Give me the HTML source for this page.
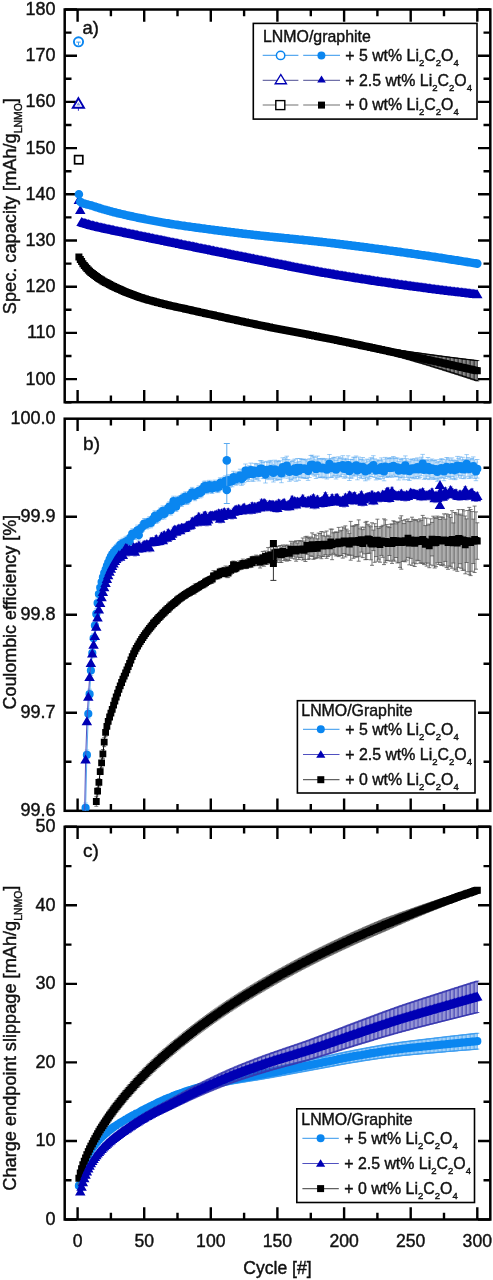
<!DOCTYPE html><html><head><meta charset="utf-8"><title>Figure</title><style>*{margin:0;padding:0}html,body{width:493px;height:1280px;overflow:hidden;background:#fff}
svg{display:block;filter:blur(0.3px)}
text{font-family:"Liberation Sans",Arial,sans-serif;fill:#111}
.tl{font-size:18px}.xl{font-size:17.6px}.xt{font-size:17.6px}.yt{font-size:18.2px}.yb{font-size:17.9px}.ys{font-size:10.4px}
.pl{font-size:19px}.lg{font-size:15.9px}.sb{font-size:9.5px}
text{stroke:#111;stroke-width:0.42px}</style></head><body><svg width="493" height="1280" viewBox="0 0 493 1280"><rect width="493" height="1280" fill="#fff"/><clipPath id="ca"><rect x="64.7" y="9.5" width="425.6" height="392.7"/></clipPath><path d="M77.6 9.5v12.3M77.6 402.2v-12.3M110.9 9.5v6.8M110.9 402.2v-6.8M144.2 9.5v12.3M144.2 402.2v-12.3M177.5 9.5v6.8M177.5 402.2v-6.8M210.8 9.5v12.3M210.8 402.2v-12.3M244.1 9.5v6.8M244.1 402.2v-6.8M277.4 9.5v12.3M277.4 402.2v-12.3M310.8 9.5v6.8M310.8 402.2v-6.8M344.1 9.5v12.3M344.1 402.2v-12.3M377.4 9.5v6.8M377.4 402.2v-6.8M410.7 9.5v12.3M410.7 402.2v-12.3M444 9.5v6.8M444 402.2v-6.8M477.3 9.5v12.3M477.3 402.2v-12.3M64.7 379.1h12.3M490.3 379.1h-12.3M64.7 332.9h12.3M490.3 332.9h-12.3M64.7 286.7h12.3M490.3 286.7h-12.3M64.7 240.5h12.3M490.3 240.5h-12.3M64.7 194.3h12.3M490.3 194.3h-12.3M64.7 148.1h12.3M490.3 148.1h-12.3M64.7 101.9h12.3M490.3 101.9h-12.3M64.7 55.7h12.3M490.3 55.7h-12.3M64.7 9.5h12.3M490.3 9.5h-12.3M64.7 402.2h6.8M490.3 402.2h-6.8M64.7 356h6.8M490.3 356h-6.8M64.7 309.8h6.8M490.3 309.8h-6.8M64.7 263.6h6.8M490.3 263.6h-6.8M64.7 217.4h6.8M490.3 217.4h-6.8M64.7 171.2h6.8M490.3 171.2h-6.8M64.7 125h6.8M490.3 125h-6.8M64.7 78.8h6.8M490.3 78.8h-6.8M64.7 32.6h6.8M490.3 32.6h-6.8" stroke="#000" stroke-width="2.4" fill="none"/><rect x="64.7" y="9.5" width="425.6" height="392.7" fill="none" stroke="#000" stroke-width="2.5"/><text x="55.6" y="384.5" text-anchor="end" class="tl">100</text><text x="55.6" y="338.3" text-anchor="end" class="tl">110</text><text x="55.6" y="292.1" text-anchor="end" class="tl">120</text><text x="55.6" y="245.9" text-anchor="end" class="tl">130</text><text x="55.6" y="199.7" text-anchor="end" class="tl">140</text><text x="55.6" y="153.5" text-anchor="end" class="tl">150</text><text x="55.6" y="107.3" text-anchor="end" class="tl">160</text><text x="55.6" y="61.1" text-anchor="end" class="tl">170</text><text x="55.6" y="14.9" text-anchor="end" class="tl">180</text><g clip-path="url(#ca)"><path d="M78.9 256V258.3M76.9 256h4M76.9 258.3h4M80.3 258.3V260.6M78.3 258.3h4M78.3 260.6h4M81.6 260.5V262.8M79.6 260.5h4M79.6 262.8h4M82.9 262.5V264.8M80.9 262.5h4M80.9 264.8h4M84.3 264.3V266.6M82.3 264.3h4M82.3 266.6h4M85.6 265.9V268.2M83.6 265.9h4M83.6 268.2h4M86.9 267.4V269.7M84.9 267.4h4M84.9 269.7h4M88.3 268.8V271.1M86.3 268.8h4M86.3 271.1h4M89.6 270.1V272.4M87.6 270.1h4M87.6 272.4h4M90.9 271.3V273.6M88.9 271.3h4M88.9 273.6h4M92.3 272.4V274.7M90.3 272.4h4M90.3 274.7h4M93.6 273.5V275.8M91.6 273.5h4M91.6 275.8h4M94.9 274.5V276.8M92.9 274.5h4M92.9 276.8h4M96.3 275.4V277.7M94.3 275.4h4M94.3 277.7h4M97.6 276.4V278.7M95.6 276.4h4M95.6 278.7h4M98.9 277.2V279.5M96.9 277.2h4M96.9 279.5h4M100.2 278.1V280.4M98.2 278.1h4M98.2 280.4h4M101.6 278.9V281.2M99.6 278.9h4M99.6 281.2h4M102.9 279.7V282M100.9 279.7h4M100.9 282h4M104.2 280.5V282.8M102.2 280.5h4M102.2 282.8h4M105.6 281.2V283.6M103.6 281.2h4M103.6 283.6h4M106.9 282V284.3M104.9 282h4M104.9 284.3h4M108.2 282.7V285M106.2 282.7h4M106.2 285h4M109.6 283.4V285.7M107.6 283.4h4M107.6 285.7h4M110.9 284.1V286.4M108.9 284.1h4M108.9 286.4h4M112.2 284.7V287M110.2 284.7h4M110.2 287h4M113.6 285.4V287.7M111.6 285.4h4M111.6 287.7h4M114.9 286V288.3M112.9 286h4M112.9 288.3h4M116.2 286.6V288.9M114.2 286.6h4M114.2 288.9h4M117.6 287.2V289.6M115.6 287.2h4M115.6 289.6h4M118.9 287.9V290.2M116.9 287.9h4M116.9 290.2h4M120.2 288.5V290.8M118.2 288.5h4M118.2 290.8h4M121.6 289.1V291.4M119.6 289.1h4M119.6 291.4h4M122.9 289.6V291.9M120.9 289.6h4M120.9 291.9h4M124.2 290.2V292.5M122.2 290.2h4M122.2 292.5h4M125.6 290.8V293.1M123.6 290.8h4M123.6 293.1h4M126.9 291.3V293.6M124.9 291.3h4M124.9 293.6h4M128.2 291.8V294.2M126.2 291.8h4M126.2 294.2h4M129.6 292.4V294.7M127.6 292.4h4M127.6 294.7h4M130.9 292.9V295.2M128.9 292.9h4M128.9 295.2h4M132.2 293.4V295.7M130.2 293.4h4M130.2 295.7h4M133.6 293.9V296.2M131.6 293.9h4M131.6 296.2h4M134.9 294.4V296.7M132.9 294.4h4M132.9 296.7h4M136.2 294.9V297.2M134.2 294.9h4M134.2 297.2h4M137.6 295.3V297.6M135.6 295.3h4M135.6 297.6h4M138.9 295.8V298.1M136.9 295.8h4M136.9 298.1h4M140.2 296.2V298.5M138.2 296.2h4M138.2 298.5h4M141.6 296.7V299M139.6 296.7h4M139.6 299h4M142.9 297.1V299.4M140.9 297.1h4M140.9 299.4h4M144.2 297.5V299.8M142.2 297.5h4M142.2 299.8h4M145.5 297.9V300.2M143.5 297.9h4M143.5 300.2h4M146.9 298.3V300.6M144.9 298.3h4M144.9 300.6h4M148.2 298.7V301M146.2 298.7h4M146.2 301h4M149.5 299.1V301.4M147.5 299.1h4M147.5 301.4h4M150.9 299.5V301.8M148.9 299.5h4M148.9 301.8h4M152.2 299.8V302.1M150.2 299.8h4M150.2 302.1h4M153.5 300.2V302.5M151.5 300.2h4M151.5 302.5h4M154.9 300.5V302.9M152.9 300.5h4M152.9 302.9h4M156.2 300.9V303.2M154.2 300.9h4M154.2 303.2h4M157.5 301.2V303.5M155.5 301.2h4M155.5 303.5h4M158.9 301.6V303.9M156.9 301.6h4M156.9 303.9h4M160.2 301.9V304.2M158.2 301.9h4M158.2 304.2h4M161.5 302.3V304.6M159.5 302.3h4M159.5 304.6h4M162.9 302.6V304.9M160.9 302.6h4M160.9 304.9h4M164.2 302.9V305.2M162.2 302.9h4M162.2 305.2h4M165.5 303.2V305.5M163.5 303.2h4M163.5 305.5h4M166.9 303.6V305.9M164.9 303.6h4M164.9 305.9h4M168.2 303.9V306.2M166.2 303.9h4M166.2 306.2h4M169.5 304.2V306.5M167.5 304.2h4M167.5 306.5h4M170.9 304.5V306.8M168.9 304.5h4M168.9 306.8h4M172.2 304.8V307.1M170.2 304.8h4M170.2 307.1h4M173.5 305.1V307.4M171.5 305.1h4M171.5 307.4h4M174.9 305.4V307.7M172.9 305.4h4M172.9 307.7h4M176.2 305.7V308M174.2 305.7h4M174.2 308h4M177.5 306V308.3M175.5 306h4M175.5 308.3h4M178.9 306.3V308.6M176.9 306.3h4M176.9 308.6h4M180.2 306.6V308.9M178.2 306.6h4M178.2 308.9h4M181.5 306.9V309.2M179.5 306.9h4M179.5 309.2h4M182.9 307.2V309.5M180.9 307.2h4M180.9 309.5h4M184.2 307.5V309.8M182.2 307.5h4M182.2 309.8h4M185.5 307.8V310.1M183.5 307.8h4M183.5 310.1h4M186.8 308.1V310.4M184.8 308.1h4M184.8 310.4h4M188.2 308.4V310.7M186.2 308.4h4M186.2 310.7h4M189.5 308.6V311M187.5 308.6h4M187.5 311h4M190.8 308.9V311.2M188.8 308.9h4M188.8 311.2h4M192.2 309.2V311.5M190.2 309.2h4M190.2 311.5h4M193.5 309.5V311.8M191.5 309.5h4M191.5 311.8h4M194.8 309.8V312.1M192.8 309.8h4M192.8 312.1h4M196.2 310.1V312.4M194.2 310.1h4M194.2 312.4h4M197.5 310.4V312.7M195.5 310.4h4M195.5 312.7h4M198.8 310.7V313M196.8 310.7h4M196.8 313h4M200.2 311V313.3M198.2 311h4M198.2 313.3h4M201.5 311.3V313.6M199.5 311.3h4M199.5 313.6h4M202.8 311.6V313.9M200.8 311.6h4M200.8 313.9h4M204.2 311.9V314.2M202.2 311.9h4M202.2 314.2h4M205.5 312.2V314.5M203.5 312.2h4M203.5 314.5h4M206.8 312.5V314.8M204.8 312.5h4M204.8 314.8h4M208.2 312.8V315.1M206.2 312.8h4M206.2 315.1h4M209.5 313.1V315.4M207.5 313.1h4M207.5 315.4h4M210.8 313.4V315.7M208.8 313.4h4M208.8 315.7h4M212.2 313.7V316M210.2 313.7h4M210.2 316h4M213.5 314V316.3M211.5 314h4M211.5 316.3h4M214.8 314.3V316.6M212.8 314.3h4M212.8 316.6h4M216.2 314.6V316.9M214.2 314.6h4M214.2 316.9h4M217.5 314.9V317.2M215.5 314.9h4M215.5 317.2h4M218.8 315.2V317.5M216.8 315.2h4M216.8 317.5h4M220.2 315.5V317.8M218.2 315.5h4M218.2 317.8h4M221.5 315.8V318.1M219.5 315.8h4M219.5 318.1h4M222.8 316.1V318.4M220.8 316.1h4M220.8 318.4h4M224.2 316.3V318.7M222.2 316.3h4M222.2 318.7h4M225.5 316.6V318.9M223.5 316.6h4M223.5 318.9h4M226.8 316.9V319.2M224.8 316.9h4M224.8 319.2h4M228.1 317.2V319.5M226.1 317.2h4M226.1 319.5h4M229.5 317.5V319.8M227.5 317.5h4M227.5 319.8h4M230.8 317.8V320.1M228.8 317.8h4M228.8 320.1h4M232.1 318.1V320.4M230.1 318.1h4M230.1 320.4h4M233.5 318.4V320.7M231.5 318.4h4M231.5 320.7h4M234.8 318.7V321M232.8 318.7h4M232.8 321h4M236.1 319V321.3M234.1 319h4M234.1 321.3h4M237.5 319.3V321.6M235.5 319.3h4M235.5 321.6h4M238.8 319.6V321.9M236.8 319.6h4M236.8 321.9h4M240.1 319.8V322.2M238.1 319.8h4M238.1 322.2h4M241.5 320.1V322.4M239.5 320.1h4M239.5 322.4h4M242.8 320.4V322.7M240.8 320.4h4M240.8 322.7h4M244.1 320.7V323M242.1 320.7h4M242.1 323h4M245.5 321V323.3M243.5 321h4M243.5 323.3h4M246.8 321.3V323.6M244.8 321.3h4M244.8 323.6h4M248.1 321.6V323.9M246.1 321.6h4M246.1 323.9h4M249.5 321.8V324.1M247.5 321.8h4M247.5 324.1h4M250.8 322.1V324.4M248.8 322.1h4M248.8 324.4h4M252.1 322.4V324.7M250.1 322.4h4M250.1 324.7h4M253.5 322.7V325M251.5 322.7h4M251.5 325h4M254.8 323V325.3M252.8 323h4M252.8 325.3h4M256.1 323.2V325.6M254.1 323.2h4M254.1 325.6h4M257.5 323.5V325.8M255.5 323.5h4M255.5 325.8h4M258.8 323.8V326.1M256.8 323.8h4M256.8 326.1h4M260.1 324.1V326.4M258.1 324.1h4M258.1 326.4h4M261.5 324.4V326.7M259.5 324.4h4M259.5 326.7h4M262.8 324.6V326.9M260.8 324.6h4M260.8 326.9h4M264.1 324.9V327.2M262.1 324.9h4M262.1 327.2h4M265.5 325.2V327.5M263.5 325.2h4M263.5 327.5h4M266.8 325.4V327.8M264.8 325.4h4M264.8 327.8h4M268.1 325.7V328M266.1 325.7h4M266.1 328h4M269.5 326V328.3M267.5 326h4M267.5 328.3h4M270.8 326.2V328.6M268.8 326.2h4M268.8 328.6h4M272.1 326.5V328.8M270.1 326.5h4M270.1 328.8h4M273.4 326.8V329.1M271.4 326.8h4M271.4 329.1h4M274.8 327V329.3M272.8 327h4M272.8 329.3h4M276.1 327.3V329.6M274.1 327.3h4M274.1 329.6h4M277.4 327.6V329.9M275.4 327.6h4M275.4 329.9h4M278.8 327.8V330.1M276.8 327.8h4M276.8 330.1h4M280.1 328.1V330.4M278.1 328.1h4M278.1 330.4h4M281.4 328.3V330.6M279.4 328.3h4M279.4 330.6h4M282.8 328.6V330.9M280.8 328.6h4M280.8 330.9h4M284.1 328.9V331.2M282.1 328.9h4M282.1 331.2h4M285.4 329.1V331.4M283.4 329.1h4M283.4 331.4h4M286.8 329.4V331.7M284.8 329.4h4M284.8 331.7h4M288.1 329.6V331.9M286.1 329.6h4M286.1 331.9h4M289.4 329.9V332.2M287.4 329.9h4M287.4 332.2h4M290.8 330.1V332.4M288.8 330.1h4M288.8 332.4h4M292.1 330.4V332.7M290.1 330.4h4M290.1 332.7h4M293.4 330.6V333M291.4 330.6h4M291.4 333h4M294.8 330.9V333.2M292.8 330.9h4M292.8 333.2h4M296.1 331.2V333.5M294.1 331.2h4M294.1 333.5h4M297.4 331.4V333.7M295.4 331.4h4M295.4 333.7h4M298.8 331.7V334M296.8 331.7h4M296.8 334h4M300.1 331.9V334.2M298.1 331.9h4M298.1 334.2h4M301.4 332.2V334.5M299.4 332.2h4M299.4 334.5h4M302.8 332.4V334.7M300.8 332.4h4M300.8 334.7h4M304.1 332.7V335M302.1 332.7h4M302.1 335h4M305.4 332.9V335.2M303.4 332.9h4M303.4 335.2h4M306.8 333.2V335.5M304.8 333.2h4M304.8 335.5h4M308.1 333.4V335.8M306.1 333.4h4M306.1 335.8h4M309.4 333.7V336M307.4 333.7h4M307.4 336h4M310.8 334V336.3M308.8 334h4M308.8 336.3h4M312.1 334.2V336.5M310.1 334.2h4M310.1 336.5h4M313.4 334.5V336.8M311.4 334.5h4M311.4 336.8h4M314.7 334.7V337M312.7 334.7h4M312.7 337h4M316.1 335V337.3M314.1 335h4M314.1 337.3h4M317.4 335.2V337.5M315.4 335.2h4M315.4 337.5h4M318.7 335.5V337.8M316.7 335.5h4M316.7 337.8h4M320.1 335.8V338.1M318.1 335.8h4M318.1 338.1h4M321.4 336V338.3M319.4 336h4M319.4 338.3h4M322.7 336.3V338.6M320.7 336.3h4M320.7 338.6h4M324.1 336.5V338.9M322.1 336.5h4M322.1 338.9h4M325.4 336.8V339.1M323.4 336.8h4M323.4 339.1h4M326.7 337.1V339.4M324.7 337.1h4M324.7 339.4h4M328.1 337.3V339.6M326.1 337.3h4M326.1 339.6h4M329.4 337.6V339.9M327.4 337.6h4M327.4 339.9h4M330.7 337.9V340.2M328.7 337.9h4M328.7 340.2h4M332.1 338.1V340.4M330.1 338.1h4M330.1 340.4h4M333.4 338.4V340.7M331.4 338.4h4M331.4 340.7h4M334.7 338.7V341M332.7 338.7h4M332.7 341h4M336.1 338.9V341.3M334.1 338.9h4M334.1 341.3h4M337.4 339.2V341.5M335.4 339.2h4M335.4 341.5h4M338.7 339.5V341.8M336.7 339.5h4M336.7 341.8h4M340.1 339.8V342.1M338.1 339.8h4M338.1 342.1h4M341.4 340V342.3M339.4 340h4M339.4 342.3h4M342.7 340.3V342.6M340.7 340.3h4M340.7 342.6h4M344.1 340.6V342.9M342.1 340.6h4M342.1 342.9h4M345.4 340.9V343.2M343.4 340.9h4M343.4 343.2h4M346.7 341.1V343.5M344.7 341.1h4M344.7 343.5h4M348.1 341.4V343.8M346.1 341.4h4M346.1 343.8h4M349.4 341.6V344.1M347.4 341.6h4M347.4 344.1h4M350.7 341.9V344.4M348.7 341.9h4M348.7 344.4h4M352.1 342.2V344.7M350.1 342.2h4M350.1 344.7h4M353.4 342.4V345M351.4 342.4h4M351.4 345h4M354.7 342.7V345.3M352.7 342.7h4M352.7 345.3h4M356.1 342.9V345.6M354.1 342.9h4M354.1 345.6h4M357.4 343.1V345.9M355.4 343.1h4M355.4 345.9h4M358.7 343.4V346.2M356.7 343.4h4M356.7 346.2h4M360 343.6V346.5M358 343.6h4M358 346.5h4M361.4 343.9V346.9M359.4 343.9h4M359.4 346.9h4M362.7 344.1V347.2M360.7 344.1h4M360.7 347.2h4M364 344.4V347.5M362 344.4h4M362 347.5h4M365.4 344.6V347.9M363.4 344.6h4M363.4 347.9h4M366.7 344.8V348.2M364.7 344.8h4M364.7 348.2h4M368 345.1V348.5M366 345.1h4M366 348.5h4M369.4 345.3V348.9M367.4 345.3h4M367.4 348.9h4M370.7 345.5V349.2M368.7 345.5h4M368.7 349.2h4M372 345.7V349.5M370 345.7h4M370 349.5h4M373.4 346V349.9M371.4 346h4M371.4 349.9h4M374.7 346.2V350.2M372.7 346.2h4M372.7 350.2h4M376 346.4V350.6M374 346.4h4M374 350.6h4M377.4 346.7V350.9M375.4 346.7h4M375.4 350.9h4M378.7 346.9V351.3M376.7 346.9h4M376.7 351.3h4M380 347.1V351.6M378 347.1h4M378 351.6h4M381.4 347.3V352M379.4 347.3h4M379.4 352h4M382.7 347.5V352.3M380.7 347.5h4M380.7 352.3h4M384 347.8V352.7M382 347.8h4M382 352.7h4M385.4 348V353M383.4 348h4M383.4 353h4M386.7 348.2V353.4M384.7 348.2h4M384.7 353.4h4M388 348.4V353.8M386 348.4h4M386 353.8h4M389.4 348.6V354.1M387.4 348.6h4M387.4 354.1h4M390.7 348.8V354.5M388.7 348.8h4M388.7 354.5h4M392 349V354.9M390 349h4M390 354.9h4M393.4 349.3V355.2M391.4 349.3h4M391.4 355.2h4M394.7 349.5V355.6M392.7 349.5h4M392.7 355.6h4M396 349.7V356M394 349.7h4M394 356h4M397.4 349.9V356.3M395.4 349.9h4M395.4 356.3h4M398.7 350.1V356.7M396.7 350.1h4M396.7 356.7h4M400 350.3V357.1M398 350.3h4M398 357.1h4M401.3 350.5V357.5M399.3 350.5h4M399.3 357.5h4M402.7 350.7V357.8M400.7 350.7h4M400.7 357.8h4M404 350.9V358.2M402 350.9h4M402 358.2h4M405.3 351.1V358.6M403.3 351.1h4M403.3 358.6h4M406.7 351.3V359M404.7 351.3h4M404.7 359h4M408 351.5V359.4M406 351.5h4M406 359.4h4M409.3 351.7V359.7M407.3 351.7h4M407.3 359.7h4M410.7 351.9V360.1M408.7 351.9h4M408.7 360.1h4M412 352.1V360.5M410 352.1h4M410 360.5h4M413.3 352.3V360.9M411.3 352.3h4M411.3 360.9h4M414.7 352.5V361.3M412.7 352.5h4M412.7 361.3h4M416 352.6V361.7M414 352.6h4M414 361.7h4M417.3 352.8V362.1M415.3 352.8h4M415.3 362.1h4M418.7 353V362.5M416.7 353h4M416.7 362.5h4M420 353.2V362.8M418 353.2h4M418 362.8h4M421.3 353.4V363.2M419.3 353.4h4M419.3 363.2h4M422.7 353.6V363.6M420.7 353.6h4M420.7 363.6h4M424 353.8V364M422 353.8h4M422 364h4M425.3 354V364.4M423.3 354h4M423.3 364.4h4M426.7 354.2V364.8M424.7 354.2h4M424.7 364.8h4M428 354.3V365.2M426 354.3h4M426 365.2h4M429.3 354.5V365.6M427.3 354.5h4M427.3 365.6h4M430.7 354.7V366M428.7 354.7h4M428.7 366h4M432 354.9V366.4M430 354.9h4M430 366.4h4M433.3 355.1V366.9M431.3 355.1h4M431.3 366.9h4M434.7 355.2V367.3M432.7 355.2h4M432.7 367.3h4M436 355.4V367.7M434 355.4h4M434 367.7h4M437.3 355.6V368.1M435.3 355.6h4M435.3 368.1h4M438.7 355.8V368.5M436.7 355.8h4M436.7 368.5h4M440 356V368.9M438 356h4M438 368.9h4M441.3 356.1V369.3M439.3 356.1h4M439.3 369.3h4M442.7 356.3V369.7M440.7 356.3h4M440.7 369.7h4M444 356.5V370.2M442 356.5h4M442 370.2h4M445.3 356.7V370.6M443.3 356.7h4M443.3 370.6h4M446.6 356.8V371M444.6 356.8h4M444.6 371h4M448 357V371.4M446 357h4M446 371.4h4M449.3 357.2V371.8M447.3 357.2h4M447.3 371.8h4M450.6 357.4V372.3M448.6 357.4h4M448.6 372.3h4M452 357.5V372.7M450 357.5h4M450 372.7h4M453.3 357.7V373.1M451.3 357.7h4M451.3 373.1h4M454.6 357.9V373.5M452.6 357.9h4M452.6 373.5h4M456 358V374M454 358h4M454 374h4M457.3 358.2V374.4M455.3 358.2h4M455.3 374.4h4M458.6 358.4V374.8M456.6 358.4h4M456.6 374.8h4M460 358.5V375.2M458 358.5h4M458 375.2h4M461.3 358.7V375.7M459.3 358.7h4M459.3 375.7h4M462.6 358.9V376.1M460.6 358.9h4M460.6 376.1h4M464 359V376.5M462 359h4M462 376.5h4M465.3 359.2V377M463.3 359.2h4M463.3 377h4M466.6 359.4V377.4M464.6 359.4h4M464.6 377.4h4M468 359.5V377.8M466 359.5h4M466 377.8h4M469.3 359.7V378.3M467.3 359.7h4M467.3 378.3h4M470.6 359.8V378.7M468.6 359.8h4M468.6 378.7h4M472 360V379.2M470 360h4M470 379.2h4M473.3 360.2V379.6M471.3 360.2h4M471.3 379.6h4M474.6 360.3V380M472.6 360.3h4M472.6 380h4M476 360.5V380.5M474 360.5h4M474 380.5h4M477.3 360.6V380.9M475.3 360.6h4M475.3 380.9h4" stroke="#000" stroke-width="0.8" fill="none"/><path d="M75.4 253.6h7v7h-7zM76.8 255.9h7v7h-7zM78.1 258.1h7v7h-7zM79.4 260.2h7v7h-7zM80.8 261.9h7v7h-7zM82.1 263.5h7v7h-7zM83.4 265h7v7h-7zM84.8 266.4h7v7h-7zM86.1 267.7h7v7h-7zM87.4 268.9h7v7h-7zM88.8 270.1h7v7h-7zM90.1 271.1h7v7h-7zM91.4 272.1h7v7h-7zM92.8 273.1h7v7h-7zM94.1 274h7v7h-7zM95.4 274.9h7v7h-7zM96.7 275.7h7v7h-7zM98.1 276.6h7v7h-7zM99.4 277.4h7v7h-7zM100.7 278.2h7v7h-7zM102.1 278.9h7v7h-7zM103.4 279.6h7v7h-7zM104.7 280.3h7v7h-7zM106.1 281h7v7h-7zM107.4 281.7h7v7h-7zM108.7 282.4h7v7h-7zM110.1 283h7v7h-7zM111.4 283.7h7v7h-7zM112.7 284.3h7v7h-7zM114.1 284.9h7v7h-7zM115.4 285.5h7v7h-7zM116.7 286.1h7v7h-7zM118.1 286.7h7v7h-7zM119.4 287.3h7v7h-7zM120.7 287.9h7v7h-7zM122.1 288.4h7v7h-7zM123.4 289h7v7h-7zM124.7 289.5h7v7h-7zM126.1 290h7v7h-7zM127.4 290.5h7v7h-7zM128.7 291.1h7v7h-7zM130.1 291.6h7v7h-7zM131.4 292h7v7h-7zM132.7 292.5h7v7h-7zM134.1 293h7v7h-7zM135.4 293.4h7v7h-7zM136.7 293.9h7v7h-7zM138.1 294.3h7v7h-7zM139.4 294.8h7v7h-7zM140.7 295.2h7v7h-7zM142 295.6h7v7h-7zM143.4 296h7v7h-7zM144.7 296.4h7v7h-7zM146 296.7h7v7h-7zM147.4 297.1h7v7h-7zM148.7 297.5h7v7h-7zM150 297.8h7v7h-7zM151.4 298.2h7v7h-7zM152.7 298.6h7v7h-7zM154 298.9h7v7h-7zM155.4 299.2h7v7h-7zM156.7 299.6h7v7h-7zM158 299.9h7v7h-7zM159.4 300.2h7v7h-7zM160.7 300.6h7v7h-7zM162 300.9h7v7h-7zM163.4 301.2h7v7h-7zM164.7 301.5h7v7h-7zM166 301.9h7v7h-7zM167.4 302.2h7v7h-7zM168.7 302.5h7v7h-7zM170 302.8h7v7h-7zM171.4 303.1h7v7h-7zM172.7 303.4h7v7h-7zM174 303.7h7v7h-7zM175.4 304h7v7h-7zM176.7 304.3h7v7h-7zM178 304.6h7v7h-7zM179.4 304.8h7v7h-7zM180.7 305.1h7v7h-7zM182 305.4h7v7h-7zM183.3 305.7h7v7h-7zM184.7 306h7v7h-7zM186 306.3h7v7h-7zM187.3 306.6h7v7h-7zM188.7 306.9h7v7h-7zM190 307.2h7v7h-7zM191.3 307.5h7v7h-7zM192.7 307.8h7v7h-7zM194 308.1h7v7h-7zM195.3 308.4h7v7h-7zM196.7 308.7h7v7h-7zM198 309h7v7h-7zM199.3 309.3h7v7h-7zM200.7 309.6h7v7h-7zM202 309.9h7v7h-7zM203.3 310.2h7v7h-7zM204.7 310.5h7v7h-7zM206 310.7h7v7h-7zM207.3 311h7v7h-7zM208.7 311.3h7v7h-7zM210 311.6h7v7h-7zM211.3 311.9h7v7h-7zM212.7 312.2h7v7h-7zM214 312.5h7v7h-7zM215.3 312.8h7v7h-7zM216.7 313.1h7v7h-7zM218 313.4h7v7h-7zM219.3 313.7h7v7h-7zM220.7 314h7v7h-7zM222 314.3h7v7h-7zM223.3 314.6h7v7h-7zM224.6 314.9h7v7h-7zM226 315.2h7v7h-7zM227.3 315.5h7v7h-7zM228.6 315.8h7v7h-7zM230 316h7v7h-7zM231.3 316.3h7v7h-7zM232.6 316.6h7v7h-7zM234 316.9h7v7h-7zM235.3 317.2h7v7h-7zM236.6 317.5h7v7h-7zM238 317.8h7v7h-7zM239.3 318.1h7v7h-7zM240.6 318.4h7v7h-7zM242 318.6h7v7h-7zM243.3 318.9h7v7h-7zM244.6 319.2h7v7h-7zM246 319.5h7v7h-7zM247.3 319.8h7v7h-7zM248.6 320.1h7v7h-7zM250 320.3h7v7h-7zM251.3 320.6h7v7h-7zM252.6 320.9h7v7h-7zM254 321.2h7v7h-7zM255.3 321.5h7v7h-7zM256.6 321.7h7v7h-7zM258 322h7v7h-7zM259.3 322.3h7v7h-7zM260.6 322.6h7v7h-7zM262 322.8h7v7h-7zM263.3 323.1h7v7h-7zM264.6 323.4h7v7h-7zM266 323.6h7v7h-7zM267.3 323.9h7v7h-7zM268.6 324.2h7v7h-7zM269.9 324.4h7v7h-7zM271.3 324.7h7v7h-7zM272.6 325h7v7h-7zM273.9 325.2h7v7h-7zM275.3 325.5h7v7h-7zM276.6 325.7h7v7h-7zM277.9 326h7v7h-7zM279.3 326.3h7v7h-7zM280.6 326.5h7v7h-7zM281.9 326.8h7v7h-7zM283.3 327h7v7h-7zM284.6 327.3h7v7h-7zM285.9 327.5h7v7h-7zM287.3 327.8h7v7h-7zM288.6 328h7v7h-7zM289.9 328.3h7v7h-7zM291.3 328.6h7v7h-7zM292.6 328.8h7v7h-7zM293.9 329.1h7v7h-7zM295.3 329.3h7v7h-7zM296.6 329.6h7v7h-7zM297.9 329.8h7v7h-7zM299.3 330.1h7v7h-7zM300.6 330.3h7v7h-7zM301.9 330.6h7v7h-7zM303.3 330.8h7v7h-7zM304.6 331.1h7v7h-7zM305.9 331.4h7v7h-7zM307.3 331.6h7v7h-7zM308.6 331.9h7v7h-7zM309.9 332.1h7v7h-7zM311.2 332.4h7v7h-7zM312.6 332.6h7v7h-7zM313.9 332.9h7v7h-7zM315.2 333.2h7v7h-7zM316.6 333.4h7v7h-7zM317.9 333.7h7v7h-7zM319.2 333.9h7v7h-7zM320.6 334.2h7v7h-7zM321.9 334.5h7v7h-7zM323.2 334.7h7v7h-7zM324.6 335h7v7h-7zM325.9 335.3h7v7h-7zM327.2 335.5h7v7h-7zM328.6 335.8h7v7h-7zM329.9 336.1h7v7h-7zM331.2 336.3h7v7h-7zM332.6 336.6h7v7h-7zM333.9 336.9h7v7h-7zM335.2 337.1h7v7h-7zM336.6 337.4h7v7h-7zM337.9 337.7h7v7h-7zM339.2 338h7v7h-7zM340.6 338.2h7v7h-7zM341.9 338.5h7v7h-7zM343.2 338.8h7v7h-7zM344.6 339.1h7v7h-7zM345.9 339.4h7v7h-7zM347.2 339.6h7v7h-7zM348.6 339.9h7v7h-7zM349.9 340.2h7v7h-7zM351.2 340.5h7v7h-7zM352.6 340.7h7v7h-7zM353.9 341h7v7h-7zM355.2 341.3h7v7h-7zM356.5 341.6h7v7h-7zM357.9 341.9h7v7h-7zM359.2 342.2h7v7h-7zM360.5 342.4h7v7h-7zM361.9 342.7h7v7h-7zM363.2 343h7v7h-7zM364.5 343.3h7v7h-7zM365.9 343.6h7v7h-7zM367.2 343.9h7v7h-7zM368.5 344.1h7v7h-7zM369.9 344.4h7v7h-7zM371.2 344.7h7v7h-7zM372.5 345h7v7h-7zM373.9 345.3h7v7h-7zM375.2 345.6h7v7h-7zM376.5 345.9h7v7h-7zM377.9 346.1h7v7h-7zM379.2 346.4h7v7h-7zM380.5 346.7h7v7h-7zM381.9 347h7v7h-7zM383.2 347.3h7v7h-7zM384.5 347.6h7v7h-7zM385.9 347.9h7v7h-7zM387.2 348.2h7v7h-7zM388.5 348.4h7v7h-7zM389.9 348.7h7v7h-7zM391.2 349h7v7h-7zM392.5 349.3h7v7h-7zM393.9 349.6h7v7h-7zM395.2 349.9h7v7h-7zM396.5 350.2h7v7h-7zM397.8 350.5h7v7h-7zM399.2 350.8h7v7h-7zM400.5 351.1h7v7h-7zM401.8 351.3h7v7h-7zM403.2 351.6h7v7h-7zM404.5 351.9h7v7h-7zM405.8 352.2h7v7h-7zM407.2 352.5h7v7h-7zM408.5 352.8h7v7h-7zM409.8 353.1h7v7h-7zM411.2 353.4h7v7h-7zM412.5 353.7h7v7h-7zM413.8 354h7v7h-7zM415.2 354.2h7v7h-7zM416.5 354.5h7v7h-7zM417.8 354.8h7v7h-7zM419.2 355.1h7v7h-7zM420.5 355.4h7v7h-7zM421.8 355.7h7v7h-7zM423.2 356h7v7h-7zM424.5 356.3h7v7h-7zM425.8 356.6h7v7h-7zM427.2 356.9h7v7h-7zM428.5 357.2h7v7h-7zM429.8 357.5h7v7h-7zM431.2 357.8h7v7h-7zM432.5 358h7v7h-7zM433.8 358.3h7v7h-7zM435.2 358.6h7v7h-7zM436.5 358.9h7v7h-7zM437.8 359.2h7v7h-7zM439.2 359.5h7v7h-7zM440.5 359.8h7v7h-7zM441.8 360.1h7v7h-7zM443.1 360.4h7v7h-7zM444.5 360.7h7v7h-7zM445.8 361h7v7h-7zM447.1 361.3h7v7h-7zM448.5 361.6h7v7h-7zM449.8 361.9h7v7h-7zM451.1 362.2h7v7h-7zM452.5 362.5h7v7h-7zM453.8 362.8h7v7h-7zM455.1 363.1h7v7h-7zM456.5 363.4h7v7h-7zM457.8 363.7h7v7h-7zM459.1 364h7v7h-7zM460.5 364.3h7v7h-7zM461.8 364.6h7v7h-7zM463.1 364.9h7v7h-7zM464.5 365.2h7v7h-7zM465.8 365.5h7v7h-7zM467.1 365.8h7v7h-7zM468.5 366.1h7v7h-7zM469.8 366.4h7v7h-7zM471.1 366.7h7v7h-7zM472.5 367h7v7h-7zM473.8 367.3h7v7h-7z" fill="#000"/><path d="M78.9 194.9l5.2 9h-10.5zM80.3 205.1l5.2 9h-10.5zM81.6 217.1l5.2 9h-10.5zM82.9 217.5l5.2 9h-10.5zM84.3 217.9l5.2 9h-10.5zM85.6 218.3l5.2 9h-10.5zM86.9 218.7l5.2 9h-10.5zM88.3 219.1l5.2 9h-10.5zM89.6 219.5l5.2 9h-10.5zM90.9 219.9l5.2 9h-10.5zM92.3 220.2l5.2 9h-10.5zM93.6 220.6l5.2 9h-10.5zM94.9 220.9l5.2 9h-10.5zM96.3 221.2l5.2 9h-10.5zM97.6 221.5l5.2 9h-10.5zM98.9 221.9l5.2 9h-10.5zM100.2 222.2l5.2 9h-10.5zM101.6 222.5l5.2 9h-10.5zM102.9 222.8l5.2 9h-10.5zM104.2 223.1l5.2 9h-10.5zM105.6 223.4l5.2 9h-10.5zM106.9 223.7l5.2 9h-10.5zM108.2 224l5.2 9h-10.5zM109.6 224.3l5.2 9h-10.5zM110.9 224.6l5.2 9h-10.5zM112.2 224.8l5.2 9h-10.5zM113.6 225.1l5.2 9h-10.5zM114.9 225.4l5.2 9h-10.5zM116.2 225.7l5.2 9h-10.5zM117.6 226l5.2 9h-10.5zM118.9 226.2l5.2 9h-10.5zM120.2 226.5l5.2 9h-10.5zM121.6 226.8l5.2 9h-10.5zM122.9 227.1l5.2 9h-10.5zM124.2 227.3l5.2 9h-10.5zM125.6 227.6l5.2 9h-10.5zM126.9 227.9l5.2 9h-10.5zM128.2 228.2l5.2 9h-10.5zM129.6 228.4l5.2 9h-10.5zM130.9 228.7l5.2 9h-10.5zM132.2 229l5.2 9h-10.5zM133.6 229.3l5.2 9h-10.5zM134.9 229.6l5.2 9h-10.5zM136.2 229.8l5.2 9h-10.5zM137.6 230.1l5.2 9h-10.5zM138.9 230.4l5.2 9h-10.5zM140.2 230.7l5.2 9h-10.5zM141.6 230.9l5.2 9h-10.5zM142.9 231.2l5.2 9h-10.5zM144.2 231.5l5.2 9h-10.5zM145.5 231.8l5.2 9h-10.5zM146.9 232l5.2 9h-10.5zM148.2 232.3l5.2 9h-10.5zM149.5 232.6l5.2 9h-10.5zM150.9 232.9l5.2 9h-10.5zM152.2 233.1l5.2 9h-10.5zM153.5 233.4l5.2 9h-10.5zM154.9 233.7l5.2 9h-10.5zM156.2 234l5.2 9h-10.5zM157.5 234.2l5.2 9h-10.5zM158.9 234.5l5.2 9h-10.5zM160.2 234.8l5.2 9h-10.5zM161.5 235l5.2 9h-10.5zM162.9 235.3l5.2 9h-10.5zM164.2 235.6l5.2 9h-10.5zM165.5 235.9l5.2 9h-10.5zM166.9 236.1l5.2 9h-10.5zM168.2 236.4l5.2 9h-10.5zM169.5 236.7l5.2 9h-10.5zM170.9 236.9l5.2 9h-10.5zM172.2 237.2l5.2 9h-10.5zM173.5 237.5l5.2 9h-10.5zM174.9 237.8l5.2 9h-10.5zM176.2 238l5.2 9h-10.5zM177.5 238.3l5.2 9h-10.5zM178.9 238.6l5.2 9h-10.5zM180.2 238.9l5.2 9h-10.5zM181.5 239.1l5.2 9h-10.5zM182.9 239.4l5.2 9h-10.5zM184.2 239.7l5.2 9h-10.5zM185.5 239.9l5.2 9h-10.5zM186.8 240.2l5.2 9h-10.5zM188.2 240.5l5.2 9h-10.5zM189.5 240.8l5.2 9h-10.5zM190.8 241l5.2 9h-10.5zM192.2 241.3l5.2 9h-10.5zM193.5 241.6l5.2 9h-10.5zM194.8 241.8l5.2 9h-10.5zM196.2 242.1l5.2 9h-10.5zM197.5 242.4l5.2 9h-10.5zM198.8 242.7l5.2 9h-10.5zM200.2 242.9l5.2 9h-10.5zM201.5 243.2l5.2 9h-10.5zM202.8 243.5l5.2 9h-10.5zM204.2 243.7l5.2 9h-10.5zM205.5 244l5.2 9h-10.5zM206.8 244.3l5.2 9h-10.5zM208.2 244.6l5.2 9h-10.5zM209.5 244.8l5.2 9h-10.5zM210.8 245.1l5.2 9h-10.5zM212.2 245.4l5.2 9h-10.5zM213.5 245.6l5.2 9h-10.5zM214.8 245.9l5.2 9h-10.5zM216.2 246.2l5.2 9h-10.5zM217.5 246.4l5.2 9h-10.5zM218.8 246.7l5.2 9h-10.5zM220.2 247l5.2 9h-10.5zM221.5 247.3l5.2 9h-10.5zM222.8 247.5l5.2 9h-10.5zM224.2 247.8l5.2 9h-10.5zM225.5 248.1l5.2 9h-10.5zM226.8 248.3l5.2 9h-10.5zM228.1 248.6l5.2 9h-10.5zM229.5 248.9l5.2 9h-10.5zM230.8 249.1l5.2 9h-10.5zM232.1 249.4l5.2 9h-10.5zM233.5 249.7l5.2 9h-10.5zM234.8 249.9l5.2 9h-10.5zM236.1 250.2l5.2 9h-10.5zM237.5 250.5l5.2 9h-10.5zM238.8 250.7l5.2 9h-10.5zM240.1 251l5.2 9h-10.5zM241.5 251.3l5.2 9h-10.5zM242.8 251.5l5.2 9h-10.5zM244.1 251.8l5.2 9h-10.5zM245.5 252.1l5.2 9h-10.5zM246.8 252.3l5.2 9h-10.5zM248.1 252.6l5.2 9h-10.5zM249.5 252.9l5.2 9h-10.5zM250.8 253.1l5.2 9h-10.5zM252.1 253.4l5.2 9h-10.5zM253.5 253.6l5.2 9h-10.5zM254.8 253.9l5.2 9h-10.5zM256.1 254.2l5.2 9h-10.5zM257.5 254.4l5.2 9h-10.5zM258.8 254.7l5.2 9h-10.5zM260.1 255l5.2 9h-10.5zM261.5 255.2l5.2 9h-10.5zM262.8 255.5l5.2 9h-10.5zM264.1 255.8l5.2 9h-10.5zM265.5 256l5.2 9h-10.5zM266.8 256.3l5.2 9h-10.5zM268.1 256.6l5.2 9h-10.5zM269.5 256.9l5.2 9h-10.5zM270.8 257.1l5.2 9h-10.5zM272.1 257.4l5.2 9h-10.5zM273.4 257.7l5.2 9h-10.5zM274.8 257.9l5.2 9h-10.5zM276.1 258.2l5.2 9h-10.5zM277.4 258.5l5.2 9h-10.5zM278.8 258.7l5.2 9h-10.5zM280.1 259l5.2 9h-10.5zM281.4 259.3l5.2 9h-10.5zM282.8 259.5l5.2 9h-10.5zM284.1 259.8l5.2 9h-10.5zM285.4 260.1l5.2 9h-10.5zM286.8 260.3l5.2 9h-10.5zM288.1 260.6l5.2 9h-10.5zM289.4 260.9l5.2 9h-10.5zM290.8 261.1l5.2 9h-10.5zM292.1 261.4l5.2 9h-10.5zM293.4 261.7l5.2 9h-10.5zM294.8 261.9l5.2 9h-10.5zM296.1 262.2l5.2 9h-10.5zM297.4 262.4l5.2 9h-10.5zM298.8 262.7l5.2 9h-10.5zM300.1 263l5.2 9h-10.5zM301.4 263.2l5.2 9h-10.5zM302.8 263.5l5.2 9h-10.5zM304.1 263.7l5.2 9h-10.5zM305.4 264l5.2 9h-10.5zM306.8 264.2l5.2 9h-10.5zM308.1 264.5l5.2 9h-10.5zM309.4 264.8l5.2 9h-10.5zM310.8 265l5.2 9h-10.5zM312.1 265.3l5.2 9h-10.5zM313.4 265.5l5.2 9h-10.5zM314.7 265.7l5.2 9h-10.5zM316.1 266l5.2 9h-10.5zM317.4 266.2l5.2 9h-10.5zM318.7 266.5l5.2 9h-10.5zM320.1 266.7l5.2 9h-10.5zM321.4 267l5.2 9h-10.5zM322.7 267.2l5.2 9h-10.5zM324.1 267.4l5.2 9h-10.5zM325.4 267.7l5.2 9h-10.5zM326.7 267.9l5.2 9h-10.5zM328.1 268.1l5.2 9h-10.5zM329.4 268.4l5.2 9h-10.5zM330.7 268.6l5.2 9h-10.5zM332.1 268.8l5.2 9h-10.5zM333.4 269l5.2 9h-10.5zM334.7 269.3l5.2 9h-10.5zM336.1 269.5l5.2 9h-10.5zM337.4 269.7l5.2 9h-10.5zM338.7 269.9l5.2 9h-10.5zM340.1 270.2l5.2 9h-10.5zM341.4 270.4l5.2 9h-10.5zM342.7 270.6l5.2 9h-10.5zM344.1 270.8l5.2 9h-10.5zM345.4 271l5.2 9h-10.5zM346.7 271.3l5.2 9h-10.5zM348.1 271.5l5.2 9h-10.5zM349.4 271.7l5.2 9h-10.5zM350.7 271.9l5.2 9h-10.5zM352.1 272.1l5.2 9h-10.5zM353.4 272.3l5.2 9h-10.5zM354.7 272.6l5.2 9h-10.5zM356.1 272.8l5.2 9h-10.5zM357.4 273l5.2 9h-10.5zM358.7 273.2l5.2 9h-10.5zM360 273.4l5.2 9h-10.5zM361.4 273.6l5.2 9h-10.5zM362.7 273.8l5.2 9h-10.5zM364 274l5.2 9h-10.5zM365.4 274.2l5.2 9h-10.5zM366.7 274.4l5.2 9h-10.5zM368 274.6l5.2 9h-10.5zM369.4 274.8l5.2 9h-10.5zM370.7 275.1l5.2 9h-10.5zM372 275.3l5.2 9h-10.5zM373.4 275.5l5.2 9h-10.5zM374.7 275.7l5.2 9h-10.5zM376 275.9l5.2 9h-10.5zM377.4 276.1l5.2 9h-10.5zM378.7 276.3l5.2 9h-10.5zM380 276.5l5.2 9h-10.5zM381.4 276.7l5.2 9h-10.5zM382.7 276.9l5.2 9h-10.5zM384 277l5.2 9h-10.5zM385.4 277.2l5.2 9h-10.5zM386.7 277.4l5.2 9h-10.5zM388 277.6l5.2 9h-10.5zM389.4 277.8l5.2 9h-10.5zM390.7 278l5.2 9h-10.5zM392 278.2l5.2 9h-10.5zM393.4 278.4l5.2 9h-10.5zM394.7 278.6l5.2 9h-10.5zM396 278.8l5.2 9h-10.5zM397.4 279l5.2 9h-10.5zM398.7 279.2l5.2 9h-10.5zM400 279.4l5.2 9h-10.5zM401.3 279.5l5.2 9h-10.5zM402.7 279.7l5.2 9h-10.5zM404 279.9l5.2 9h-10.5zM405.3 280.1l5.2 9h-10.5zM406.7 280.3l5.2 9h-10.5zM408 280.5l5.2 9h-10.5zM409.3 280.7l5.2 9h-10.5zM410.7 280.8l5.2 9h-10.5zM412 281l5.2 9h-10.5zM413.3 281.2l5.2 9h-10.5zM414.7 281.4l5.2 9h-10.5zM416 281.6l5.2 9h-10.5zM417.3 281.7l5.2 9h-10.5zM418.7 281.9l5.2 9h-10.5zM420 282.1l5.2 9h-10.5zM421.3 282.3l5.2 9h-10.5zM422.7 282.5l5.2 9h-10.5zM424 282.6l5.2 9h-10.5zM425.3 282.8l5.2 9h-10.5zM426.7 283l5.2 9h-10.5zM428 283.2l5.2 9h-10.5zM429.3 283.3l5.2 9h-10.5zM430.7 283.5l5.2 9h-10.5zM432 283.7l5.2 9h-10.5zM433.3 283.9l5.2 9h-10.5zM434.7 284l5.2 9h-10.5zM436 284.2l5.2 9h-10.5zM437.3 284.4l5.2 9h-10.5zM438.7 284.5l5.2 9h-10.5zM440 284.7l5.2 9h-10.5zM441.3 284.9l5.2 9h-10.5zM442.7 285l5.2 9h-10.5zM444 285.2l5.2 9h-10.5zM445.3 285.4l5.2 9h-10.5zM446.6 285.5l5.2 9h-10.5zM448 285.7l5.2 9h-10.5zM449.3 285.9l5.2 9h-10.5zM450.6 286l5.2 9h-10.5zM452 286.2l5.2 9h-10.5zM453.3 286.4l5.2 9h-10.5zM454.6 286.5l5.2 9h-10.5zM456 286.7l5.2 9h-10.5zM457.3 286.8l5.2 9h-10.5zM458.6 287l5.2 9h-10.5zM460 287.2l5.2 9h-10.5zM461.3 287.3l5.2 9h-10.5zM462.6 287.5l5.2 9h-10.5zM464 287.6l5.2 9h-10.5zM465.3 287.8l5.2 9h-10.5zM466.6 287.9l5.2 9h-10.5zM468 288.1l5.2 9h-10.5zM469.3 288.2l5.2 9h-10.5zM470.6 288.4l5.2 9h-10.5zM472 288.6l5.2 9h-10.5zM473.3 288.7l5.2 9h-10.5zM474.6 288.9l5.2 9h-10.5zM476 289l5.2 9h-10.5zM477.3 289.2l5.2 9h-10.5z" fill="#0000b4"/><path d="M78.9 194.3m-4.3 0a4.3 4.3 0 1 0 8.6 0a4.3 4.3 0 1 0 -8.6 0M80.3 201.7m-4.3 0a4.3 4.3 0 1 0 8.6 0a4.3 4.3 0 1 0 -8.6 0M81.6 202.6m-4.3 0a4.3 4.3 0 1 0 8.6 0a4.3 4.3 0 1 0 -8.6 0M82.9 203.2m-4.3 0a4.3 4.3 0 1 0 8.6 0a4.3 4.3 0 1 0 -8.6 0M84.3 203.6m-4.3 0a4.3 4.3 0 1 0 8.6 0a4.3 4.3 0 1 0 -8.6 0M85.6 204m-4.3 0a4.3 4.3 0 1 0 8.6 0a4.3 4.3 0 1 0 -8.6 0M86.9 204.4m-4.3 0a4.3 4.3 0 1 0 8.6 0a4.3 4.3 0 1 0 -8.6 0M88.3 204.7m-4.3 0a4.3 4.3 0 1 0 8.6 0a4.3 4.3 0 1 0 -8.6 0M89.6 205m-4.3 0a4.3 4.3 0 1 0 8.6 0a4.3 4.3 0 1 0 -8.6 0M90.9 205.4m-4.3 0a4.3 4.3 0 1 0 8.6 0a4.3 4.3 0 1 0 -8.6 0M92.3 205.8m-4.3 0a4.3 4.3 0 1 0 8.6 0a4.3 4.3 0 1 0 -8.6 0M93.6 206.2m-4.3 0a4.3 4.3 0 1 0 8.6 0a4.3 4.3 0 1 0 -8.6 0M94.9 206.6m-4.3 0a4.3 4.3 0 1 0 8.6 0a4.3 4.3 0 1 0 -8.6 0M96.3 207.1m-4.3 0a4.3 4.3 0 1 0 8.6 0a4.3 4.3 0 1 0 -8.6 0M97.6 207.5m-4.3 0a4.3 4.3 0 1 0 8.6 0a4.3 4.3 0 1 0 -8.6 0M98.9 207.9m-4.3 0a4.3 4.3 0 1 0 8.6 0a4.3 4.3 0 1 0 -8.6 0M100.2 208.4m-4.3 0a4.3 4.3 0 1 0 8.6 0a4.3 4.3 0 1 0 -8.6 0M101.6 208.8m-4.3 0a4.3 4.3 0 1 0 8.6 0a4.3 4.3 0 1 0 -8.6 0M102.9 209.2m-4.3 0a4.3 4.3 0 1 0 8.6 0a4.3 4.3 0 1 0 -8.6 0M104.2 209.5m-4.3 0a4.3 4.3 0 1 0 8.6 0a4.3 4.3 0 1 0 -8.6 0M105.6 209.9m-4.3 0a4.3 4.3 0 1 0 8.6 0a4.3 4.3 0 1 0 -8.6 0M106.9 210.3m-4.3 0a4.3 4.3 0 1 0 8.6 0a4.3 4.3 0 1 0 -8.6 0M108.2 210.6m-4.3 0a4.3 4.3 0 1 0 8.6 0a4.3 4.3 0 1 0 -8.6 0M109.6 211m-4.3 0a4.3 4.3 0 1 0 8.6 0a4.3 4.3 0 1 0 -8.6 0M110.9 211.4m-4.3 0a4.3 4.3 0 1 0 8.6 0a4.3 4.3 0 1 0 -8.6 0M112.2 211.7m-4.3 0a4.3 4.3 0 1 0 8.6 0a4.3 4.3 0 1 0 -8.6 0M113.6 212.1m-4.3 0a4.3 4.3 0 1 0 8.6 0a4.3 4.3 0 1 0 -8.6 0M114.9 212.4m-4.3 0a4.3 4.3 0 1 0 8.6 0a4.3 4.3 0 1 0 -8.6 0M116.2 212.7m-4.3 0a4.3 4.3 0 1 0 8.6 0a4.3 4.3 0 1 0 -8.6 0M117.6 213.1m-4.3 0a4.3 4.3 0 1 0 8.6 0a4.3 4.3 0 1 0 -8.6 0M118.9 213.4m-4.3 0a4.3 4.3 0 1 0 8.6 0a4.3 4.3 0 1 0 -8.6 0M120.2 213.7m-4.3 0a4.3 4.3 0 1 0 8.6 0a4.3 4.3 0 1 0 -8.6 0M121.6 214m-4.3 0a4.3 4.3 0 1 0 8.6 0a4.3 4.3 0 1 0 -8.6 0M122.9 214.3m-4.3 0a4.3 4.3 0 1 0 8.6 0a4.3 4.3 0 1 0 -8.6 0M124.2 214.6m-4.3 0a4.3 4.3 0 1 0 8.6 0a4.3 4.3 0 1 0 -8.6 0M125.6 215m-4.3 0a4.3 4.3 0 1 0 8.6 0a4.3 4.3 0 1 0 -8.6 0M126.9 215.3m-4.3 0a4.3 4.3 0 1 0 8.6 0a4.3 4.3 0 1 0 -8.6 0M128.2 215.6m-4.3 0a4.3 4.3 0 1 0 8.6 0a4.3 4.3 0 1 0 -8.6 0M129.6 215.8m-4.3 0a4.3 4.3 0 1 0 8.6 0a4.3 4.3 0 1 0 -8.6 0M130.9 216.1m-4.3 0a4.3 4.3 0 1 0 8.6 0a4.3 4.3 0 1 0 -8.6 0M132.2 216.4m-4.3 0a4.3 4.3 0 1 0 8.6 0a4.3 4.3 0 1 0 -8.6 0M133.6 216.7m-4.3 0a4.3 4.3 0 1 0 8.6 0a4.3 4.3 0 1 0 -8.6 0M134.9 217m-4.3 0a4.3 4.3 0 1 0 8.6 0a4.3 4.3 0 1 0 -8.6 0M136.2 217.3m-4.3 0a4.3 4.3 0 1 0 8.6 0a4.3 4.3 0 1 0 -8.6 0M137.6 217.6m-4.3 0a4.3 4.3 0 1 0 8.6 0a4.3 4.3 0 1 0 -8.6 0M138.9 217.9m-4.3 0a4.3 4.3 0 1 0 8.6 0a4.3 4.3 0 1 0 -8.6 0M140.2 218.1m-4.3 0a4.3 4.3 0 1 0 8.6 0a4.3 4.3 0 1 0 -8.6 0M141.6 218.4m-4.3 0a4.3 4.3 0 1 0 8.6 0a4.3 4.3 0 1 0 -8.6 0M142.9 218.7m-4.3 0a4.3 4.3 0 1 0 8.6 0a4.3 4.3 0 1 0 -8.6 0M144.2 218.9m-4.3 0a4.3 4.3 0 1 0 8.6 0a4.3 4.3 0 1 0 -8.6 0M145.5 219.2m-4.3 0a4.3 4.3 0 1 0 8.6 0a4.3 4.3 0 1 0 -8.6 0M146.9 219.5m-4.3 0a4.3 4.3 0 1 0 8.6 0a4.3 4.3 0 1 0 -8.6 0M148.2 219.7m-4.3 0a4.3 4.3 0 1 0 8.6 0a4.3 4.3 0 1 0 -8.6 0M149.5 220m-4.3 0a4.3 4.3 0 1 0 8.6 0a4.3 4.3 0 1 0 -8.6 0M150.9 220.3m-4.3 0a4.3 4.3 0 1 0 8.6 0a4.3 4.3 0 1 0 -8.6 0M152.2 220.5m-4.3 0a4.3 4.3 0 1 0 8.6 0a4.3 4.3 0 1 0 -8.6 0M153.5 220.8m-4.3 0a4.3 4.3 0 1 0 8.6 0a4.3 4.3 0 1 0 -8.6 0M154.9 221m-4.3 0a4.3 4.3 0 1 0 8.6 0a4.3 4.3 0 1 0 -8.6 0M156.2 221.3m-4.3 0a4.3 4.3 0 1 0 8.6 0a4.3 4.3 0 1 0 -8.6 0M157.5 221.5m-4.3 0a4.3 4.3 0 1 0 8.6 0a4.3 4.3 0 1 0 -8.6 0M158.9 221.8m-4.3 0a4.3 4.3 0 1 0 8.6 0a4.3 4.3 0 1 0 -8.6 0M160.2 222m-4.3 0a4.3 4.3 0 1 0 8.6 0a4.3 4.3 0 1 0 -8.6 0M161.5 222.3m-4.3 0a4.3 4.3 0 1 0 8.6 0a4.3 4.3 0 1 0 -8.6 0M162.9 222.5m-4.3 0a4.3 4.3 0 1 0 8.6 0a4.3 4.3 0 1 0 -8.6 0M164.2 222.7m-4.3 0a4.3 4.3 0 1 0 8.6 0a4.3 4.3 0 1 0 -8.6 0M165.5 223m-4.3 0a4.3 4.3 0 1 0 8.6 0a4.3 4.3 0 1 0 -8.6 0M166.9 223.2m-4.3 0a4.3 4.3 0 1 0 8.6 0a4.3 4.3 0 1 0 -8.6 0M168.2 223.4m-4.3 0a4.3 4.3 0 1 0 8.6 0a4.3 4.3 0 1 0 -8.6 0M169.5 223.6m-4.3 0a4.3 4.3 0 1 0 8.6 0a4.3 4.3 0 1 0 -8.6 0M170.9 223.9m-4.3 0a4.3 4.3 0 1 0 8.6 0a4.3 4.3 0 1 0 -8.6 0M172.2 224.1m-4.3 0a4.3 4.3 0 1 0 8.6 0a4.3 4.3 0 1 0 -8.6 0M173.5 224.3m-4.3 0a4.3 4.3 0 1 0 8.6 0a4.3 4.3 0 1 0 -8.6 0M174.9 224.5m-4.3 0a4.3 4.3 0 1 0 8.6 0a4.3 4.3 0 1 0 -8.6 0M176.2 224.7m-4.3 0a4.3 4.3 0 1 0 8.6 0a4.3 4.3 0 1 0 -8.6 0M177.5 224.9m-4.3 0a4.3 4.3 0 1 0 8.6 0a4.3 4.3 0 1 0 -8.6 0M178.9 225.1m-4.3 0a4.3 4.3 0 1 0 8.6 0a4.3 4.3 0 1 0 -8.6 0M180.2 225.3m-4.3 0a4.3 4.3 0 1 0 8.6 0a4.3 4.3 0 1 0 -8.6 0M181.5 225.5m-4.3 0a4.3 4.3 0 1 0 8.6 0a4.3 4.3 0 1 0 -8.6 0M182.9 225.7m-4.3 0a4.3 4.3 0 1 0 8.6 0a4.3 4.3 0 1 0 -8.6 0M184.2 225.9m-4.3 0a4.3 4.3 0 1 0 8.6 0a4.3 4.3 0 1 0 -8.6 0M185.5 226.1m-4.3 0a4.3 4.3 0 1 0 8.6 0a4.3 4.3 0 1 0 -8.6 0M186.8 226.3m-4.3 0a4.3 4.3 0 1 0 8.6 0a4.3 4.3 0 1 0 -8.6 0M188.2 226.5m-4.3 0a4.3 4.3 0 1 0 8.6 0a4.3 4.3 0 1 0 -8.6 0M189.5 226.6m-4.3 0a4.3 4.3 0 1 0 8.6 0a4.3 4.3 0 1 0 -8.6 0M190.8 226.8m-4.3 0a4.3 4.3 0 1 0 8.6 0a4.3 4.3 0 1 0 -8.6 0M192.2 227m-4.3 0a4.3 4.3 0 1 0 8.6 0a4.3 4.3 0 1 0 -8.6 0M193.5 227.2m-4.3 0a4.3 4.3 0 1 0 8.6 0a4.3 4.3 0 1 0 -8.6 0M194.8 227.4m-4.3 0a4.3 4.3 0 1 0 8.6 0a4.3 4.3 0 1 0 -8.6 0M196.2 227.6m-4.3 0a4.3 4.3 0 1 0 8.6 0a4.3 4.3 0 1 0 -8.6 0M197.5 227.7m-4.3 0a4.3 4.3 0 1 0 8.6 0a4.3 4.3 0 1 0 -8.6 0M198.8 227.9m-4.3 0a4.3 4.3 0 1 0 8.6 0a4.3 4.3 0 1 0 -8.6 0M200.2 228.1m-4.3 0a4.3 4.3 0 1 0 8.6 0a4.3 4.3 0 1 0 -8.6 0M201.5 228.3m-4.3 0a4.3 4.3 0 1 0 8.6 0a4.3 4.3 0 1 0 -8.6 0M202.8 228.5m-4.3 0a4.3 4.3 0 1 0 8.6 0a4.3 4.3 0 1 0 -8.6 0M204.2 228.6m-4.3 0a4.3 4.3 0 1 0 8.6 0a4.3 4.3 0 1 0 -8.6 0M205.5 228.8m-4.3 0a4.3 4.3 0 1 0 8.6 0a4.3 4.3 0 1 0 -8.6 0M206.8 229m-4.3 0a4.3 4.3 0 1 0 8.6 0a4.3 4.3 0 1 0 -8.6 0M208.2 229.2m-4.3 0a4.3 4.3 0 1 0 8.6 0a4.3 4.3 0 1 0 -8.6 0M209.5 229.4m-4.3 0a4.3 4.3 0 1 0 8.6 0a4.3 4.3 0 1 0 -8.6 0M210.8 229.5m-4.3 0a4.3 4.3 0 1 0 8.6 0a4.3 4.3 0 1 0 -8.6 0M212.2 229.7m-4.3 0a4.3 4.3 0 1 0 8.6 0a4.3 4.3 0 1 0 -8.6 0M213.5 229.9m-4.3 0a4.3 4.3 0 1 0 8.6 0a4.3 4.3 0 1 0 -8.6 0M214.8 230.1m-4.3 0a4.3 4.3 0 1 0 8.6 0a4.3 4.3 0 1 0 -8.6 0M216.2 230.2m-4.3 0a4.3 4.3 0 1 0 8.6 0a4.3 4.3 0 1 0 -8.6 0M217.5 230.4m-4.3 0a4.3 4.3 0 1 0 8.6 0a4.3 4.3 0 1 0 -8.6 0M218.8 230.6m-4.3 0a4.3 4.3 0 1 0 8.6 0a4.3 4.3 0 1 0 -8.6 0M220.2 230.7m-4.3 0a4.3 4.3 0 1 0 8.6 0a4.3 4.3 0 1 0 -8.6 0M221.5 230.9m-4.3 0a4.3 4.3 0 1 0 8.6 0a4.3 4.3 0 1 0 -8.6 0M222.8 231.1m-4.3 0a4.3 4.3 0 1 0 8.6 0a4.3 4.3 0 1 0 -8.6 0M224.2 231.3m-4.3 0a4.3 4.3 0 1 0 8.6 0a4.3 4.3 0 1 0 -8.6 0M225.5 231.4m-4.3 0a4.3 4.3 0 1 0 8.6 0a4.3 4.3 0 1 0 -8.6 0M226.8 231.6m-4.3 0a4.3 4.3 0 1 0 8.6 0a4.3 4.3 0 1 0 -8.6 0M228.1 231.8m-4.3 0a4.3 4.3 0 1 0 8.6 0a4.3 4.3 0 1 0 -8.6 0M229.5 231.9m-4.3 0a4.3 4.3 0 1 0 8.6 0a4.3 4.3 0 1 0 -8.6 0M230.8 232.1m-4.3 0a4.3 4.3 0 1 0 8.6 0a4.3 4.3 0 1 0 -8.6 0M232.1 232.3m-4.3 0a4.3 4.3 0 1 0 8.6 0a4.3 4.3 0 1 0 -8.6 0M233.5 232.4m-4.3 0a4.3 4.3 0 1 0 8.6 0a4.3 4.3 0 1 0 -8.6 0M234.8 232.6m-4.3 0a4.3 4.3 0 1 0 8.6 0a4.3 4.3 0 1 0 -8.6 0M236.1 232.7m-4.3 0a4.3 4.3 0 1 0 8.6 0a4.3 4.3 0 1 0 -8.6 0M237.5 232.9m-4.3 0a4.3 4.3 0 1 0 8.6 0a4.3 4.3 0 1 0 -8.6 0M238.8 233.1m-4.3 0a4.3 4.3 0 1 0 8.6 0a4.3 4.3 0 1 0 -8.6 0M240.1 233.2m-4.3 0a4.3 4.3 0 1 0 8.6 0a4.3 4.3 0 1 0 -8.6 0M241.5 233.4m-4.3 0a4.3 4.3 0 1 0 8.6 0a4.3 4.3 0 1 0 -8.6 0M242.8 233.6m-4.3 0a4.3 4.3 0 1 0 8.6 0a4.3 4.3 0 1 0 -8.6 0M244.1 233.7m-4.3 0a4.3 4.3 0 1 0 8.6 0a4.3 4.3 0 1 0 -8.6 0M245.5 233.9m-4.3 0a4.3 4.3 0 1 0 8.6 0a4.3 4.3 0 1 0 -8.6 0M246.8 234m-4.3 0a4.3 4.3 0 1 0 8.6 0a4.3 4.3 0 1 0 -8.6 0M248.1 234.2m-4.3 0a4.3 4.3 0 1 0 8.6 0a4.3 4.3 0 1 0 -8.6 0M249.5 234.3m-4.3 0a4.3 4.3 0 1 0 8.6 0a4.3 4.3 0 1 0 -8.6 0M250.8 234.5m-4.3 0a4.3 4.3 0 1 0 8.6 0a4.3 4.3 0 1 0 -8.6 0M252.1 234.6m-4.3 0a4.3 4.3 0 1 0 8.6 0a4.3 4.3 0 1 0 -8.6 0M253.5 234.8m-4.3 0a4.3 4.3 0 1 0 8.6 0a4.3 4.3 0 1 0 -8.6 0M254.8 235m-4.3 0a4.3 4.3 0 1 0 8.6 0a4.3 4.3 0 1 0 -8.6 0M256.1 235.1m-4.3 0a4.3 4.3 0 1 0 8.6 0a4.3 4.3 0 1 0 -8.6 0M257.5 235.3m-4.3 0a4.3 4.3 0 1 0 8.6 0a4.3 4.3 0 1 0 -8.6 0M258.8 235.4m-4.3 0a4.3 4.3 0 1 0 8.6 0a4.3 4.3 0 1 0 -8.6 0M260.1 235.5m-4.3 0a4.3 4.3 0 1 0 8.6 0a4.3 4.3 0 1 0 -8.6 0M261.5 235.7m-4.3 0a4.3 4.3 0 1 0 8.6 0a4.3 4.3 0 1 0 -8.6 0M262.8 235.8m-4.3 0a4.3 4.3 0 1 0 8.6 0a4.3 4.3 0 1 0 -8.6 0M264.1 236m-4.3 0a4.3 4.3 0 1 0 8.6 0a4.3 4.3 0 1 0 -8.6 0M265.5 236.1m-4.3 0a4.3 4.3 0 1 0 8.6 0a4.3 4.3 0 1 0 -8.6 0M266.8 236.3m-4.3 0a4.3 4.3 0 1 0 8.6 0a4.3 4.3 0 1 0 -8.6 0M268.1 236.4m-4.3 0a4.3 4.3 0 1 0 8.6 0a4.3 4.3 0 1 0 -8.6 0M269.5 236.5m-4.3 0a4.3 4.3 0 1 0 8.6 0a4.3 4.3 0 1 0 -8.6 0M270.8 236.7m-4.3 0a4.3 4.3 0 1 0 8.6 0a4.3 4.3 0 1 0 -8.6 0M272.1 236.8m-4.3 0a4.3 4.3 0 1 0 8.6 0a4.3 4.3 0 1 0 -8.6 0M273.4 237m-4.3 0a4.3 4.3 0 1 0 8.6 0a4.3 4.3 0 1 0 -8.6 0M274.8 237.1m-4.3 0a4.3 4.3 0 1 0 8.6 0a4.3 4.3 0 1 0 -8.6 0M276.1 237.2m-4.3 0a4.3 4.3 0 1 0 8.6 0a4.3 4.3 0 1 0 -8.6 0M277.4 237.4m-4.3 0a4.3 4.3 0 1 0 8.6 0a4.3 4.3 0 1 0 -8.6 0M278.8 237.5m-4.3 0a4.3 4.3 0 1 0 8.6 0a4.3 4.3 0 1 0 -8.6 0M280.1 237.6m-4.3 0a4.3 4.3 0 1 0 8.6 0a4.3 4.3 0 1 0 -8.6 0M281.4 237.8m-4.3 0a4.3 4.3 0 1 0 8.6 0a4.3 4.3 0 1 0 -8.6 0M282.8 237.9m-4.3 0a4.3 4.3 0 1 0 8.6 0a4.3 4.3 0 1 0 -8.6 0M284.1 238m-4.3 0a4.3 4.3 0 1 0 8.6 0a4.3 4.3 0 1 0 -8.6 0M285.4 238.2m-4.3 0a4.3 4.3 0 1 0 8.6 0a4.3 4.3 0 1 0 -8.6 0M286.8 238.3m-4.3 0a4.3 4.3 0 1 0 8.6 0a4.3 4.3 0 1 0 -8.6 0M288.1 238.4m-4.3 0a4.3 4.3 0 1 0 8.6 0a4.3 4.3 0 1 0 -8.6 0M289.4 238.6m-4.3 0a4.3 4.3 0 1 0 8.6 0a4.3 4.3 0 1 0 -8.6 0M290.8 238.7m-4.3 0a4.3 4.3 0 1 0 8.6 0a4.3 4.3 0 1 0 -8.6 0M292.1 238.8m-4.3 0a4.3 4.3 0 1 0 8.6 0a4.3 4.3 0 1 0 -8.6 0M293.4 239m-4.3 0a4.3 4.3 0 1 0 8.6 0a4.3 4.3 0 1 0 -8.6 0M294.8 239.1m-4.3 0a4.3 4.3 0 1 0 8.6 0a4.3 4.3 0 1 0 -8.6 0M296.1 239.2m-4.3 0a4.3 4.3 0 1 0 8.6 0a4.3 4.3 0 1 0 -8.6 0M297.4 239.4m-4.3 0a4.3 4.3 0 1 0 8.6 0a4.3 4.3 0 1 0 -8.6 0M298.8 239.5m-4.3 0a4.3 4.3 0 1 0 8.6 0a4.3 4.3 0 1 0 -8.6 0M300.1 239.7m-4.3 0a4.3 4.3 0 1 0 8.6 0a4.3 4.3 0 1 0 -8.6 0M301.4 239.8m-4.3 0a4.3 4.3 0 1 0 8.6 0a4.3 4.3 0 1 0 -8.6 0M302.8 239.9m-4.3 0a4.3 4.3 0 1 0 8.6 0a4.3 4.3 0 1 0 -8.6 0M304.1 240.1m-4.3 0a4.3 4.3 0 1 0 8.6 0a4.3 4.3 0 1 0 -8.6 0M305.4 240.2m-4.3 0a4.3 4.3 0 1 0 8.6 0a4.3 4.3 0 1 0 -8.6 0M306.8 240.3m-4.3 0a4.3 4.3 0 1 0 8.6 0a4.3 4.3 0 1 0 -8.6 0M308.1 240.5m-4.3 0a4.3 4.3 0 1 0 8.6 0a4.3 4.3 0 1 0 -8.6 0M309.4 240.6m-4.3 0a4.3 4.3 0 1 0 8.6 0a4.3 4.3 0 1 0 -8.6 0M310.8 240.8m-4.3 0a4.3 4.3 0 1 0 8.6 0a4.3 4.3 0 1 0 -8.6 0M312.1 240.9m-4.3 0a4.3 4.3 0 1 0 8.6 0a4.3 4.3 0 1 0 -8.6 0M313.4 241m-4.3 0a4.3 4.3 0 1 0 8.6 0a4.3 4.3 0 1 0 -8.6 0M314.7 241.2m-4.3 0a4.3 4.3 0 1 0 8.6 0a4.3 4.3 0 1 0 -8.6 0M316.1 241.3m-4.3 0a4.3 4.3 0 1 0 8.6 0a4.3 4.3 0 1 0 -8.6 0M317.4 241.5m-4.3 0a4.3 4.3 0 1 0 8.6 0a4.3 4.3 0 1 0 -8.6 0M318.7 241.6m-4.3 0a4.3 4.3 0 1 0 8.6 0a4.3 4.3 0 1 0 -8.6 0M320.1 241.8m-4.3 0a4.3 4.3 0 1 0 8.6 0a4.3 4.3 0 1 0 -8.6 0M321.4 241.9m-4.3 0a4.3 4.3 0 1 0 8.6 0a4.3 4.3 0 1 0 -8.6 0M322.7 242m-4.3 0a4.3 4.3 0 1 0 8.6 0a4.3 4.3 0 1 0 -8.6 0M324.1 242.2m-4.3 0a4.3 4.3 0 1 0 8.6 0a4.3 4.3 0 1 0 -8.6 0M325.4 242.3m-4.3 0a4.3 4.3 0 1 0 8.6 0a4.3 4.3 0 1 0 -8.6 0M326.7 242.5m-4.3 0a4.3 4.3 0 1 0 8.6 0a4.3 4.3 0 1 0 -8.6 0M328.1 242.7m-4.3 0a4.3 4.3 0 1 0 8.6 0a4.3 4.3 0 1 0 -8.6 0M329.4 242.8m-4.3 0a4.3 4.3 0 1 0 8.6 0a4.3 4.3 0 1 0 -8.6 0M330.7 243m-4.3 0a4.3 4.3 0 1 0 8.6 0a4.3 4.3 0 1 0 -8.6 0M332.1 243.1m-4.3 0a4.3 4.3 0 1 0 8.6 0a4.3 4.3 0 1 0 -8.6 0M333.4 243.3m-4.3 0a4.3 4.3 0 1 0 8.6 0a4.3 4.3 0 1 0 -8.6 0M334.7 243.4m-4.3 0a4.3 4.3 0 1 0 8.6 0a4.3 4.3 0 1 0 -8.6 0M336.1 243.6m-4.3 0a4.3 4.3 0 1 0 8.6 0a4.3 4.3 0 1 0 -8.6 0M337.4 243.8m-4.3 0a4.3 4.3 0 1 0 8.6 0a4.3 4.3 0 1 0 -8.6 0M338.7 243.9m-4.3 0a4.3 4.3 0 1 0 8.6 0a4.3 4.3 0 1 0 -8.6 0M340.1 244.1m-4.3 0a4.3 4.3 0 1 0 8.6 0a4.3 4.3 0 1 0 -8.6 0M341.4 244.2m-4.3 0a4.3 4.3 0 1 0 8.6 0a4.3 4.3 0 1 0 -8.6 0M342.7 244.4m-4.3 0a4.3 4.3 0 1 0 8.6 0a4.3 4.3 0 1 0 -8.6 0M344.1 244.6m-4.3 0a4.3 4.3 0 1 0 8.6 0a4.3 4.3 0 1 0 -8.6 0M345.4 244.7m-4.3 0a4.3 4.3 0 1 0 8.6 0a4.3 4.3 0 1 0 -8.6 0M346.7 244.9m-4.3 0a4.3 4.3 0 1 0 8.6 0a4.3 4.3 0 1 0 -8.6 0M348.1 245.1m-4.3 0a4.3 4.3 0 1 0 8.6 0a4.3 4.3 0 1 0 -8.6 0M349.4 245.2m-4.3 0a4.3 4.3 0 1 0 8.6 0a4.3 4.3 0 1 0 -8.6 0M350.7 245.4m-4.3 0a4.3 4.3 0 1 0 8.6 0a4.3 4.3 0 1 0 -8.6 0M352.1 245.6m-4.3 0a4.3 4.3 0 1 0 8.6 0a4.3 4.3 0 1 0 -8.6 0M353.4 245.7m-4.3 0a4.3 4.3 0 1 0 8.6 0a4.3 4.3 0 1 0 -8.6 0M354.7 245.9m-4.3 0a4.3 4.3 0 1 0 8.6 0a4.3 4.3 0 1 0 -8.6 0M356.1 246.1m-4.3 0a4.3 4.3 0 1 0 8.6 0a4.3 4.3 0 1 0 -8.6 0M357.4 246.2m-4.3 0a4.3 4.3 0 1 0 8.6 0a4.3 4.3 0 1 0 -8.6 0M358.7 246.4m-4.3 0a4.3 4.3 0 1 0 8.6 0a4.3 4.3 0 1 0 -8.6 0M360 246.6m-4.3 0a4.3 4.3 0 1 0 8.6 0a4.3 4.3 0 1 0 -8.6 0M361.4 246.7m-4.3 0a4.3 4.3 0 1 0 8.6 0a4.3 4.3 0 1 0 -8.6 0M362.7 246.9m-4.3 0a4.3 4.3 0 1 0 8.6 0a4.3 4.3 0 1 0 -8.6 0M364 247.1m-4.3 0a4.3 4.3 0 1 0 8.6 0a4.3 4.3 0 1 0 -8.6 0M365.4 247.3m-4.3 0a4.3 4.3 0 1 0 8.6 0a4.3 4.3 0 1 0 -8.6 0M366.7 247.4m-4.3 0a4.3 4.3 0 1 0 8.6 0a4.3 4.3 0 1 0 -8.6 0M368 247.6m-4.3 0a4.3 4.3 0 1 0 8.6 0a4.3 4.3 0 1 0 -8.6 0M369.4 247.8m-4.3 0a4.3 4.3 0 1 0 8.6 0a4.3 4.3 0 1 0 -8.6 0M370.7 248m-4.3 0a4.3 4.3 0 1 0 8.6 0a4.3 4.3 0 1 0 -8.6 0M372 248.1m-4.3 0a4.3 4.3 0 1 0 8.6 0a4.3 4.3 0 1 0 -8.6 0M373.4 248.3m-4.3 0a4.3 4.3 0 1 0 8.6 0a4.3 4.3 0 1 0 -8.6 0M374.7 248.5m-4.3 0a4.3 4.3 0 1 0 8.6 0a4.3 4.3 0 1 0 -8.6 0M376 248.7m-4.3 0a4.3 4.3 0 1 0 8.6 0a4.3 4.3 0 1 0 -8.6 0M377.4 248.8m-4.3 0a4.3 4.3 0 1 0 8.6 0a4.3 4.3 0 1 0 -8.6 0M378.7 249m-4.3 0a4.3 4.3 0 1 0 8.6 0a4.3 4.3 0 1 0 -8.6 0M380 249.2m-4.3 0a4.3 4.3 0 1 0 8.6 0a4.3 4.3 0 1 0 -8.6 0M381.4 249.4m-4.3 0a4.3 4.3 0 1 0 8.6 0a4.3 4.3 0 1 0 -8.6 0M382.7 249.6m-4.3 0a4.3 4.3 0 1 0 8.6 0a4.3 4.3 0 1 0 -8.6 0M384 249.7m-4.3 0a4.3 4.3 0 1 0 8.6 0a4.3 4.3 0 1 0 -8.6 0M385.4 249.9m-4.3 0a4.3 4.3 0 1 0 8.6 0a4.3 4.3 0 1 0 -8.6 0M386.7 250.1m-4.3 0a4.3 4.3 0 1 0 8.6 0a4.3 4.3 0 1 0 -8.6 0M388 250.3m-4.3 0a4.3 4.3 0 1 0 8.6 0a4.3 4.3 0 1 0 -8.6 0M389.4 250.5m-4.3 0a4.3 4.3 0 1 0 8.6 0a4.3 4.3 0 1 0 -8.6 0M390.7 250.7m-4.3 0a4.3 4.3 0 1 0 8.6 0a4.3 4.3 0 1 0 -8.6 0M392 250.8m-4.3 0a4.3 4.3 0 1 0 8.6 0a4.3 4.3 0 1 0 -8.6 0M393.4 251m-4.3 0a4.3 4.3 0 1 0 8.6 0a4.3 4.3 0 1 0 -8.6 0M394.7 251.2m-4.3 0a4.3 4.3 0 1 0 8.6 0a4.3 4.3 0 1 0 -8.6 0M396 251.4m-4.3 0a4.3 4.3 0 1 0 8.6 0a4.3 4.3 0 1 0 -8.6 0M397.4 251.6m-4.3 0a4.3 4.3 0 1 0 8.6 0a4.3 4.3 0 1 0 -8.6 0M398.7 251.8m-4.3 0a4.3 4.3 0 1 0 8.6 0a4.3 4.3 0 1 0 -8.6 0M400 251.9m-4.3 0a4.3 4.3 0 1 0 8.6 0a4.3 4.3 0 1 0 -8.6 0M401.3 252.1m-4.3 0a4.3 4.3 0 1 0 8.6 0a4.3 4.3 0 1 0 -8.6 0M402.7 252.3m-4.3 0a4.3 4.3 0 1 0 8.6 0a4.3 4.3 0 1 0 -8.6 0M404 252.5m-4.3 0a4.3 4.3 0 1 0 8.6 0a4.3 4.3 0 1 0 -8.6 0M405.3 252.7m-4.3 0a4.3 4.3 0 1 0 8.6 0a4.3 4.3 0 1 0 -8.6 0M406.7 252.9m-4.3 0a4.3 4.3 0 1 0 8.6 0a4.3 4.3 0 1 0 -8.6 0M408 253.1m-4.3 0a4.3 4.3 0 1 0 8.6 0a4.3 4.3 0 1 0 -8.6 0M409.3 253.2m-4.3 0a4.3 4.3 0 1 0 8.6 0a4.3 4.3 0 1 0 -8.6 0M410.7 253.4m-4.3 0a4.3 4.3 0 1 0 8.6 0a4.3 4.3 0 1 0 -8.6 0M412 253.6m-4.3 0a4.3 4.3 0 1 0 8.6 0a4.3 4.3 0 1 0 -8.6 0M413.3 253.8m-4.3 0a4.3 4.3 0 1 0 8.6 0a4.3 4.3 0 1 0 -8.6 0M414.7 254m-4.3 0a4.3 4.3 0 1 0 8.6 0a4.3 4.3 0 1 0 -8.6 0M416 254.2m-4.3 0a4.3 4.3 0 1 0 8.6 0a4.3 4.3 0 1 0 -8.6 0M417.3 254.4m-4.3 0a4.3 4.3 0 1 0 8.6 0a4.3 4.3 0 1 0 -8.6 0M418.7 254.6m-4.3 0a4.3 4.3 0 1 0 8.6 0a4.3 4.3 0 1 0 -8.6 0M420 254.8m-4.3 0a4.3 4.3 0 1 0 8.6 0a4.3 4.3 0 1 0 -8.6 0M421.3 255m-4.3 0a4.3 4.3 0 1 0 8.6 0a4.3 4.3 0 1 0 -8.6 0M422.7 255.2m-4.3 0a4.3 4.3 0 1 0 8.6 0a4.3 4.3 0 1 0 -8.6 0M424 255.4m-4.3 0a4.3 4.3 0 1 0 8.6 0a4.3 4.3 0 1 0 -8.6 0M425.3 255.5m-4.3 0a4.3 4.3 0 1 0 8.6 0a4.3 4.3 0 1 0 -8.6 0M426.7 255.7m-4.3 0a4.3 4.3 0 1 0 8.6 0a4.3 4.3 0 1 0 -8.6 0M428 255.9m-4.3 0a4.3 4.3 0 1 0 8.6 0a4.3 4.3 0 1 0 -8.6 0M429.3 256.1m-4.3 0a4.3 4.3 0 1 0 8.6 0a4.3 4.3 0 1 0 -8.6 0M430.7 256.3m-4.3 0a4.3 4.3 0 1 0 8.6 0a4.3 4.3 0 1 0 -8.6 0M432 256.5m-4.3 0a4.3 4.3 0 1 0 8.6 0a4.3 4.3 0 1 0 -8.6 0M433.3 256.7m-4.3 0a4.3 4.3 0 1 0 8.6 0a4.3 4.3 0 1 0 -8.6 0M434.7 256.9m-4.3 0a4.3 4.3 0 1 0 8.6 0a4.3 4.3 0 1 0 -8.6 0M436 257.1m-4.3 0a4.3 4.3 0 1 0 8.6 0a4.3 4.3 0 1 0 -8.6 0M437.3 257.3m-4.3 0a4.3 4.3 0 1 0 8.6 0a4.3 4.3 0 1 0 -8.6 0M438.7 257.5m-4.3 0a4.3 4.3 0 1 0 8.6 0a4.3 4.3 0 1 0 -8.6 0M440 257.7m-4.3 0a4.3 4.3 0 1 0 8.6 0a4.3 4.3 0 1 0 -8.6 0M441.3 257.9m-4.3 0a4.3 4.3 0 1 0 8.6 0a4.3 4.3 0 1 0 -8.6 0M442.7 258.1m-4.3 0a4.3 4.3 0 1 0 8.6 0a4.3 4.3 0 1 0 -8.6 0M444 258.3m-4.3 0a4.3 4.3 0 1 0 8.6 0a4.3 4.3 0 1 0 -8.6 0M445.3 258.5m-4.3 0a4.3 4.3 0 1 0 8.6 0a4.3 4.3 0 1 0 -8.6 0M446.6 258.7m-4.3 0a4.3 4.3 0 1 0 8.6 0a4.3 4.3 0 1 0 -8.6 0M448 259m-4.3 0a4.3 4.3 0 1 0 8.6 0a4.3 4.3 0 1 0 -8.6 0M449.3 259.2m-4.3 0a4.3 4.3 0 1 0 8.6 0a4.3 4.3 0 1 0 -8.6 0M450.6 259.4m-4.3 0a4.3 4.3 0 1 0 8.6 0a4.3 4.3 0 1 0 -8.6 0M452 259.6m-4.3 0a4.3 4.3 0 1 0 8.6 0a4.3 4.3 0 1 0 -8.6 0M453.3 259.8m-4.3 0a4.3 4.3 0 1 0 8.6 0a4.3 4.3 0 1 0 -8.6 0M454.6 260m-4.3 0a4.3 4.3 0 1 0 8.6 0a4.3 4.3 0 1 0 -8.6 0M456 260.2m-4.3 0a4.3 4.3 0 1 0 8.6 0a4.3 4.3 0 1 0 -8.6 0M457.3 260.4m-4.3 0a4.3 4.3 0 1 0 8.6 0a4.3 4.3 0 1 0 -8.6 0M458.6 260.6m-4.3 0a4.3 4.3 0 1 0 8.6 0a4.3 4.3 0 1 0 -8.6 0M460 260.8m-4.3 0a4.3 4.3 0 1 0 8.6 0a4.3 4.3 0 1 0 -8.6 0M461.3 261m-4.3 0a4.3 4.3 0 1 0 8.6 0a4.3 4.3 0 1 0 -8.6 0M462.6 261.2m-4.3 0a4.3 4.3 0 1 0 8.6 0a4.3 4.3 0 1 0 -8.6 0M464 261.5m-4.3 0a4.3 4.3 0 1 0 8.6 0a4.3 4.3 0 1 0 -8.6 0M465.3 261.7m-4.3 0a4.3 4.3 0 1 0 8.6 0a4.3 4.3 0 1 0 -8.6 0M466.6 261.9m-4.3 0a4.3 4.3 0 1 0 8.6 0a4.3 4.3 0 1 0 -8.6 0M468 262.1m-4.3 0a4.3 4.3 0 1 0 8.6 0a4.3 4.3 0 1 0 -8.6 0M469.3 262.3m-4.3 0a4.3 4.3 0 1 0 8.6 0a4.3 4.3 0 1 0 -8.6 0M470.6 262.5m-4.3 0a4.3 4.3 0 1 0 8.6 0a4.3 4.3 0 1 0 -8.6 0M472 262.7m-4.3 0a4.3 4.3 0 1 0 8.6 0a4.3 4.3 0 1 0 -8.6 0M473.3 263m-4.3 0a4.3 4.3 0 1 0 8.6 0a4.3 4.3 0 1 0 -8.6 0M474.6 263.2m-4.3 0a4.3 4.3 0 1 0 8.6 0a4.3 4.3 0 1 0 -8.6 0M476 263.4m-4.3 0a4.3 4.3 0 1 0 8.6 0a4.3 4.3 0 1 0 -8.6 0M477.3 263.6m-4.3 0a4.3 4.3 0 1 0 8.6 0a4.3 4.3 0 1 0 -8.6 0" fill="#0a86f0"/><circle cx="78.5" cy="41.8" r="4.6" fill="none" stroke="#0a86f0" stroke-width="1.9"/><path d="M76.3 42.1h4.4M78.5 42.1v3" stroke="#0a86f0" stroke-width="1" opacity="0.8"/><path d="M78.4 98.2l5.6 9.6h-11.2z" fill="none" stroke="#0000b4" stroke-width="1.9"/><path d="M78.4 102.2l2.2 3.2h-4.4z" fill="#4a6ad0" opacity="0.7"/><path d="M78.4 107.8v3" stroke="#0000b4" stroke-width="0.8"/><rect x="74.6" y="155.6" width="8.2" height="8.2" fill="none" stroke="#000" stroke-width="1.7"/></g><text x="82.6" y="33.6" class="pl" style="font-size:18.4px">a)</text><rect x="253.3" y="23.4" width="223.7" height="95.69999999999999" fill="#fff" stroke="#000" stroke-width="1.6"/><text x="263" y="41.6" class="lg">LNMO/graphite</text><path d="M262.7 55.4H298.4" stroke="#5aaaf0" stroke-width="1.2"/><circle cx="280.6" cy="55.4" r="4.2" fill="#fff" stroke="#0a86f0" stroke-width="1.5"/><path d="M303.2 55.4H340" stroke="#5aaaf0" stroke-width="1.2"/><circle cx="321.4" cy="55.4" r="4" fill="#0a86f0"/><text x="345.2" y="60.6" class="lg">+ 5 wt% Li<tspan dy="5" class="sb">2</tspan><tspan dy="-5">C</tspan><tspan dy="5" class="sb">2</tspan><tspan dy="-5">O</tspan><tspan dy="5" class="sb">4</tspan></text><path d="M262.7 80.3H298.4" stroke="#7070a8" stroke-width="1.2"/><path d="M280.8 74.5l5.6 9.2h-11.2z" fill="#fff" stroke="#0000b4" stroke-width="1.4"/><path d="M303.2 80.3H340" stroke="#7070a8" stroke-width="1.2"/><path d="M321.5 75.5l4.3 7h-8.6z" fill="#0000b4"/><text x="345.2" y="85.5" class="lg">+ 2.5 wt% Li<tspan dy="5" class="sb">2</tspan><tspan dy="-5">C</tspan><tspan dy="5" class="sb">2</tspan><tspan dy="-5">O</tspan><tspan dy="5" class="sb">4</tspan></text><path d="M262.7 105H298.4" stroke="#707070" stroke-width="1.2"/><rect x="275.8" y="100.6" width="9" height="9" fill="#fff" stroke="#000" stroke-width="1.4"/><path d="M303.2 105H340" stroke="#707070" stroke-width="1.2"/><rect x="318" y="101.6" width="7" height="7" fill="#000"/><text x="345.2" y="110.2" class="lg">+ 0 wt% Li<tspan dy="5" class="sb">2</tspan><tspan dy="-5">C</tspan><tspan dy="5" class="sb">2</tspan><tspan dy="-5">O</tspan><tspan dy="5" class="sb">4</tspan></text><clipPath id="cb"><rect x="64.7" y="418.7" width="425.6" height="392.09999999999997"/></clipPath><path d="M77.6 418.7v12.3M77.6 810.8v-12.3M110.9 418.7v6.8M110.9 810.8v-6.8M144.2 418.7v12.3M144.2 810.8v-12.3M177.5 418.7v6.8M177.5 810.8v-6.8M210.8 418.7v12.3M210.8 810.8v-12.3M244.1 418.7v6.8M244.1 810.8v-6.8M277.4 418.7v12.3M277.4 810.8v-12.3M310.8 418.7v6.8M310.8 810.8v-6.8M344.1 418.7v12.3M344.1 810.8v-12.3M377.4 418.7v6.8M377.4 810.8v-6.8M410.7 418.7v12.3M410.7 810.8v-12.3M444 418.7v6.8M444 810.8v-6.8M477.3 418.7v12.3M477.3 810.8v-12.3M64.7 712.8h12.3M490.3 712.8h-12.3M64.7 614.8h12.3M490.3 614.8h-12.3M64.7 516.7h12.3M490.3 516.7h-12.3M64.7 761.8h6.8M490.3 761.8h-6.8M64.7 663.8h6.8M490.3 663.8h-6.8M64.7 565.7h6.8M490.3 565.7h-6.8M64.7 467.7h6.8M490.3 467.7h-6.8" stroke="#000" stroke-width="2.4" fill="none"/><rect x="64.7" y="418.7" width="425.6" height="392.09999999999997" fill="none" stroke="#000" stroke-width="2.5"/><text x="55.6" y="424.1" text-anchor="end" class="tl">100.0</text><text x="55.6" y="522.1" text-anchor="end" class="tl">99.9</text><text x="55.6" y="620.1" text-anchor="end" class="tl">99.8</text><text x="55.6" y="718.2" text-anchor="end" class="tl">99.7</text><text x="55.6" y="816.2" text-anchor="end" class="tl">99.6</text><g clip-path="url(#cb)"><path d="M96.3 796.7V806.3M94.3 796.7h4M94.3 806.3h4M97.6 787.6V794.8M95.6 787.6h4M95.6 794.8h4M98.9 778.7V786.1M96.9 778.7h4M96.9 786.1h4M100.2 768.7V774.4M98.2 768.7h4M98.2 774.4h4M101.6 757.9V767.6M99.6 757.9h4M99.6 767.6h4M102.9 749.5V758.4M100.9 749.5h4M100.9 758.4h4M104.2 737.7V746.6M102.2 737.7h4M102.2 746.6h4M105.6 728.1V736.7M103.6 728.1h4M103.6 736.7h4M106.9 722.3V730.3M104.9 722.3h4M104.9 730.3h4M108.2 717.2V725.3M106.2 717.2h4M106.2 725.3h4M109.6 713.3V720.8M107.6 713.3h4M107.6 720.8h4M110.9 709.4V717M108.9 709.4h4M108.9 717h4M112.2 705.4V713.3M110.2 705.4h4M110.2 713.3h4M113.6 700.4V710M111.6 700.4h4M111.6 710h4M114.9 696.8V705.3M112.9 696.8h4M112.9 705.3h4M116.2 693.1V700.9M114.2 693.1h4M114.2 700.9h4M117.6 689.5V696.7M115.6 689.5h4M115.6 696.7h4M118.9 685.8V692.9M116.9 685.8h4M116.9 692.9h4M120.2 681V690.7M118.2 681h4M118.2 690.7h4M121.6 678.2V686.7M119.6 678.2h4M119.6 686.7h4M122.9 675.3V683.2M120.9 675.3h4M120.9 683.2h4M124.2 672.4V679.8M122.2 672.4h4M122.2 679.8h4M125.6 669.7V676.2M123.6 669.7h4M123.6 676.2h4M126.9 666V673.7M124.9 666h4M124.9 673.7h4M128.2 662.3V671.1M126.2 662.3h4M126.2 671.1h4M129.6 659.7V667.1M127.6 659.7h4M127.6 667.1h4M130.9 656.2V663.8M128.9 656.2h4M128.9 663.8h4M132.2 652.9V660.5M130.2 652.9h4M130.2 660.5h4M133.6 649.7V657.6M131.6 649.7h4M131.6 657.6h4M134.9 648V653.9M132.9 648h4M132.9 653.9h4M136.2 644.7V652.2M134.2 644.7h4M134.2 652.2h4M137.6 642.6V649.5M135.6 642.6h4M135.6 649.5h4M138.9 639.3V648.2M136.9 639.3h4M136.9 648.2h4M140.2 638.1V645.1M138.2 638.1h4M138.2 645.1h4M141.6 635.3V643.8M139.6 635.3h4M139.6 643.8h4M142.9 632.7V642.3M140.9 632.7h4M140.9 642.3h4M144.2 631.8V639.3M142.2 631.8h4M142.2 639.3h4M145.5 630.1V637.3M143.5 630.1h4M143.5 637.3h4M146.9 627.8V635.9M144.9 627.8h4M144.9 635.9h4M148.2 626.1V634M146.2 626.1h4M146.2 634h4M149.5 625V631.7M147.5 625h4M147.5 631.7h4M150.9 622.5V630.9M148.9 622.5h4M148.9 630.9h4M152.2 619.9V630.2M150.2 619.9h4M150.2 630.2h4M153.5 619.7V627.2M151.5 619.7h4M151.5 627.2h4M154.9 618.1V625.7M152.9 618.1h4M152.9 625.7h4M156.2 617.1V623.8M154.2 617.1h4M154.2 623.8h4M157.5 614.9V623.1M155.5 614.9h4M155.5 623.1h4M158.9 614.4V620.7M156.9 614.4h4M156.9 620.7h4M160.2 612.9V619.4M158.2 612.9h4M158.2 619.4h4M161.5 610.1V619.4M159.5 610.1h4M159.5 619.4h4M162.9 610V616.8M160.9 610h4M160.9 616.8h4M164.2 607.5V616.7M162.2 607.5h4M162.2 616.7h4M165.5 606V615.6M163.5 606h4M163.5 615.6h4M166.9 605.5V613.6M164.9 605.5h4M164.9 613.6h4M168.2 604.1V612.6M166.2 604.1h4M166.2 612.6h4M169.5 602V612.2M167.5 602h4M167.5 612.2h4M170.9 602.1V609.7M168.9 602.1h4M168.9 609.7h4M172.2 601.2V608.3M170.2 601.2h4M170.2 608.3h4M173.5 600.5V606.7M171.5 600.5h4M171.5 606.7h4M174.9 598.5V606.4M172.9 598.5h4M172.9 606.4h4M176.2 596.6V606.1M174.2 596.6h4M174.2 606.1h4M177.5 595.8V604.7M175.5 595.8h4M175.5 604.7h4M178.9 595.8V602.6M176.9 595.8h4M176.9 602.6h4M180.2 594.7V601.6M178.2 594.7h4M178.2 601.6h4M181.5 593.5V600.8M179.5 593.5h4M179.5 600.8h4M182.9 592.1V600.3M180.9 592.1h4M180.9 600.3h4M184.2 591.5V599.1M182.2 591.5h4M182.2 599.1h4M185.5 590.4V598.5M183.5 590.4h4M183.5 598.5h4M186.8 589.5V597.7M184.8 589.5h4M184.8 597.7h4M188.2 589.1V596.6M186.2 589.1h4M186.2 596.6h4M189.5 588.1V595.9M187.5 588.1h4M187.5 595.9h4M190.8 587.2V595.3M188.8 587.2h4M188.8 595.3h4M192.2 586.6V594.4M190.2 586.6h4M190.2 594.4h4M193.5 585.5V593.9M191.5 585.5h4M191.5 593.9h4M194.8 583.9V593.9M192.8 583.9h4M192.8 593.9h4M196.2 583.8V592.4M194.2 583.8h4M194.2 592.4h4M197.5 583.4V591.3M195.5 583.4h4M195.5 591.3h4M198.8 583.6V589.4M196.8 583.6h4M196.8 589.4h4M200.2 581.6V589.9M198.2 581.6h4M198.2 589.9h4M201.5 582.1V587.7M199.5 582.1h4M199.5 587.7h4M202.8 581V587.2M200.8 581h4M200.8 587.2h4M204.2 578.9V587.8M202.2 578.9h4M202.2 587.8h4M205.5 578.2V586.9M203.5 578.2h4M203.5 586.9h4M206.8 577.9V585.6M204.8 577.9h4M204.8 585.6h4M208.2 578V583.9M206.2 578h4M206.2 583.9h4M209.5 576.4V583.8M207.5 576.4h4M207.5 583.8h4M210.8 575.7V582.8M208.8 575.7h4M208.8 582.8h4M212.2 574.8V583.4M210.2 574.8h4M210.2 583.4h4M213.5 570.6V581.1M211.5 570.6h4M211.5 581.1h4M214.8 571.7V579.8M212.8 571.7h4M212.8 579.8h4M216.2 572.4V579.4M214.2 572.4h4M214.2 579.4h4M217.5 570.8V577.3M215.5 570.8h4M215.5 577.3h4M218.8 570.9V578.7M216.8 570.9h4M216.8 578.7h4M220.2 568.2V575.8M218.2 568.2h4M218.2 575.8h4M221.5 569.6V576.1M219.5 569.6h4M219.5 576.1h4M222.8 567.4V575.4M220.8 567.4h4M220.8 575.4h4M224.2 570.3V576.8M222.2 570.3h4M222.2 576.8h4M225.5 566V575.1M223.5 566h4M223.5 575.1h4M226.8 568.5V577.6M224.8 568.5h4M224.8 577.6h4M228.1 568.5V577.6M226.1 568.5h4M226.1 577.6h4M229.5 566.3V573.6M227.5 566.3h4M227.5 573.6h4M230.8 566.1V574.6M228.8 566.1h4M228.8 574.6h4M232.1 564.4V572.1M230.1 564.4h4M230.1 572.1h4M233.5 561V568.4M231.5 561h4M231.5 568.4h4M234.8 565V572.5M232.8 565h4M232.8 572.5h4M236.1 564.8V571.1M234.1 564.8h4M234.1 571.1h4M237.5 563.2V569.3M235.5 563.2h4M235.5 569.3h4M238.8 561V569.7M236.8 561h4M236.8 569.7h4M240.1 562.1V569.7M238.1 562.1h4M238.1 569.7h4M241.5 561.4V569.5M239.5 561.4h4M239.5 569.5h4M242.8 559.1V568.1M240.8 559.1h4M240.8 568.1h4M244.1 560.5V566.3M242.1 560.5h4M242.1 566.3h4M245.5 561.8V568.7M243.5 561.8h4M243.5 568.7h4M246.8 559.4V567.4M244.8 559.4h4M244.8 567.4h4M248.1 558.6V566.9M246.1 558.6h4M246.1 566.9h4M249.5 560.3V567.7M247.5 560.3h4M247.5 567.7h4M250.8 557.1V566.1M248.8 557.1h4M248.8 566.1h4M252.1 558.6V567M250.1 558.6h4M250.1 567h4M253.5 556.2V563.1M251.5 556.2h4M251.5 563.1h4M254.8 556.6V564.2M252.8 556.6h4M252.8 564.2h4M256.1 555.1V565.2M254.1 555.1h4M254.1 565.2h4M257.5 555.7V565.7M255.5 555.7h4M255.5 565.7h4M258.8 556.2V563.1M256.8 556.2h4M256.8 563.1h4M260.1 556V568M258.1 556h4M258.1 568h4M261.5 554.8V565.9M259.5 554.8h4M259.5 565.9h4M262.8 551.4V564.1M260.8 551.4h4M260.8 564.1h4M264.1 555.9V566.2M262.1 555.9h4M262.1 566.2h4M265.5 551V561.6M263.5 551h4M263.5 561.6h4M266.8 555V564.5M264.8 555h4M264.8 564.5h4M268.1 547.6V563.8M266.1 547.6h4M266.1 563.8h4M269.5 551.8V563.5M267.5 551.8h4M267.5 563.5h4M270.8 547.3V562.6M268.8 547.3h4M268.8 562.6h4M272.1 549.8V561.2M270.1 549.8h4M270.1 561.2h4M273.4 551V564.2M271.4 551h4M271.4 564.2h4M274.8 548.2V558.1M272.8 548.2h4M272.8 558.1h4M276.1 546.2V558.9M274.1 546.2h4M274.1 558.9h4M277.4 546.5V562.4M275.4 546.5h4M275.4 562.4h4M278.8 548.6V560.1M276.8 548.6h4M276.8 560.1h4M280.1 545.5V562.3M278.1 545.5h4M278.1 562.3h4M281.4 547V562.5M279.4 547h4M279.4 562.5h4M282.8 545V557.7M280.8 545h4M280.8 557.7h4M284.1 546.4V560.6M282.1 546.4h4M282.1 560.6h4M285.4 545.2V559.7M283.4 545.2h4M283.4 559.7h4M286.8 545.3V561.1M284.8 545.3h4M284.8 561.1h4M288.1 545.2V560.1M286.1 545.2h4M286.1 560.1h4M289.4 546.1V560.6M287.4 546.1h4M287.4 560.6h4M290.8 541.3V557.3M288.8 541.3h4M288.8 557.3h4M292.1 543.8V558.3M290.1 543.8h4M290.1 558.3h4M293.4 542.1V556.2M291.4 542.1h4M291.4 556.2h4M294.8 541.4V559.1M292.8 541.4h4M292.8 559.1h4M296.1 540.8V561.2M294.1 540.8h4M294.1 561.2h4M297.4 543.1V557.2M295.4 543.1h4M295.4 557.2h4M298.8 540.9V559.5M296.8 540.9h4M296.8 559.5h4M300.1 540.6V557.6M298.1 540.6h4M298.1 557.6h4M301.4 541.2V557.6M299.4 541.2h4M299.4 557.6h4M302.8 538V560M300.8 538h4M300.8 560h4M304.1 541.1V559.4M302.1 541.1h4M302.1 559.4h4M305.4 536.8V561.5M303.4 536.8h4M303.4 561.5h4M306.8 536.3V554.3M304.8 536.3h4M304.8 554.3h4M308.1 537.5V559.4M306.1 537.5h4M306.1 559.4h4M309.4 538.6V558.9M307.4 538.6h4M307.4 558.9h4M310.8 537V555.9M308.8 537h4M308.8 555.9h4M312.1 532.9V556.4M310.1 532.9h4M310.1 556.4h4M313.4 537.9V559.3M311.4 537.9h4M311.4 559.3h4M314.7 534.4V558.7M312.7 534.4h4M312.7 558.7h4M316.1 535.7V558.1M314.1 535.7h4M314.1 558.1h4M317.4 538.8V557.9M315.4 538.8h4M315.4 557.9h4M318.7 533.1V555.9M316.7 533.1h4M316.7 555.9h4M320.1 533.6V557.2M318.1 533.6h4M318.1 557.2h4M321.4 531.5V558.7M319.4 531.5h4M319.4 558.7h4M322.7 535.7V556.5M320.7 535.7h4M320.7 556.5h4M324.1 532.1V556.2M322.1 532.1h4M322.1 556.2h4M325.4 536.3V554.6M323.4 536.3h4M323.4 554.6h4M326.7 531V558.3M324.7 531h4M324.7 558.3h4M328.1 535.3V556.5M326.1 535.3h4M326.1 556.5h4M329.4 536.6V555.2M327.4 536.6h4M327.4 555.2h4M330.7 529.1V554.7M328.7 529.1h4M328.7 554.7h4M332.1 529.2V559.7M330.1 529.2h4M330.1 559.7h4M333.4 532.9V553.3M331.4 532.9h4M331.4 553.3h4M334.7 532.3V554.6M332.7 532.3h4M332.7 554.6h4M336.1 531.9V555.9M334.1 531.9h4M334.1 555.9h4M337.4 532.5V555.2M335.4 532.5h4M335.4 555.2h4M338.7 527.4V556.6M336.7 527.4h4M336.7 556.6h4M340.1 531V555.5M338.1 531h4M338.1 555.5h4M341.4 530.3V555.5M339.4 530.3h4M339.4 555.5h4M342.7 527V558.1M340.7 527h4M340.7 558.1h4M344.1 528V553.5M342.1 528h4M342.1 553.5h4M345.4 525.9V556.9M343.4 525.9h4M343.4 556.9h4M346.7 529.2V554.3M344.7 529.2h4M344.7 554.3h4M348.1 530.9V555.2M346.1 530.9h4M346.1 555.2h4M349.4 533.3V555.1M347.4 533.3h4M347.4 555.1h4M350.7 521.4V560.2M348.7 521.4h4M348.7 560.2h4M352.1 526.1V555.3M350.1 526.1h4M350.1 555.3h4M353.4 526.2V558.3M351.4 526.2h4M351.4 558.3h4M354.7 525.7V556.8M352.7 525.7h4M352.7 556.8h4M356.1 524.7V557M354.1 524.7h4M354.1 557h4M357.4 524.7V556.8M355.4 524.7h4M355.4 556.8h4M358.7 519.9V561.2M356.7 519.9h4M356.7 561.2h4M360 528.8V556.2M358 528.8h4M358 556.2h4M361.4 527.1V552.1M359.4 527.1h4M359.4 552.1h4M362.7 529.6V557.6M360.7 529.6h4M360.7 557.6h4M364 527.2V553.8M362 527.2h4M362 553.8h4M365.4 522.3V559.7M363.4 522.3h4M363.4 559.7h4M366.7 521.4V559.5M364.7 521.4h4M364.7 559.5h4M368 524.3V553.5M366 524.3h4M366 553.5h4M369.4 525.8V553.1M367.4 525.8h4M367.4 553.1h4M370.7 526.8V559.8M368.7 526.8h4M368.7 559.8h4M372 522.8V565.3M370 522.8h4M370 565.3h4M373.4 530.1V550.6M371.4 530.1h4M371.4 550.6h4M374.7 523.7V562.3M372.7 523.7h4M372.7 562.3h4M376 526.4V556.6M374 526.4h4M374 556.6h4M377.4 519.2V561.2M375.4 519.2h4M375.4 561.2h4M378.7 528.5V559.2M376.7 528.5h4M376.7 559.2h4M380 526.9V562.2M378 526.9h4M378 562.2h4M381.4 526.6V555.4M379.4 526.6h4M379.4 555.4h4M382.7 525.3V557.3M380.7 525.3h4M380.7 557.3h4M384 518.9V564.6M382 518.9h4M382 564.6h4M385.4 519.9V562.7M383.4 519.9h4M383.4 562.7h4M386.7 524.6V560.7M384.7 524.6h4M384.7 560.7h4M388 526.7V560.4M386 526.7h4M386 560.4h4M389.4 527.6V555.5M387.4 527.6h4M387.4 555.5h4M390.7 524.2V561.2M388.7 524.2h4M388.7 561.2h4M392 524V563.4M390 524h4M390 563.4h4M393.4 520.8V560.2M391.4 520.8h4M391.4 560.2h4M394.7 521.5V561.2M392.7 521.5h4M392.7 561.2h4M396 523.8V557.5M394 523.8h4M394 557.5h4M397.4 522.5V562.9M395.4 522.5h4M395.4 562.9h4M398.7 521.8V562.6M396.7 521.8h4M396.7 562.6h4M400 518V567.4M398 518h4M398 567.4h4M401.3 515.8V569.2M399.3 515.8h4M399.3 569.2h4M402.7 520.4V561.5M400.7 520.4h4M400.7 561.5h4M404 523.6V561.1M402 523.6h4M402 561.1h4M405.3 519.6V561.8M403.3 519.6h4M403.3 561.8h4M406.7 521.2V560.2M404.7 521.2h4M404.7 560.2h4M408 519V557.4M406 519h4M406 557.4h4M409.3 521.7V564.8M407.3 521.7h4M407.3 564.8h4M410.7 521.4V558.4M408.7 521.4h4M408.7 558.4h4M412 517.2V565.4M410 517.2h4M410 565.4h4M413.3 519.3V563.1M411.3 519.3h4M411.3 563.1h4M414.7 520.1V566.5M412.7 520.1h4M412.7 566.5h4M416 519.9V563.7M414 519.9h4M414 563.7h4M417.3 519.9V560.3M415.3 519.9h4M415.3 560.3h4M418.7 521.7V560.8M416.7 521.7h4M416.7 560.8h4M420 518.9V563.2M418 518.9h4M418 563.2h4M421.3 520.4V562.8M419.3 520.4h4M419.3 562.8h4M422.7 515.4V563.5M420.7 515.4h4M420.7 563.5h4M424 517.8V564.6M422 517.8h4M422 564.6h4M425.3 525.6V563.1M423.3 525.6h4M423.3 563.1h4M426.7 518.2V566.1M424.7 518.2h4M424.7 566.1h4M428 525V563.1M426 525h4M426 563.1h4M429.3 524.1V567.7M427.3 524.1h4M427.3 567.7h4M430.7 518.8V565M428.7 518.8h4M428.7 565h4M432 522.4V555.9M430 522.4h4M430 555.9h4M433.3 516.2V565.8M431.3 516.2h4M431.3 565.8h4M434.7 517.7V568M432.7 517.7h4M432.7 568h4M436 518.3V566.7M434 518.3h4M434 566.7h4M437.3 516.1V562.8M435.3 516.1h4M435.3 562.8h4M438.7 517.2V564.5M436.7 517.2h4M436.7 564.5h4M440 519.5V562.5M438 519.5h4M438 562.5h4M441.3 516.8V565.5M439.3 516.8h4M439.3 565.5h4M442.7 517.6V564.4M440.7 517.6h4M440.7 564.4h4M444 513.9V565.9M442 513.9h4M442 565.9h4M445.3 519.1V561.4M443.3 519.1h4M443.3 561.4h4M446.6 513.9V567.6M444.6 513.9h4M444.6 567.6h4M448 515.9V569.3M446 515.9h4M446 569.3h4M449.3 514.6V566M447.3 514.6h4M447.3 566h4M450.6 517.4V566.7M448.6 517.4h4M448.6 566.7h4M452 510.7V568.2M450 510.7h4M450 568.2h4M453.3 522.9V563M451.3 522.9h4M451.3 563h4M454.6 512.5V570M452.6 512.5h4M452.6 570h4M456 513.1V569.1M454 513.1h4M454 569.1h4M457.3 514.7V571.3M455.3 514.7h4M455.3 571.3h4M458.6 509.6V567.4M456.6 509.6h4M456.6 567.4h4M460 514.1V563.7M458 514.1h4M458 563.7h4M461.3 515.2V568.3M459.3 515.2h4M459.3 568.3h4M462.6 509.5V570.3M460.6 509.5h4M460.6 570.3h4M464 510.8V570.2M462 510.8h4M462 570.2h4M465.3 516V573.8M463.3 516h4M463.3 573.8h4M466.6 518.9V562.5M464.6 518.9h4M464.6 562.5h4M468 510.5V571.8M466 510.5h4M466 571.8h4M469.3 507.4V574.4M467.3 507.4h4M467.3 574.4h4M470.6 509.6V575.6M468.6 509.6h4M468.6 575.6h4M472 511.6V571.3M470 511.6h4M470 571.3h4M473.3 519.1V563.5M471.3 519.1h4M471.3 563.5h4M474.6 506.1V572.5M472.6 506.1h4M472.6 572.5h4M476 511.9V569.2M474 511.9h4M474 569.2h4M477.3 522.8V559.3M475.3 522.8h4M475.3 559.3h4" stroke="#555" stroke-width="0.8" fill="none"/><path d="M96.3 801.5L97.6 791.2L98.9 782.4L100.2 771.6L101.6 762.8L102.9 753.9L104.2 742.2L105.6 732.4L106.9 726.3L108.2 721.3L109.6 717L110.9 713.2L112.2 709.3L113.6 705.2L114.9 701L116.2 697L117.6 693.1L118.9 689.4L120.2 685.8L121.6 682.5L122.9 679.2L124.2 676.1L125.6 673L126.9 669.9L128.2 666.7L129.6 663.4L130.9 660L132.2 656.7L133.6 653.7L134.9 651L136.2 648.4L137.6 646.1L138.9 643.8L140.2 641.6L141.6 639.5L142.9 637.5L144.2 635.6L145.5 633.7L146.9 631.8L148.2 630.1L149.5 628.3L150.9 626.7L152.2 625.1L153.5 623.5L154.9 621.9L156.2 620.5L157.5 619L158.9 617.5L160.2 616.1L161.5 614.8L162.9 613.4L164.2 612.1L165.5 610.8L166.9 609.6L168.2 608.3L169.5 607.1L170.9 605.9L172.2 604.8L173.5 603.6L174.9 602.5L176.2 601.3L177.5 600.3L178.9 599.2L180.2 598.2L181.5 597.2L182.9 596.2L184.2 595.3L185.5 594.4L186.8 593.6L188.2 592.8L189.5 592L190.8 591.3L192.2 590.5L193.5 589.7L194.8 588.9L196.2 588.1L197.5 587.3L198.8 586.5L200.2 585.7L201.5 584.9L202.8 584.1L204.2 583.3L205.5 582.5L206.8 581.7L208.2 580.9L209.5 580.1L210.8 579.3L212.2 579.1L213.5 575.8L214.8 575.7L216.2 575.9L217.5 574.1L218.8 574.8L220.2 572L221.5 572.9L222.8 571.4L224.2 573.5L225.5 570.6L226.8 573L228.1 573L229.5 570L230.8 570.3L232.1 568.3L233.5 564.7L234.8 568.8L236.1 568L237.5 566.3L238.8 565.4L240.1 565.9L241.5 565.4L242.8 563.6L244.1 563.4L245.5 565.3L246.8 563.4L248.1 562.8L249.5 564L250.8 561.6L252.1 562.8L253.5 559.7L254.8 560.4L256.1 560.1L257.5 560.7L258.8 559.6L260.1 562L261.5 560.3L262.8 557.8L264.1 561L265.5 556.3L266.8 559.7L268.1 555.7L269.5 557.7L270.8 554.9L272.1 555.5L273.4 557.6L274.8 553.2L276.1 552.5L277.4 554.4L278.8 554.4L280.1 553.9L281.4 554.8L282.8 551.4L284.1 553.5L285.4 552.4L286.8 553.2L288.1 552.7L289.4 553.3L290.8 549.3L292.1 551.1L293.4 549.1L294.8 550.2L296.1 551L297.4 550.2L298.8 550.2L300.1 549.1L301.4 549.4L302.8 549L304.1 550.3L305.4 549.2L306.8 545.3L308.1 548.4L309.4 548.8L310.8 546.5L312.1 544.6L313.4 548.6L314.7 546.5L316.1 546.9L317.4 548.4L318.7 544.5L320.1 545.4L321.4 545.1L322.7 546.1L324.1 544.2L325.4 545.4L326.7 544.7L328.1 545.9L329.4 545.9L330.7 541.9L332.1 544.5L333.4 543.1L334.7 543.5L336.1 543.9L337.4 543.8L338.7 542L340.1 543.3L341.4 542.9L342.7 542.5L344.1 540.8L345.4 541.4L346.7 541.7L348.1 543.1L349.4 544.2L350.7 540.8L352.1 540.7L353.4 542.3L354.7 541.2L356.1 540.8L357.4 540.7L358.7 540.5L360 542.5L361.4 539.6L362.7 543.6L364 540.5L365.4 541L366.7 540.4L368 538.9L369.4 539.4L370.7 543.3L372 544.1L373.4 540.3L374.7 543L376 541.5L377.4 540.2L378.7 543.9L380 544.5L381.4 541L382.7 541.3L384 541.7L385.4 541.3L386.7 542.6L388 543.6L389.4 541.6L390.7 542.7L392 543.7L393.4 540.5L394.7 541.4L396 540.7L397.4 542.7L398.7 542.2L400 542.7L401.3 542.5L402.7 540.9L404 542.4L405.3 540.7L406.7 540.7L408 538.2L409.3 543.2L410.7 539.9L412 541.3L413.3 541.2L414.7 543.3L416 541.8L417.3 540.1L418.7 541.3L420 541L421.3 541.6L422.7 539.4L424 541.2L425.3 544.4L426.7 542.1L428 544L429.3 545.9L430.7 541.9L432 539.1L433.3 541L434.7 542.8L436 542.5L437.3 539.4L438.7 540.9L440 541L441.3 541.2L442.7 541L444 539.9L445.3 540.3L446.6 540.8L448 542.6L449.3 540.3L450.6 542.1L452 539.4L453.3 542.9L454.6 541.3L456 541.1L457.3 543L458.6 538.5L460 538.9L461.3 541.7L462.6 539.9L464 540.5L465.3 544.9L466.6 540.7L468 541.1L469.3 540.9L470.6 542.6L472 541.4L473.3 541.3L474.6 539.3L476 540.5L477.3 541" stroke="#000" stroke-width="1" fill="none"/><path d="M92.9 798.1h6.8v6.8h-6.8zM94.2 787.8h6.8v6.8h-6.8zM95.5 779h6.8v6.8h-6.8zM96.8 768.2h6.8v6.8h-6.8zM98.2 759.4h6.8v6.8h-6.8zM99.5 750.5h6.8v6.8h-6.8zM100.8 738.8h6.8v6.8h-6.8zM102.2 729h6.8v6.8h-6.8zM103.5 722.9h6.8v6.8h-6.8zM104.8 717.9h6.8v6.8h-6.8zM106.2 713.6h6.8v6.8h-6.8zM107.5 709.8h6.8v6.8h-6.8zM108.8 705.9h6.8v6.8h-6.8zM110.2 701.8h6.8v6.8h-6.8zM111.5 697.6h6.8v6.8h-6.8zM112.8 693.6h6.8v6.8h-6.8zM114.2 689.7h6.8v6.8h-6.8zM115.5 686h6.8v6.8h-6.8zM116.8 682.4h6.8v6.8h-6.8zM118.2 679.1h6.8v6.8h-6.8zM119.5 675.8h6.8v6.8h-6.8zM120.8 672.7h6.8v6.8h-6.8zM122.2 669.6h6.8v6.8h-6.8zM123.5 666.5h6.8v6.8h-6.8zM124.8 663.3h6.8v6.8h-6.8zM126.2 660h6.8v6.8h-6.8zM127.5 656.6h6.8v6.8h-6.8zM128.8 653.3h6.8v6.8h-6.8zM130.2 650.3h6.8v6.8h-6.8zM131.5 647.6h6.8v6.8h-6.8zM132.8 645h6.8v6.8h-6.8zM134.2 642.7h6.8v6.8h-6.8zM135.5 640.4h6.8v6.8h-6.8zM136.8 638.2h6.8v6.8h-6.8zM138.2 636.1h6.8v6.8h-6.8zM139.5 634.1h6.8v6.8h-6.8zM140.8 632.2h6.8v6.8h-6.8zM142.1 630.3h6.8v6.8h-6.8zM143.5 628.4h6.8v6.8h-6.8zM144.8 626.7h6.8v6.8h-6.8zM146.1 624.9h6.8v6.8h-6.8zM147.5 623.3h6.8v6.8h-6.8zM148.8 621.7h6.8v6.8h-6.8zM150.1 620.1h6.8v6.8h-6.8zM151.5 618.5h6.8v6.8h-6.8zM152.8 617.1h6.8v6.8h-6.8zM154.1 615.6h6.8v6.8h-6.8zM155.5 614.1h6.8v6.8h-6.8zM156.8 612.7h6.8v6.8h-6.8zM158.1 611.4h6.8v6.8h-6.8zM159.5 610h6.8v6.8h-6.8zM160.8 608.7h6.8v6.8h-6.8zM162.1 607.4h6.8v6.8h-6.8zM163.5 606.2h6.8v6.8h-6.8zM164.8 604.9h6.8v6.8h-6.8zM166.1 603.7h6.8v6.8h-6.8zM167.5 602.5h6.8v6.8h-6.8zM168.8 601.4h6.8v6.8h-6.8zM170.1 600.2h6.8v6.8h-6.8zM171.5 599.1h6.8v6.8h-6.8zM172.8 597.9h6.8v6.8h-6.8zM174.1 596.9h6.8v6.8h-6.8zM175.5 595.8h6.8v6.8h-6.8zM176.8 594.8h6.8v6.8h-6.8zM178.1 593.8h6.8v6.8h-6.8zM179.5 592.8h6.8v6.8h-6.8zM180.8 591.9h6.8v6.8h-6.8zM182.1 591h6.8v6.8h-6.8zM183.4 590.2h6.8v6.8h-6.8zM184.8 589.4h6.8v6.8h-6.8zM186.1 588.6h6.8v6.8h-6.8zM187.4 587.9h6.8v6.8h-6.8zM188.8 587.1h6.8v6.8h-6.8zM190.1 586.3h6.8v6.8h-6.8zM191.4 585.5h6.8v6.8h-6.8zM192.8 584.7h6.8v6.8h-6.8zM194.1 583.9h6.8v6.8h-6.8zM195.4 583.1h6.8v6.8h-6.8zM196.8 582.3h6.8v6.8h-6.8zM198.1 581.5h6.8v6.8h-6.8zM199.4 580.7h6.8v6.8h-6.8zM200.8 579.9h6.8v6.8h-6.8zM202.1 579.1h6.8v6.8h-6.8zM203.4 578.3h6.8v6.8h-6.8zM204.8 577.5h6.8v6.8h-6.8zM206.1 576.7h6.8v6.8h-6.8zM207.4 575.9h6.8v6.8h-6.8zM208.8 575.7h6.8v6.8h-6.8zM210.1 572.4h6.8v6.8h-6.8zM211.4 572.3h6.8v6.8h-6.8zM212.8 572.5h6.8v6.8h-6.8zM214.1 570.7h6.8v6.8h-6.8zM215.4 571.4h6.8v6.8h-6.8zM216.8 568.6h6.8v6.8h-6.8zM218.1 569.5h6.8v6.8h-6.8zM219.4 568h6.8v6.8h-6.8zM220.8 570.1h6.8v6.8h-6.8zM222.1 567.2h6.8v6.8h-6.8zM223.4 569.6h6.8v6.8h-6.8zM224.7 569.6h6.8v6.8h-6.8zM226.1 566.6h6.8v6.8h-6.8zM227.4 566.9h6.8v6.8h-6.8zM228.7 564.9h6.8v6.8h-6.8zM230.1 561.3h6.8v6.8h-6.8zM231.4 565.4h6.8v6.8h-6.8zM232.7 564.6h6.8v6.8h-6.8zM234.1 562.9h6.8v6.8h-6.8zM235.4 562h6.8v6.8h-6.8zM236.7 562.5h6.8v6.8h-6.8zM238.1 562h6.8v6.8h-6.8zM239.4 560.2h6.8v6.8h-6.8zM240.7 560h6.8v6.8h-6.8zM242.1 561.9h6.8v6.8h-6.8zM243.4 560h6.8v6.8h-6.8zM244.7 559.4h6.8v6.8h-6.8zM246.1 560.6h6.8v6.8h-6.8zM247.4 558.2h6.8v6.8h-6.8zM248.7 559.4h6.8v6.8h-6.8zM250.1 556.3h6.8v6.8h-6.8zM251.4 557h6.8v6.8h-6.8zM252.7 556.7h6.8v6.8h-6.8zM254.1 557.3h6.8v6.8h-6.8zM255.4 556.2h6.8v6.8h-6.8zM256.7 558.6h6.8v6.8h-6.8zM258.1 556.9h6.8v6.8h-6.8zM259.4 554.4h6.8v6.8h-6.8zM260.7 557.6h6.8v6.8h-6.8zM262.1 552.9h6.8v6.8h-6.8zM263.4 556.3h6.8v6.8h-6.8zM264.7 552.3h6.8v6.8h-6.8zM266.1 554.3h6.8v6.8h-6.8zM267.4 551.5h6.8v6.8h-6.8zM268.7 552.1h6.8v6.8h-6.8zM270 554.2h6.8v6.8h-6.8zM271.4 549.8h6.8v6.8h-6.8zM272.7 549.1h6.8v6.8h-6.8zM274 551h6.8v6.8h-6.8zM275.4 551h6.8v6.8h-6.8zM276.7 550.5h6.8v6.8h-6.8zM278 551.4h6.8v6.8h-6.8zM279.4 548h6.8v6.8h-6.8zM280.7 550.1h6.8v6.8h-6.8zM282 549h6.8v6.8h-6.8zM283.4 549.8h6.8v6.8h-6.8zM284.7 549.3h6.8v6.8h-6.8zM286 549.9h6.8v6.8h-6.8zM287.4 545.9h6.8v6.8h-6.8zM288.7 547.7h6.8v6.8h-6.8zM290 545.7h6.8v6.8h-6.8zM291.4 546.8h6.8v6.8h-6.8zM292.7 547.6h6.8v6.8h-6.8zM294 546.8h6.8v6.8h-6.8zM295.4 546.8h6.8v6.8h-6.8zM296.7 545.7h6.8v6.8h-6.8zM298 546h6.8v6.8h-6.8zM299.4 545.6h6.8v6.8h-6.8zM300.7 546.9h6.8v6.8h-6.8zM302 545.8h6.8v6.8h-6.8zM303.4 541.9h6.8v6.8h-6.8zM304.7 545h6.8v6.8h-6.8zM306 545.4h6.8v6.8h-6.8zM307.4 543.1h6.8v6.8h-6.8zM308.7 541.2h6.8v6.8h-6.8zM310 545.2h6.8v6.8h-6.8zM311.3 543.1h6.8v6.8h-6.8zM312.7 543.5h6.8v6.8h-6.8zM314 545h6.8v6.8h-6.8zM315.3 541.1h6.8v6.8h-6.8zM316.7 542h6.8v6.8h-6.8zM318 541.7h6.8v6.8h-6.8zM319.3 542.7h6.8v6.8h-6.8zM320.7 540.8h6.8v6.8h-6.8zM322 542h6.8v6.8h-6.8zM323.3 541.3h6.8v6.8h-6.8zM324.7 542.5h6.8v6.8h-6.8zM326 542.5h6.8v6.8h-6.8zM327.3 538.5h6.8v6.8h-6.8zM328.7 541.1h6.8v6.8h-6.8zM330 539.7h6.8v6.8h-6.8zM331.3 540.1h6.8v6.8h-6.8zM332.7 540.5h6.8v6.8h-6.8zM334 540.4h6.8v6.8h-6.8zM335.3 538.6h6.8v6.8h-6.8zM336.7 539.9h6.8v6.8h-6.8zM338 539.5h6.8v6.8h-6.8zM339.3 539.1h6.8v6.8h-6.8zM340.7 537.4h6.8v6.8h-6.8zM342 538h6.8v6.8h-6.8zM343.3 538.3h6.8v6.8h-6.8zM344.7 539.7h6.8v6.8h-6.8zM346 540.8h6.8v6.8h-6.8zM347.3 537.4h6.8v6.8h-6.8zM348.7 537.3h6.8v6.8h-6.8zM350 538.9h6.8v6.8h-6.8zM351.3 537.8h6.8v6.8h-6.8zM352.7 537.4h6.8v6.8h-6.8zM354 537.3h6.8v6.8h-6.8zM355.3 537.1h6.8v6.8h-6.8zM356.6 539.1h6.8v6.8h-6.8zM358 536.2h6.8v6.8h-6.8zM359.3 540.2h6.8v6.8h-6.8zM360.6 537.1h6.8v6.8h-6.8zM362 537.6h6.8v6.8h-6.8zM363.3 537h6.8v6.8h-6.8zM364.6 535.5h6.8v6.8h-6.8zM366 536h6.8v6.8h-6.8zM367.3 539.9h6.8v6.8h-6.8zM368.6 540.7h6.8v6.8h-6.8zM370 536.9h6.8v6.8h-6.8zM371.3 539.6h6.8v6.8h-6.8zM372.6 538.1h6.8v6.8h-6.8zM374 536.8h6.8v6.8h-6.8zM375.3 540.5h6.8v6.8h-6.8zM376.6 541.1h6.8v6.8h-6.8zM378 537.6h6.8v6.8h-6.8zM379.3 537.9h6.8v6.8h-6.8zM380.6 538.3h6.8v6.8h-6.8zM382 537.9h6.8v6.8h-6.8zM383.3 539.2h6.8v6.8h-6.8zM384.6 540.2h6.8v6.8h-6.8zM386 538.2h6.8v6.8h-6.8zM387.3 539.3h6.8v6.8h-6.8zM388.6 540.3h6.8v6.8h-6.8zM390 537.1h6.8v6.8h-6.8zM391.3 538h6.8v6.8h-6.8zM392.6 537.3h6.8v6.8h-6.8zM394 539.3h6.8v6.8h-6.8zM395.3 538.8h6.8v6.8h-6.8zM396.6 539.3h6.8v6.8h-6.8zM397.9 539.1h6.8v6.8h-6.8zM399.3 537.5h6.8v6.8h-6.8zM400.6 539h6.8v6.8h-6.8zM401.9 537.3h6.8v6.8h-6.8zM403.3 537.3h6.8v6.8h-6.8zM404.6 534.8h6.8v6.8h-6.8zM405.9 539.8h6.8v6.8h-6.8zM407.3 536.5h6.8v6.8h-6.8zM408.6 537.9h6.8v6.8h-6.8zM409.9 537.8h6.8v6.8h-6.8zM411.3 539.9h6.8v6.8h-6.8zM412.6 538.4h6.8v6.8h-6.8zM413.9 536.7h6.8v6.8h-6.8zM415.3 537.9h6.8v6.8h-6.8zM416.6 537.6h6.8v6.8h-6.8zM417.9 538.2h6.8v6.8h-6.8zM419.3 536h6.8v6.8h-6.8zM420.6 537.8h6.8v6.8h-6.8zM421.9 541h6.8v6.8h-6.8zM423.3 538.7h6.8v6.8h-6.8zM424.6 540.6h6.8v6.8h-6.8zM425.9 542.5h6.8v6.8h-6.8zM427.3 538.5h6.8v6.8h-6.8zM428.6 535.7h6.8v6.8h-6.8zM429.9 537.6h6.8v6.8h-6.8zM431.3 539.4h6.8v6.8h-6.8zM432.6 539.1h6.8v6.8h-6.8zM433.9 536h6.8v6.8h-6.8zM435.3 537.5h6.8v6.8h-6.8zM436.6 537.6h6.8v6.8h-6.8zM437.9 537.8h6.8v6.8h-6.8zM439.3 537.6h6.8v6.8h-6.8zM440.6 536.5h6.8v6.8h-6.8zM441.9 536.9h6.8v6.8h-6.8zM443.2 537.4h6.8v6.8h-6.8zM444.6 539.2h6.8v6.8h-6.8zM445.9 536.9h6.8v6.8h-6.8zM447.2 538.7h6.8v6.8h-6.8zM448.6 536h6.8v6.8h-6.8zM449.9 539.5h6.8v6.8h-6.8zM451.2 537.9h6.8v6.8h-6.8zM452.6 537.7h6.8v6.8h-6.8zM453.9 539.6h6.8v6.8h-6.8zM455.2 535.1h6.8v6.8h-6.8zM456.6 535.5h6.8v6.8h-6.8zM457.9 538.3h6.8v6.8h-6.8zM459.2 536.5h6.8v6.8h-6.8zM460.6 537.1h6.8v6.8h-6.8zM461.9 541.5h6.8v6.8h-6.8zM463.2 537.3h6.8v6.8h-6.8zM464.6 537.7h6.8v6.8h-6.8zM465.9 537.5h6.8v6.8h-6.8zM467.2 539.2h6.8v6.8h-6.8zM468.6 538h6.8v6.8h-6.8zM469.9 537.9h6.8v6.8h-6.8zM471.2 535.9h6.8v6.8h-6.8zM472.6 537.1h6.8v6.8h-6.8zM473.9 537.6h6.8v6.8h-6.8z" fill="#000"/><path d="M84.3 854.9V864.7M82 854.9h4.5M82 864.7h4.5M85.6 803V812.8M83.3 803h4.5M83.3 812.8h4.5M86.9 750V759.8M84.7 750h4.5M84.7 759.8h4.5M88.3 708.9V718.7M86 708.9h4.5M86 718.7h4.5M89.6 689.2V699.1M87.3 689.2h4.5M87.3 699.1h4.5M90.9 665.7V675.5M88.7 665.7h4.5M88.7 675.5h4.5M92.3 648.1V657.9M90 648.1h4.5M90 657.9h4.5M93.6 633.4V643.2M91.3 633.4h4.5M91.3 643.2h4.5M94.9 620.6V630.4M92.7 620.6h4.5M92.7 630.4h4.5M96.3 608.9V618.8M94 608.9h4.5M94 618.8h4.5M97.6 598.1V607.9M95.3 598.1h4.5M95.3 607.9h4.5M98.9 589.2V599M96.7 589.2h4.5M96.7 599h4.5M100.2 582.6V592.4M98 582.6h4.5M98 592.4h4.5M101.6 577.2V587M99.3 577.2h4.5M99.3 587h4.5M102.9 572.5V582.3M100.7 572.5h4.5M100.7 582.3h4.5M104.2 568.3V578.2M102 568.3h4.5M102 578.2h4.5M105.6 564.6V574.4M103.3 564.6h4.5M103.3 574.4h4.5M106.9 561V570.8M104.7 561h4.5M104.7 570.8h4.5M108.2 557.6V567.4M106 557.6h4.5M106 567.4h4.5M109.6 554.5V564.3M107.3 554.5h4.5M107.3 564.3h4.5M110.9 551.7V561.5M108.7 551.7h4.5M108.7 561.5h4.5M112.2 549.5V559.3M110 549.5h4.5M110 559.3h4.5M113.6 547.6V557.5M111.3 547.6h4.5M111.3 557.5h4.5M114.9 546.1V555.9M112.7 546.1h4.5M112.7 555.9h4.5M116.2 544.6V554.5M114 544.6h4.5M114 554.5h4.5M117.6 543.4V553.2M115.3 543.4h4.5M115.3 553.2h4.5M118.9 545.1V554.9M116.7 545.1h4.5M116.7 554.9h4.5M120.2 540V549.8M118 540h4.5M118 549.8h4.5M121.6 540V549.8M119.3 540h4.5M119.3 549.8h4.5M122.9 538.2V548M120.6 538.2h4.5M120.6 548h4.5M124.2 540.6V550.4M122 540.6h4.5M122 550.4h4.5M125.6 537V546.8M123.3 537h4.5M123.3 546.8h4.5M126.9 536.2V546M124.6 536.2h4.5M124.6 546h4.5M128.2 535.5V545.3M126 535.5h4.5M126 545.3h4.5M129.6 536.8V546.6M127.3 536.8h4.5M127.3 546.6h4.5M130.9 532.3V542.1M128.6 532.3h4.5M128.6 542.1h4.5M132.2 529V538.8M130 529h4.5M130 538.8h4.5M133.6 528.9V538.7M131.3 528.9h4.5M131.3 538.7h4.5M134.9 529.5V539.4M132.6 529.5h4.5M132.6 539.4h4.5M136.2 527.5V537.3M134 527.5h4.5M134 537.3h4.5M137.6 525.1V534.9M135.3 525.1h4.5M135.3 534.9h4.5M138.9 530.3V540.1M136.6 530.3h4.5M136.6 540.1h4.5M140.2 524.7V534.5M138 524.7h4.5M138 534.5h4.5M141.6 522.6V532.4M139.3 522.6h4.5M139.3 532.4h4.5M142.9 521.4V531.2M140.6 521.4h4.5M140.6 531.2h4.5M144.2 518.6V528.4M142 518.6h4.5M142 528.4h4.5M145.5 518.7V528.5M143.3 518.7h4.5M143.3 528.5h4.5M146.9 519.2V529M144.6 519.2h4.5M144.6 529h4.5M148.2 518.3V528.1M146 518.3h4.5M146 528.1h4.5M149.5 516.6V526.4M147.3 516.6h4.5M147.3 526.4h4.5M150.9 518V527.8M148.6 518h4.5M148.6 527.8h4.5M152.2 516.2V526M150 516.2h4.5M150 526h4.5M153.5 513.6V523.4M151.3 513.6h4.5M151.3 523.4h4.5M154.9 510.8V520.6M152.6 510.8h4.5M152.6 520.6h4.5M156.2 513.6V523.5M154 513.6h4.5M154 523.5h4.5M157.5 512.5V522.3M155.3 512.5h4.5M155.3 522.3h4.5M158.9 511.1V520.9M156.6 511.1h4.5M156.6 520.9h4.5M160.2 508.1V517.9M158 508.1h4.5M158 517.9h4.5M161.5 509.6V519.4M159.3 509.6h4.5M159.3 519.4h4.5M162.9 505.9V515.7M160.6 505.9h4.5M160.6 515.7h4.5M164.2 509.2V519M161.9 509.2h4.5M161.9 519h4.5M165.5 506.9V516.7M163.3 506.9h4.5M163.3 516.7h4.5M166.9 505.9V515.7M164.6 505.9h4.5M164.6 515.7h4.5M168.2 503.2V513M165.9 503.2h4.5M165.9 513h4.5M169.5 501.7V511.5M167.3 501.7h4.5M167.3 511.5h4.5M170.9 505.3V515.1M168.6 505.3h4.5M168.6 515.1h4.5M172.2 503.3V513.1M169.9 503.3h4.5M169.9 513.1h4.5M173.5 496.2V506M171.3 496.2h4.5M171.3 506h4.5M174.9 498.1V507.9M172.6 498.1h4.5M172.6 507.9h4.5M176.2 501.7V511.5M173.9 501.7h4.5M173.9 511.5h4.5M177.5 496.3V506.1M175.3 496.3h4.5M175.3 506.1h4.5M178.9 496.5V506.3M176.6 496.5h4.5M176.6 506.3h4.5M180.2 495.7V505.5M177.9 495.7h4.5M177.9 505.5h4.5M181.5 496.7V506.5M179.3 496.7h4.5M179.3 506.5h4.5M182.9 493.3V503.1M180.6 493.3h4.5M180.6 503.1h4.5M184.2 494.8V504.6M181.9 494.8h4.5M181.9 504.6h4.5M185.5 491.8V501.6M183.3 491.8h4.5M183.3 501.6h4.5M186.8 494.7V504.5M184.6 494.7h4.5M184.6 504.5h4.5M188.2 493.9V503.7M185.9 493.9h4.5M185.9 503.7h4.5M189.5 491.4V501.2M187.3 491.4h4.5M187.3 501.2h4.5M190.8 489.4V499.2M188.6 489.4h4.5M188.6 499.2h4.5M192.2 487.4V497.2M189.9 487.4h4.5M189.9 497.2h4.5M193.5 489.5V499.3M191.3 489.5h4.5M191.3 499.3h4.5M194.8 490.9V500.7M192.6 490.9h4.5M192.6 500.7h4.5M196.2 488.6V498.4M193.9 488.6h4.5M193.9 498.4h4.5M197.5 488.7V498.5M195.3 488.7h4.5M195.3 498.5h4.5M198.8 485.9V495.7M196.6 485.9h4.5M196.6 495.7h4.5M200.2 488.1V497.9M197.9 488.1h4.5M197.9 497.9h4.5M201.5 487.1V496.9M199.3 487.1h4.5M199.3 496.9h4.5M202.8 483.7V493.5M200.6 483.7h4.5M200.6 493.5h4.5M204.2 481.3V491.1M201.9 481.3h4.5M201.9 491.1h4.5M205.5 481.1V490.9M203.3 481.1h4.5M203.3 490.9h4.5M206.8 484V493.8M204.6 484h4.5M204.6 493.8h4.5M208.2 483.2V493M205.9 483.2h4.5M205.9 493h4.5M209.5 480.3V490.1M207.2 480.3h4.5M207.2 490.1h4.5M210.8 482.7V492.5M208.6 482.7h4.5M208.6 492.5h4.5M212.2 483.7V493.5M209.9 483.7h4.5M209.9 493.5h4.5M213.5 481.2V491M211.2 481.2h4.5M211.2 491h4.5M214.8 480.1V489.9M212.6 480.1h4.5M212.6 489.9h4.5M216.2 481.9V491.7M213.9 481.9h4.5M213.9 491.7h4.5M217.5 482.8V492.6M215.2 482.8h4.5M215.2 492.6h4.5M218.8 482V491.8M216.6 482h4.5M216.6 491.8h4.5M220.2 477.8V487.6M217.9 477.8h4.5M217.9 487.6h4.5M221.5 479.8V489.6M219.2 479.8h4.5M219.2 489.6h4.5M222.8 478.2V488M220.6 478.2h4.5M220.6 488h4.5M224.2 477.1V486.9M221.9 477.1h4.5M221.9 486.9h4.5M225.5 475.8V485.8M223.2 475.8h4.5M223.2 485.8h4.5M226.8 476.9V487.1M224.6 476.9h4.5M224.6 487.1h4.5M228.1 474.8V485.3M225.9 474.8h4.5M225.9 485.3h4.5M229.5 476.7V487.3M227.2 476.7h4.5M227.2 487.3h4.5M230.8 475.1V486M228.6 475.1h4.5M228.6 486h4.5M232.1 475.7V486.8M229.9 475.7h4.5M229.9 486.8h4.5M233.5 471.3V482.7M231.2 471.3h4.5M231.2 482.7h4.5M234.8 472.8V484.3M232.6 472.8h4.5M232.6 484.3h4.5M236.1 473.5V485.2M233.9 473.5h4.5M233.9 485.2h4.5M237.5 472.2V484.2M235.2 472.2h4.5M235.2 484.2h4.5M238.8 471.4V483.6M236.6 471.4h4.5M236.6 483.6h4.5M240.1 469.2V481.7M237.9 469.2h4.5M237.9 481.7h4.5M241.5 472.8V485.4M239.2 472.8h4.5M239.2 485.4h4.5M242.8 471.3V484.2M240.6 471.3h4.5M240.6 484.2h4.5M244.1 469.6V482.7M241.9 469.6h4.5M241.9 482.7h4.5M245.5 464V477.3M243.2 464h4.5M243.2 477.3h4.5M246.8 466.3V479.8M244.6 466.3h4.5M244.6 479.8h4.5M248.1 467.7V481.5M245.9 467.7h4.5M245.9 481.5h4.5M249.5 465.8V479.8M247.2 465.8h4.5M247.2 479.8h4.5M250.8 463.1V477.3M248.5 463.1h4.5M248.5 477.3h4.5M252.1 466.7V481.1M249.9 466.7h4.5M249.9 481.1h4.5M253.5 466.6V481.2M251.2 466.6h4.5M251.2 481.2h4.5M254.8 463.4V478.3M252.5 463.4h4.5M252.5 478.3h4.5M256.1 464.3V479.4M253.9 464.3h4.5M253.9 479.4h4.5M257.5 463.6V478.9M255.2 463.6h4.5M255.2 478.9h4.5M258.8 465.3V480.9M256.5 465.3h4.5M256.5 480.9h4.5M260.1 460.7V476.5M257.9 460.7h4.5M257.9 476.5h4.5M261.5 460.7V476.7M259.2 460.7h4.5M259.2 476.7h4.5M262.8 462.4V478.6M260.5 462.4h4.5M260.5 478.6h4.5M264.1 461.9V478.3M261.9 461.9h4.5M261.9 478.3h4.5M265.5 466.4V483M263.2 466.4h4.5M263.2 483h4.5M266.8 461.3V478.2M264.5 461.3h4.5M264.5 478.2h4.5M268.1 462.5V479.6M265.9 462.5h4.5M265.9 479.6h4.5M269.5 461.1V478.4M267.2 461.1h4.5M267.2 478.4h4.5M270.8 460.4V477.9M268.5 460.4h4.5M268.5 477.9h4.5M272.1 461.9V479.7M269.9 461.9h4.5M269.9 479.7h4.5M273.4 464.1V482M271.2 464.1h4.5M271.2 482h4.5M274.8 460.2V478.4M272.5 460.2h4.5M272.5 478.4h4.5M276.1 461.9V480.3M273.9 461.9h4.5M273.9 480.3h4.5M277.4 460.9V479.6M275.2 460.9h4.5M275.2 479.6h4.5M278.8 461.3V479.9M276.5 461.3h4.5M276.5 479.9h4.5M280.1 460.8V479.4M277.9 460.8h4.5M277.9 479.4h4.5M281.4 464.1V482.7M279.2 464.1h4.5M279.2 482.7h4.5M282.8 457.8V476.4M280.5 457.8h4.5M280.5 476.4h4.5M284.1 459.4V478M281.9 459.4h4.5M281.9 478h4.5M285.4 457.8V476.4M283.2 457.8h4.5M283.2 476.4h4.5M286.8 456.2V474.8M284.5 456.2h4.5M284.5 474.8h4.5M288.1 459.5V478.2M285.9 459.5h4.5M285.9 478.2h4.5M289.4 462.7V481.3M287.2 462.7h4.5M287.2 481.3h4.5M290.8 461V479.6M288.5 461h4.5M288.5 479.6h4.5M292.1 461.5V480.1M289.9 461.5h4.5M289.9 480.1h4.5M293.4 460.2V478.8M291.2 460.2h4.5M291.2 478.8h4.5M294.8 459.1V477.7M292.5 459.1h4.5M292.5 477.7h4.5M296.1 462.7V481.3M293.8 462.7h4.5M293.8 481.3h4.5M297.4 458.5V477.1M295.2 458.5h4.5M295.2 477.1h4.5M298.8 461.7V480.3M296.5 461.7h4.5M296.5 480.3h4.5M300.1 458.5V477.1M297.8 458.5h4.5M297.8 477.1h4.5M301.4 459.2V477.8M299.2 459.2h4.5M299.2 477.8h4.5M302.8 459.5V478.1M300.5 459.5h4.5M300.5 478.1h4.5M304.1 459V477.6M301.8 459h4.5M301.8 477.6h4.5M305.4 459.8V478.4M303.2 459.8h4.5M303.2 478.4h4.5M306.8 459.9V478.5M304.5 459.9h4.5M304.5 478.5h4.5M308.1 461.8V480.4M305.8 461.8h4.5M305.8 480.4h4.5M309.4 458.8V477.5M307.2 458.8h4.5M307.2 477.5h4.5M310.8 455.5V474.1M308.5 455.5h4.5M308.5 474.1h4.5M312.1 455.2V473.9M309.8 455.2h4.5M309.8 473.9h4.5M313.4 456.4V475M311.2 456.4h4.5M311.2 475h4.5M314.7 457.4V476.1M312.5 457.4h4.5M312.5 476.1h4.5M316.1 459.9V478.5M313.8 459.9h4.5M313.8 478.5h4.5M317.4 456.1V474.7M315.2 456.1h4.5M315.2 474.7h4.5M318.7 458.7V477.3M316.5 458.7h4.5M316.5 477.3h4.5M320.1 458.7V477.3M317.8 458.7h4.5M317.8 477.3h4.5M321.4 459.1V477.7M319.2 459.1h4.5M319.2 477.7h4.5M322.7 458.4V477M320.5 458.4h4.5M320.5 477h4.5M324.1 459.3V477.9M321.8 459.3h4.5M321.8 477.9h4.5M325.4 458.7V477.3M323.2 458.7h4.5M323.2 477.3h4.5M326.7 460.4V479M324.5 460.4h4.5M324.5 479h4.5M328.1 459.2V477.8M325.8 459.2h4.5M325.8 477.8h4.5M329.4 454.5V473.1M327.2 454.5h4.5M327.2 473.1h4.5M330.7 458.6V477.2M328.5 458.6h4.5M328.5 477.2h4.5M332.1 458.9V477.5M329.8 458.9h4.5M329.8 477.5h4.5M333.4 457.5V476.1M331.2 457.5h4.5M331.2 476.1h4.5M334.7 457.2V475.8M332.5 457.2h4.5M332.5 475.8h4.5M336.1 460.4V479M333.8 460.4h4.5M333.8 479h4.5M337.4 458.8V477.4M335.1 458.8h4.5M335.1 477.4h4.5M338.7 456.8V475.4M336.5 456.8h4.5M336.5 475.4h4.5M340.1 457.9V476.6M337.8 457.9h4.5M337.8 476.6h4.5M341.4 458.2V476.8M339.1 458.2h4.5M339.1 476.8h4.5M342.7 455.7V474.3M340.5 455.7h4.5M340.5 474.3h4.5M344.1 459.6V478.2M341.8 459.6h4.5M341.8 478.2h4.5M345.4 458.3V476.9M343.1 458.3h4.5M343.1 476.9h4.5M346.7 459.3V477.9M344.5 459.3h4.5M344.5 477.9h4.5M348.1 455.8V474.4M345.8 455.8h4.5M345.8 474.4h4.5M349.4 461.9V480.5M347.1 461.9h4.5M347.1 480.5h4.5M350.7 459.6V478.2M348.5 459.6h4.5M348.5 478.2h4.5M352.1 459.3V478M349.8 459.3h4.5M349.8 478h4.5M353.4 457.2V475.9M351.1 457.2h4.5M351.1 475.9h4.5M354.7 457.4V476M352.5 457.4h4.5M352.5 476h4.5M356.1 456V474.6M353.8 456h4.5M353.8 474.6h4.5M357.4 461.2V479.8M355.1 461.2h4.5M355.1 479.8h4.5M358.7 457.1V475.7M356.5 457.1h4.5M356.5 475.7h4.5M360 459V477.6M357.8 459h4.5M357.8 477.6h4.5M361.4 459.6V478.3M359.1 459.6h4.5M359.1 478.3h4.5M362.7 457.5V476.1M360.5 457.5h4.5M360.5 476.1h4.5M364 460.1V478.7M361.8 460.1h4.5M361.8 478.7h4.5M365.4 462.2V480.8M363.1 462.2h4.5M363.1 480.8h4.5M366.7 459.1V477.8M364.5 459.1h4.5M364.5 477.8h4.5M368 461.1V479.8M365.8 461.1h4.5M365.8 479.8h4.5M369.4 459.7V478.3M367.1 459.7h4.5M367.1 478.3h4.5M370.7 457.9V476.5M368.5 457.9h4.5M368.5 476.5h4.5M372 458V476.6M369.8 458h4.5M369.8 476.6h4.5M373.4 455.7V474.4M371.1 455.7h4.5M371.1 474.4h4.5M374.7 458.9V477.5M372.5 458.9h4.5M372.5 477.5h4.5M376 461.3V479.9M373.8 461.3h4.5M373.8 479.9h4.5M377.4 459.9V478.5M375.1 459.9h4.5M375.1 478.5h4.5M378.7 460.2V478.8M376.4 460.2h4.5M376.4 478.8h4.5M380 460.8V479.4M377.8 460.8h4.5M377.8 479.4h4.5M381.4 457.9V476.5M379.1 457.9h4.5M379.1 476.5h4.5M382.7 459.8V478.4M380.4 459.8h4.5M380.4 478.4h4.5M384 462.1V480.8M381.8 462.1h4.5M381.8 480.8h4.5M385.4 457.4V476.1M383.1 457.4h4.5M383.1 476.1h4.5M386.7 458.9V477.5M384.4 458.9h4.5M384.4 477.5h4.5M388 458.1V476.7M385.8 458.1h4.5M385.8 476.7h4.5M389.4 458.5V477.1M387.1 458.5h4.5M387.1 477.1h4.5M390.7 457.6V476.2M388.4 457.6h4.5M388.4 476.2h4.5M392 458.7V477.3M389.8 458.7h4.5M389.8 477.3h4.5M393.4 456.5V475.2M391.1 456.5h4.5M391.1 475.2h4.5M394.7 458V476.6M392.4 458h4.5M392.4 476.6h4.5M396 458.1V476.7M393.8 458.1h4.5M393.8 476.7h4.5M397.4 458V476.7M395.1 458h4.5M395.1 476.7h4.5M398.7 461.3V480M396.4 461.3h4.5M396.4 480h4.5M400 459.1V477.7M397.8 459.1h4.5M397.8 477.7h4.5M401.3 459.3V477.9M399.1 459.3h4.5M399.1 477.9h4.5M402.7 458.4V477.1M400.4 458.4h4.5M400.4 477.1h4.5M404 461.2V479.8M401.8 461.2h4.5M401.8 479.8h4.5M405.3 455.9V474.6M403.1 455.9h4.5M403.1 474.6h4.5M406.7 458.7V477.3M404.4 458.7h4.5M404.4 477.3h4.5M408 461V479.6M405.8 461h4.5M405.8 479.6h4.5M409.3 461.9V480.5M407.1 461.9h4.5M407.1 480.5h4.5M410.7 459.4V478M408.4 459.4h4.5M408.4 478h4.5M412 459V477.6M409.8 459h4.5M409.8 477.6h4.5M413.3 460.1V478.8M411.1 460.1h4.5M411.1 478.8h4.5M414.7 458.7V477.3M412.4 458.7h4.5M412.4 477.3h4.5M416 460V478.6M413.8 460h4.5M413.8 478.6h4.5M417.3 457.9V476.5M415.1 457.9h4.5M415.1 476.5h4.5M418.7 460.2V478.8M416.4 460.2h4.5M416.4 478.8h4.5M420 459V477.6M417.8 459h4.5M417.8 477.6h4.5M421.3 457.2V475.8M419.1 457.2h4.5M419.1 475.8h4.5M422.7 454.4V473M420.4 454.4h4.5M420.4 473h4.5M424 460.7V479.3M421.7 460.7h4.5M421.7 479.3h4.5M425.3 459.7V478.4M423.1 459.7h4.5M423.1 478.4h4.5M426.7 460.4V479M424.4 460.4h4.5M424.4 479h4.5M428 457.5V476.2M425.7 457.5h4.5M425.7 476.2h4.5M429.3 460.9V479.6M427.1 460.9h4.5M427.1 479.6h4.5M430.7 459.8V478.4M428.4 459.8h4.5M428.4 478.4h4.5M432 459V477.6M429.7 459h4.5M429.7 477.6h4.5M433.3 460.7V479.3M431.1 460.7h4.5M431.1 479.3h4.5M434.7 460.6V479.2M432.4 460.6h4.5M432.4 479.2h4.5M436 459.8V478.4M433.7 459.8h4.5M433.7 478.4h4.5M437.3 462.6V481.3M435.1 462.6h4.5M435.1 481.3h4.5M438.7 461.5V480.1M436.4 461.5h4.5M436.4 480.1h4.5M440 459.7V478.3M437.7 459.7h4.5M437.7 478.3h4.5M441.3 458.7V477.3M439.1 458.7h4.5M439.1 477.3h4.5M442.7 459.3V477.9M440.4 459.3h4.5M440.4 477.9h4.5M444 462.1V480.7M441.7 462.1h4.5M441.7 480.7h4.5M445.3 459.8V478.4M443.1 459.8h4.5M443.1 478.4h4.5M446.6 457.5V476.2M444.4 457.5h4.5M444.4 476.2h4.5M448 458V476.6M445.7 458h4.5M445.7 476.6h4.5M449.3 459.1V477.7M447.1 459.1h4.5M447.1 477.7h4.5M450.6 460.5V479.2M448.4 460.5h4.5M448.4 479.2h4.5M452 457.9V476.5M449.7 457.9h4.5M449.7 476.5h4.5M453.3 460V478.6M451.1 460h4.5M451.1 478.6h4.5M454.6 461V479.7M452.4 461h4.5M452.4 479.7h4.5M456 460.4V479M453.7 460.4h4.5M453.7 479h4.5M457.3 456.4V475M455.1 456.4h4.5M455.1 475h4.5M458.6 458.6V477.2M456.4 458.6h4.5M456.4 477.2h4.5M460 456.9V475.6M457.7 456.9h4.5M457.7 475.6h4.5M461.3 459.8V478.4M459.1 459.8h4.5M459.1 478.4h4.5M462.6 457.3V475.9M460.4 457.3h4.5M460.4 475.9h4.5M464 460V478.7M461.7 460h4.5M461.7 478.7h4.5M465.3 459.3V477.9M463 459.3h4.5M463 477.9h4.5M466.6 454.6V473.2M464.4 454.6h4.5M464.4 473.2h4.5M468 457.6V476.3M465.7 457.6h4.5M465.7 476.3h4.5M469.3 459.9V478.5M467 459.9h4.5M467 478.5h4.5M470.6 459.1V477.8M468.4 459.1h4.5M468.4 477.8h4.5M472 458.4V477M469.7 458.4h4.5M469.7 477h4.5M473.3 456.9V475.5M471 456.9h4.5M471 475.5h4.5M474.6 459.9V478.5M472.4 459.9h4.5M472.4 478.5h4.5M476 462.1V480.7M473.7 462.1h4.5M473.7 480.7h4.5M477.3 459.5V478.1M475 459.5h4.5M475 478.1h4.5" stroke="#5aaaf0" stroke-width="0.6" fill="none"/><path d="M84.3 859.8L85.6 807.9L86.9 754.9L88.3 713.8L89.6 694.2L90.9 670.6L92.3 653L93.6 638.3L94.9 625.5L96.3 613.9L97.6 603L98.9 594.1L100.2 587.5L101.6 582.1L102.9 577.4L104.2 573.2L105.6 569.5L106.9 565.9L108.2 562.5L109.6 559.4L110.9 556.6L112.2 554.4L113.6 552.5L114.9 551L116.2 549.6L117.6 548.3L118.9 550L120.2 544.9L121.6 544.9L122.9 543.1L124.2 545.5L125.6 541.9L126.9 541.1L128.2 540.4L129.6 541.7L130.9 537.2L132.2 533.9L133.6 533.8L134.9 534.4L136.2 532.4L137.6 530L138.9 535.2L140.2 529.6L141.6 527.5L142.9 526.3L144.2 523.5L145.5 523.6L146.9 524.1L148.2 523.2L149.5 521.5L150.9 522.9L152.2 521.1L153.5 518.5L154.9 515.7L156.2 518.5L157.5 517.4L158.9 516L160.2 513L161.5 514.5L162.9 510.8L164.2 514.1L165.5 511.8L166.9 510.8L168.2 508.1L169.5 506.6L170.9 510.2L172.2 508.2L173.5 501.1L174.9 503L176.2 506.6L177.5 501.2L178.9 501.4L180.2 500.6L181.5 501.6L182.9 498.2L184.2 499.7L185.5 496.7L186.8 499.6L188.2 498.8L189.5 496.3L190.8 494.3L192.2 492.3L193.5 494.4L194.8 495.8L196.2 493.5L197.5 493.6L198.8 490.8L200.2 493L201.5 492L202.8 488.6L204.2 486.2L205.5 486L206.8 488.9L208.2 488.1L209.5 485.2L210.8 487.6L212.2 488.6L213.5 486.1L214.8 485L216.2 486.8L217.5 487.7L218.8 486.9L220.2 482.7L221.5 484.7L222.8 483.1L224.2 482L225.5 480.8L226.8 482L228.1 480L229.5 482L230.8 480.6L232.1 481.3L233.5 477L234.8 478.6L236.1 479.3L237.5 478.2L238.8 477.5L240.1 475.5L241.5 479.1L242.8 477.7L244.1 476.2L245.5 470.6L246.8 473.1L248.1 474.6L249.5 472.8L250.8 470.2L252.1 473.9L253.5 473.9L254.8 470.8L256.1 471.8L257.5 471.3L258.8 473.1L260.1 468.6L261.5 468.7L262.8 470.5L264.1 470.1L265.5 474.7L266.8 469.8L268.1 471.1L269.5 469.8L270.8 469.2L272.1 470.8L273.4 473L274.8 469.3L276.1 471.1L277.4 470.3L278.8 470.6L280.1 470.1L281.4 473.4L282.8 467.1L284.1 468.7L285.4 467.1L286.8 465.5L288.1 468.9L289.4 472L290.8 470.3L292.1 470.8L293.4 469.5L294.8 468.4L296.1 472L297.4 467.8L298.8 471L300.1 467.8L301.4 468.5L302.8 468.8L304.1 468.3L305.4 469.1L306.8 469.2L308.1 471.1L309.4 468.1L310.8 464.8L312.1 464.5L313.4 465.7L314.7 466.8L316.1 469.2L317.4 465.4L318.7 468L320.1 468L321.4 468.4L322.7 467.7L324.1 468.6L325.4 468L326.7 469.7L328.1 468.5L329.4 463.8L330.7 467.9L332.1 468.2L333.4 466.8L334.7 466.5L336.1 469.7L337.4 468.1L338.7 466.1L340.1 467.2L341.4 467.5L342.7 465L344.1 468.9L345.4 467.6L346.7 468.6L348.1 465.1L349.4 471.2L350.7 468.9L352.1 468.7L353.4 466.6L354.7 466.7L356.1 465.3L357.4 470.5L358.7 466.4L360 468.3L361.4 468.9L362.7 466.8L364 469.4L365.4 471.5L366.7 468.5L368 470.5L369.4 469L370.7 467.2L372 467.3L373.4 465.1L374.7 468.2L376 470.6L377.4 469.2L378.7 469.5L380 470.1L381.4 467.2L382.7 469.1L384 471.4L385.4 466.7L386.7 468.2L388 467.4L389.4 467.8L390.7 466.9L392 468L393.4 465.9L394.7 467.3L396 467.4L397.4 467.4L398.7 470.7L400 468.4L401.3 468.6L402.7 467.8L404 470.5L405.3 465.3L406.7 468L408 470.3L409.3 471.2L410.7 468.7L412 468.3L413.3 469.5L414.7 468L416 469.3L417.3 467.2L418.7 469.5L420 468.3L421.3 466.5L422.7 463.7L424 470L425.3 469L426.7 469.7L428 466.8L429.3 470.3L430.7 469.1L432 468.3L433.3 470L434.7 469.9L436 469.1L437.3 472L438.7 470.8L440 469L441.3 468L442.7 468.6L444 471.4L445.3 469.1L446.6 466.9L448 467.3L449.3 468.4L450.6 469.8L452 467.2L453.3 469.3L454.6 470.3L456 469.7L457.3 465.7L458.6 467.9L460 466.2L461.3 469.1L462.6 466.6L464 469.4L465.3 468.6L466.6 463.9L468 466.9L469.3 469.2L470.6 468.4L472 467.7L473.3 466.2L474.6 469.2L476 471.4L477.3 468.8" stroke="#5aaaf0" stroke-width="1" fill="none"/><path d="M84.3 859.8m-4.1 0a4.1 4.1 0 1 0 8.2 0a4.1 4.1 0 1 0 -8.2 0M85.6 807.9m-4.1 0a4.1 4.1 0 1 0 8.2 0a4.1 4.1 0 1 0 -8.2 0M86.9 754.9m-4.1 0a4.1 4.1 0 1 0 8.2 0a4.1 4.1 0 1 0 -8.2 0M88.3 713.8m-4.1 0a4.1 4.1 0 1 0 8.2 0a4.1 4.1 0 1 0 -8.2 0M89.6 694.2m-4.1 0a4.1 4.1 0 1 0 8.2 0a4.1 4.1 0 1 0 -8.2 0M90.9 670.6m-4.1 0a4.1 4.1 0 1 0 8.2 0a4.1 4.1 0 1 0 -8.2 0M92.3 653m-4.1 0a4.1 4.1 0 1 0 8.2 0a4.1 4.1 0 1 0 -8.2 0M93.6 638.3m-4.1 0a4.1 4.1 0 1 0 8.2 0a4.1 4.1 0 1 0 -8.2 0M94.9 625.5m-4.1 0a4.1 4.1 0 1 0 8.2 0a4.1 4.1 0 1 0 -8.2 0M96.3 613.9m-4.1 0a4.1 4.1 0 1 0 8.2 0a4.1 4.1 0 1 0 -8.2 0M97.6 603m-4.1 0a4.1 4.1 0 1 0 8.2 0a4.1 4.1 0 1 0 -8.2 0M98.9 594.1m-4.1 0a4.1 4.1 0 1 0 8.2 0a4.1 4.1 0 1 0 -8.2 0M100.2 587.5m-4.1 0a4.1 4.1 0 1 0 8.2 0a4.1 4.1 0 1 0 -8.2 0M101.6 582.1m-4.1 0a4.1 4.1 0 1 0 8.2 0a4.1 4.1 0 1 0 -8.2 0M102.9 577.4m-4.1 0a4.1 4.1 0 1 0 8.2 0a4.1 4.1 0 1 0 -8.2 0M104.2 573.2m-4.1 0a4.1 4.1 0 1 0 8.2 0a4.1 4.1 0 1 0 -8.2 0M105.6 569.5m-4.1 0a4.1 4.1 0 1 0 8.2 0a4.1 4.1 0 1 0 -8.2 0M106.9 565.9m-4.1 0a4.1 4.1 0 1 0 8.2 0a4.1 4.1 0 1 0 -8.2 0M108.2 562.5m-4.1 0a4.1 4.1 0 1 0 8.2 0a4.1 4.1 0 1 0 -8.2 0M109.6 559.4m-4.1 0a4.1 4.1 0 1 0 8.2 0a4.1 4.1 0 1 0 -8.2 0M110.9 556.6m-4.1 0a4.1 4.1 0 1 0 8.2 0a4.1 4.1 0 1 0 -8.2 0M112.2 554.4m-4.1 0a4.1 4.1 0 1 0 8.2 0a4.1 4.1 0 1 0 -8.2 0M113.6 552.5m-4.1 0a4.1 4.1 0 1 0 8.2 0a4.1 4.1 0 1 0 -8.2 0M114.9 551m-4.1 0a4.1 4.1 0 1 0 8.2 0a4.1 4.1 0 1 0 -8.2 0M116.2 549.6m-4.1 0a4.1 4.1 0 1 0 8.2 0a4.1 4.1 0 1 0 -8.2 0M117.6 548.3m-4.1 0a4.1 4.1 0 1 0 8.2 0a4.1 4.1 0 1 0 -8.2 0M118.9 550m-4.1 0a4.1 4.1 0 1 0 8.2 0a4.1 4.1 0 1 0 -8.2 0M120.2 544.9m-4.1 0a4.1 4.1 0 1 0 8.2 0a4.1 4.1 0 1 0 -8.2 0M121.6 544.9m-4.1 0a4.1 4.1 0 1 0 8.2 0a4.1 4.1 0 1 0 -8.2 0M122.9 543.1m-4.1 0a4.1 4.1 0 1 0 8.2 0a4.1 4.1 0 1 0 -8.2 0M124.2 545.5m-4.1 0a4.1 4.1 0 1 0 8.2 0a4.1 4.1 0 1 0 -8.2 0M125.6 541.9m-4.1 0a4.1 4.1 0 1 0 8.2 0a4.1 4.1 0 1 0 -8.2 0M126.9 541.1m-4.1 0a4.1 4.1 0 1 0 8.2 0a4.1 4.1 0 1 0 -8.2 0M128.2 540.4m-4.1 0a4.1 4.1 0 1 0 8.2 0a4.1 4.1 0 1 0 -8.2 0M129.6 541.7m-4.1 0a4.1 4.1 0 1 0 8.2 0a4.1 4.1 0 1 0 -8.2 0M130.9 537.2m-4.1 0a4.1 4.1 0 1 0 8.2 0a4.1 4.1 0 1 0 -8.2 0M132.2 533.9m-4.1 0a4.1 4.1 0 1 0 8.2 0a4.1 4.1 0 1 0 -8.2 0M133.6 533.8m-4.1 0a4.1 4.1 0 1 0 8.2 0a4.1 4.1 0 1 0 -8.2 0M134.9 534.4m-4.1 0a4.1 4.1 0 1 0 8.2 0a4.1 4.1 0 1 0 -8.2 0M136.2 532.4m-4.1 0a4.1 4.1 0 1 0 8.2 0a4.1 4.1 0 1 0 -8.2 0M137.6 530m-4.1 0a4.1 4.1 0 1 0 8.2 0a4.1 4.1 0 1 0 -8.2 0M138.9 535.2m-4.1 0a4.1 4.1 0 1 0 8.2 0a4.1 4.1 0 1 0 -8.2 0M140.2 529.6m-4.1 0a4.1 4.1 0 1 0 8.2 0a4.1 4.1 0 1 0 -8.2 0M141.6 527.5m-4.1 0a4.1 4.1 0 1 0 8.2 0a4.1 4.1 0 1 0 -8.2 0M142.9 526.3m-4.1 0a4.1 4.1 0 1 0 8.2 0a4.1 4.1 0 1 0 -8.2 0M144.2 523.5m-4.1 0a4.1 4.1 0 1 0 8.2 0a4.1 4.1 0 1 0 -8.2 0M145.5 523.6m-4.1 0a4.1 4.1 0 1 0 8.2 0a4.1 4.1 0 1 0 -8.2 0M146.9 524.1m-4.1 0a4.1 4.1 0 1 0 8.2 0a4.1 4.1 0 1 0 -8.2 0M148.2 523.2m-4.1 0a4.1 4.1 0 1 0 8.2 0a4.1 4.1 0 1 0 -8.2 0M149.5 521.5m-4.1 0a4.1 4.1 0 1 0 8.2 0a4.1 4.1 0 1 0 -8.2 0M150.9 522.9m-4.1 0a4.1 4.1 0 1 0 8.2 0a4.1 4.1 0 1 0 -8.2 0M152.2 521.1m-4.1 0a4.1 4.1 0 1 0 8.2 0a4.1 4.1 0 1 0 -8.2 0M153.5 518.5m-4.1 0a4.1 4.1 0 1 0 8.2 0a4.1 4.1 0 1 0 -8.2 0M154.9 515.7m-4.1 0a4.1 4.1 0 1 0 8.2 0a4.1 4.1 0 1 0 -8.2 0M156.2 518.5m-4.1 0a4.1 4.1 0 1 0 8.2 0a4.1 4.1 0 1 0 -8.2 0M157.5 517.4m-4.1 0a4.1 4.1 0 1 0 8.2 0a4.1 4.1 0 1 0 -8.2 0M158.9 516m-4.1 0a4.1 4.1 0 1 0 8.2 0a4.1 4.1 0 1 0 -8.2 0M160.2 513m-4.1 0a4.1 4.1 0 1 0 8.2 0a4.1 4.1 0 1 0 -8.2 0M161.5 514.5m-4.1 0a4.1 4.1 0 1 0 8.2 0a4.1 4.1 0 1 0 -8.2 0M162.9 510.8m-4.1 0a4.1 4.1 0 1 0 8.2 0a4.1 4.1 0 1 0 -8.2 0M164.2 514.1m-4.1 0a4.1 4.1 0 1 0 8.2 0a4.1 4.1 0 1 0 -8.2 0M165.5 511.8m-4.1 0a4.1 4.1 0 1 0 8.2 0a4.1 4.1 0 1 0 -8.2 0M166.9 510.8m-4.1 0a4.1 4.1 0 1 0 8.2 0a4.1 4.1 0 1 0 -8.2 0M168.2 508.1m-4.1 0a4.1 4.1 0 1 0 8.2 0a4.1 4.1 0 1 0 -8.2 0M169.5 506.6m-4.1 0a4.1 4.1 0 1 0 8.2 0a4.1 4.1 0 1 0 -8.2 0M170.9 510.2m-4.1 0a4.1 4.1 0 1 0 8.2 0a4.1 4.1 0 1 0 -8.2 0M172.2 508.2m-4.1 0a4.1 4.1 0 1 0 8.2 0a4.1 4.1 0 1 0 -8.2 0M173.5 501.1m-4.1 0a4.1 4.1 0 1 0 8.2 0a4.1 4.1 0 1 0 -8.2 0M174.9 503m-4.1 0a4.1 4.1 0 1 0 8.2 0a4.1 4.1 0 1 0 -8.2 0M176.2 506.6m-4.1 0a4.1 4.1 0 1 0 8.2 0a4.1 4.1 0 1 0 -8.2 0M177.5 501.2m-4.1 0a4.1 4.1 0 1 0 8.2 0a4.1 4.1 0 1 0 -8.2 0M178.9 501.4m-4.1 0a4.1 4.1 0 1 0 8.2 0a4.1 4.1 0 1 0 -8.2 0M180.2 500.6m-4.1 0a4.1 4.1 0 1 0 8.2 0a4.1 4.1 0 1 0 -8.2 0M181.5 501.6m-4.1 0a4.1 4.1 0 1 0 8.2 0a4.1 4.1 0 1 0 -8.2 0M182.9 498.2m-4.1 0a4.1 4.1 0 1 0 8.2 0a4.1 4.1 0 1 0 -8.2 0M184.2 499.7m-4.1 0a4.1 4.1 0 1 0 8.2 0a4.1 4.1 0 1 0 -8.2 0M185.5 496.7m-4.1 0a4.1 4.1 0 1 0 8.2 0a4.1 4.1 0 1 0 -8.2 0M186.8 499.6m-4.1 0a4.1 4.1 0 1 0 8.2 0a4.1 4.1 0 1 0 -8.2 0M188.2 498.8m-4.1 0a4.1 4.1 0 1 0 8.2 0a4.1 4.1 0 1 0 -8.2 0M189.5 496.3m-4.1 0a4.1 4.1 0 1 0 8.2 0a4.1 4.1 0 1 0 -8.2 0M190.8 494.3m-4.1 0a4.1 4.1 0 1 0 8.2 0a4.1 4.1 0 1 0 -8.2 0M192.2 492.3m-4.1 0a4.1 4.1 0 1 0 8.2 0a4.1 4.1 0 1 0 -8.2 0M193.5 494.4m-4.1 0a4.1 4.1 0 1 0 8.2 0a4.1 4.1 0 1 0 -8.2 0M194.8 495.8m-4.1 0a4.1 4.1 0 1 0 8.2 0a4.1 4.1 0 1 0 -8.2 0M196.2 493.5m-4.1 0a4.1 4.1 0 1 0 8.2 0a4.1 4.1 0 1 0 -8.2 0M197.5 493.6m-4.1 0a4.1 4.1 0 1 0 8.2 0a4.1 4.1 0 1 0 -8.2 0M198.8 490.8m-4.1 0a4.1 4.1 0 1 0 8.2 0a4.1 4.1 0 1 0 -8.2 0M200.2 493m-4.1 0a4.1 4.1 0 1 0 8.2 0a4.1 4.1 0 1 0 -8.2 0M201.5 492m-4.1 0a4.1 4.1 0 1 0 8.2 0a4.1 4.1 0 1 0 -8.2 0M202.8 488.6m-4.1 0a4.1 4.1 0 1 0 8.2 0a4.1 4.1 0 1 0 -8.2 0M204.2 486.2m-4.1 0a4.1 4.1 0 1 0 8.2 0a4.1 4.1 0 1 0 -8.2 0M205.5 486m-4.1 0a4.1 4.1 0 1 0 8.2 0a4.1 4.1 0 1 0 -8.2 0M206.8 488.9m-4.1 0a4.1 4.1 0 1 0 8.2 0a4.1 4.1 0 1 0 -8.2 0M208.2 488.1m-4.1 0a4.1 4.1 0 1 0 8.2 0a4.1 4.1 0 1 0 -8.2 0M209.5 485.2m-4.1 0a4.1 4.1 0 1 0 8.2 0a4.1 4.1 0 1 0 -8.2 0M210.8 487.6m-4.1 0a4.1 4.1 0 1 0 8.2 0a4.1 4.1 0 1 0 -8.2 0M212.2 488.6m-4.1 0a4.1 4.1 0 1 0 8.2 0a4.1 4.1 0 1 0 -8.2 0M213.5 486.1m-4.1 0a4.1 4.1 0 1 0 8.2 0a4.1 4.1 0 1 0 -8.2 0M214.8 485m-4.1 0a4.1 4.1 0 1 0 8.2 0a4.1 4.1 0 1 0 -8.2 0M216.2 486.8m-4.1 0a4.1 4.1 0 1 0 8.2 0a4.1 4.1 0 1 0 -8.2 0M217.5 487.7m-4.1 0a4.1 4.1 0 1 0 8.2 0a4.1 4.1 0 1 0 -8.2 0M218.8 486.9m-4.1 0a4.1 4.1 0 1 0 8.2 0a4.1 4.1 0 1 0 -8.2 0M220.2 482.7m-4.1 0a4.1 4.1 0 1 0 8.2 0a4.1 4.1 0 1 0 -8.2 0M221.5 484.7m-4.1 0a4.1 4.1 0 1 0 8.2 0a4.1 4.1 0 1 0 -8.2 0M222.8 483.1m-4.1 0a4.1 4.1 0 1 0 8.2 0a4.1 4.1 0 1 0 -8.2 0M224.2 482m-4.1 0a4.1 4.1 0 1 0 8.2 0a4.1 4.1 0 1 0 -8.2 0M225.5 480.8m-4.1 0a4.1 4.1 0 1 0 8.2 0a4.1 4.1 0 1 0 -8.2 0M226.8 482m-4.1 0a4.1 4.1 0 1 0 8.2 0a4.1 4.1 0 1 0 -8.2 0M228.1 480m-4.1 0a4.1 4.1 0 1 0 8.2 0a4.1 4.1 0 1 0 -8.2 0M229.5 482m-4.1 0a4.1 4.1 0 1 0 8.2 0a4.1 4.1 0 1 0 -8.2 0M230.8 480.6m-4.1 0a4.1 4.1 0 1 0 8.2 0a4.1 4.1 0 1 0 -8.2 0M232.1 481.3m-4.1 0a4.1 4.1 0 1 0 8.2 0a4.1 4.1 0 1 0 -8.2 0M233.5 477m-4.1 0a4.1 4.1 0 1 0 8.2 0a4.1 4.1 0 1 0 -8.2 0M234.8 478.6m-4.1 0a4.1 4.1 0 1 0 8.2 0a4.1 4.1 0 1 0 -8.2 0M236.1 479.3m-4.1 0a4.1 4.1 0 1 0 8.2 0a4.1 4.1 0 1 0 -8.2 0M237.5 478.2m-4.1 0a4.1 4.1 0 1 0 8.2 0a4.1 4.1 0 1 0 -8.2 0M238.8 477.5m-4.1 0a4.1 4.1 0 1 0 8.2 0a4.1 4.1 0 1 0 -8.2 0M240.1 475.5m-4.1 0a4.1 4.1 0 1 0 8.2 0a4.1 4.1 0 1 0 -8.2 0M241.5 479.1m-4.1 0a4.1 4.1 0 1 0 8.2 0a4.1 4.1 0 1 0 -8.2 0M242.8 477.7m-4.1 0a4.1 4.1 0 1 0 8.2 0a4.1 4.1 0 1 0 -8.2 0M244.1 476.2m-4.1 0a4.1 4.1 0 1 0 8.2 0a4.1 4.1 0 1 0 -8.2 0M245.5 470.6m-4.1 0a4.1 4.1 0 1 0 8.2 0a4.1 4.1 0 1 0 -8.2 0M246.8 473.1m-4.1 0a4.1 4.1 0 1 0 8.2 0a4.1 4.1 0 1 0 -8.2 0M248.1 474.6m-4.1 0a4.1 4.1 0 1 0 8.2 0a4.1 4.1 0 1 0 -8.2 0M249.5 472.8m-4.1 0a4.1 4.1 0 1 0 8.2 0a4.1 4.1 0 1 0 -8.2 0M250.8 470.2m-4.1 0a4.1 4.1 0 1 0 8.2 0a4.1 4.1 0 1 0 -8.2 0M252.1 473.9m-4.1 0a4.1 4.1 0 1 0 8.2 0a4.1 4.1 0 1 0 -8.2 0M253.5 473.9m-4.1 0a4.1 4.1 0 1 0 8.2 0a4.1 4.1 0 1 0 -8.2 0M254.8 470.8m-4.1 0a4.1 4.1 0 1 0 8.2 0a4.1 4.1 0 1 0 -8.2 0M256.1 471.8m-4.1 0a4.1 4.1 0 1 0 8.2 0a4.1 4.1 0 1 0 -8.2 0M257.5 471.3m-4.1 0a4.1 4.1 0 1 0 8.2 0a4.1 4.1 0 1 0 -8.2 0M258.8 473.1m-4.1 0a4.1 4.1 0 1 0 8.2 0a4.1 4.1 0 1 0 -8.2 0M260.1 468.6m-4.1 0a4.1 4.1 0 1 0 8.2 0a4.1 4.1 0 1 0 -8.2 0M261.5 468.7m-4.1 0a4.1 4.1 0 1 0 8.2 0a4.1 4.1 0 1 0 -8.2 0M262.8 470.5m-4.1 0a4.1 4.1 0 1 0 8.2 0a4.1 4.1 0 1 0 -8.2 0M264.1 470.1m-4.1 0a4.1 4.1 0 1 0 8.2 0a4.1 4.1 0 1 0 -8.2 0M265.5 474.7m-4.1 0a4.1 4.1 0 1 0 8.2 0a4.1 4.1 0 1 0 -8.2 0M266.8 469.8m-4.1 0a4.1 4.1 0 1 0 8.2 0a4.1 4.1 0 1 0 -8.2 0M268.1 471.1m-4.1 0a4.1 4.1 0 1 0 8.2 0a4.1 4.1 0 1 0 -8.2 0M269.5 469.8m-4.1 0a4.1 4.1 0 1 0 8.2 0a4.1 4.1 0 1 0 -8.2 0M270.8 469.2m-4.1 0a4.1 4.1 0 1 0 8.2 0a4.1 4.1 0 1 0 -8.2 0M272.1 470.8m-4.1 0a4.1 4.1 0 1 0 8.2 0a4.1 4.1 0 1 0 -8.2 0M273.4 473m-4.1 0a4.1 4.1 0 1 0 8.2 0a4.1 4.1 0 1 0 -8.2 0M274.8 469.3m-4.1 0a4.1 4.1 0 1 0 8.2 0a4.1 4.1 0 1 0 -8.2 0M276.1 471.1m-4.1 0a4.1 4.1 0 1 0 8.2 0a4.1 4.1 0 1 0 -8.2 0M277.4 470.3m-4.1 0a4.1 4.1 0 1 0 8.2 0a4.1 4.1 0 1 0 -8.2 0M278.8 470.6m-4.1 0a4.1 4.1 0 1 0 8.2 0a4.1 4.1 0 1 0 -8.2 0M280.1 470.1m-4.1 0a4.1 4.1 0 1 0 8.2 0a4.1 4.1 0 1 0 -8.2 0M281.4 473.4m-4.1 0a4.1 4.1 0 1 0 8.2 0a4.1 4.1 0 1 0 -8.2 0M282.8 467.1m-4.1 0a4.1 4.1 0 1 0 8.2 0a4.1 4.1 0 1 0 -8.2 0M284.1 468.7m-4.1 0a4.1 4.1 0 1 0 8.2 0a4.1 4.1 0 1 0 -8.2 0M285.4 467.1m-4.1 0a4.1 4.1 0 1 0 8.2 0a4.1 4.1 0 1 0 -8.2 0M286.8 465.5m-4.1 0a4.1 4.1 0 1 0 8.2 0a4.1 4.1 0 1 0 -8.2 0M288.1 468.9m-4.1 0a4.1 4.1 0 1 0 8.2 0a4.1 4.1 0 1 0 -8.2 0M289.4 472m-4.1 0a4.1 4.1 0 1 0 8.2 0a4.1 4.1 0 1 0 -8.2 0M290.8 470.3m-4.1 0a4.1 4.1 0 1 0 8.2 0a4.1 4.1 0 1 0 -8.2 0M292.1 470.8m-4.1 0a4.1 4.1 0 1 0 8.2 0a4.1 4.1 0 1 0 -8.2 0M293.4 469.5m-4.1 0a4.1 4.1 0 1 0 8.2 0a4.1 4.1 0 1 0 -8.2 0M294.8 468.4m-4.1 0a4.1 4.1 0 1 0 8.2 0a4.1 4.1 0 1 0 -8.2 0M296.1 472m-4.1 0a4.1 4.1 0 1 0 8.2 0a4.1 4.1 0 1 0 -8.2 0M297.4 467.8m-4.1 0a4.1 4.1 0 1 0 8.2 0a4.1 4.1 0 1 0 -8.2 0M298.8 471m-4.1 0a4.1 4.1 0 1 0 8.2 0a4.1 4.1 0 1 0 -8.2 0M300.1 467.8m-4.1 0a4.1 4.1 0 1 0 8.2 0a4.1 4.1 0 1 0 -8.2 0M301.4 468.5m-4.1 0a4.1 4.1 0 1 0 8.2 0a4.1 4.1 0 1 0 -8.2 0M302.8 468.8m-4.1 0a4.1 4.1 0 1 0 8.2 0a4.1 4.1 0 1 0 -8.2 0M304.1 468.3m-4.1 0a4.1 4.1 0 1 0 8.2 0a4.1 4.1 0 1 0 -8.2 0M305.4 469.1m-4.1 0a4.1 4.1 0 1 0 8.2 0a4.1 4.1 0 1 0 -8.2 0M306.8 469.2m-4.1 0a4.1 4.1 0 1 0 8.2 0a4.1 4.1 0 1 0 -8.2 0M308.1 471.1m-4.1 0a4.1 4.1 0 1 0 8.2 0a4.1 4.1 0 1 0 -8.2 0M309.4 468.1m-4.1 0a4.1 4.1 0 1 0 8.2 0a4.1 4.1 0 1 0 -8.2 0M310.8 464.8m-4.1 0a4.1 4.1 0 1 0 8.2 0a4.1 4.1 0 1 0 -8.2 0M312.1 464.5m-4.1 0a4.1 4.1 0 1 0 8.2 0a4.1 4.1 0 1 0 -8.2 0M313.4 465.7m-4.1 0a4.1 4.1 0 1 0 8.2 0a4.1 4.1 0 1 0 -8.2 0M314.7 466.8m-4.1 0a4.1 4.1 0 1 0 8.2 0a4.1 4.1 0 1 0 -8.2 0M316.1 469.2m-4.1 0a4.1 4.1 0 1 0 8.2 0a4.1 4.1 0 1 0 -8.2 0M317.4 465.4m-4.1 0a4.1 4.1 0 1 0 8.2 0a4.1 4.1 0 1 0 -8.2 0M318.7 468m-4.1 0a4.1 4.1 0 1 0 8.2 0a4.1 4.1 0 1 0 -8.2 0M320.1 468m-4.1 0a4.1 4.1 0 1 0 8.2 0a4.1 4.1 0 1 0 -8.2 0M321.4 468.4m-4.1 0a4.1 4.1 0 1 0 8.2 0a4.1 4.1 0 1 0 -8.2 0M322.7 467.7m-4.1 0a4.1 4.1 0 1 0 8.2 0a4.1 4.1 0 1 0 -8.2 0M324.1 468.6m-4.1 0a4.1 4.1 0 1 0 8.2 0a4.1 4.1 0 1 0 -8.2 0M325.4 468m-4.1 0a4.1 4.1 0 1 0 8.2 0a4.1 4.1 0 1 0 -8.2 0M326.7 469.7m-4.1 0a4.1 4.1 0 1 0 8.2 0a4.1 4.1 0 1 0 -8.2 0M328.1 468.5m-4.1 0a4.1 4.1 0 1 0 8.2 0a4.1 4.1 0 1 0 -8.2 0M329.4 463.8m-4.1 0a4.1 4.1 0 1 0 8.2 0a4.1 4.1 0 1 0 -8.2 0M330.7 467.9m-4.1 0a4.1 4.1 0 1 0 8.2 0a4.1 4.1 0 1 0 -8.2 0M332.1 468.2m-4.1 0a4.1 4.1 0 1 0 8.2 0a4.1 4.1 0 1 0 -8.2 0M333.4 466.8m-4.1 0a4.1 4.1 0 1 0 8.2 0a4.1 4.1 0 1 0 -8.2 0M334.7 466.5m-4.1 0a4.1 4.1 0 1 0 8.2 0a4.1 4.1 0 1 0 -8.2 0M336.1 469.7m-4.1 0a4.1 4.1 0 1 0 8.2 0a4.1 4.1 0 1 0 -8.2 0M337.4 468.1m-4.1 0a4.1 4.1 0 1 0 8.2 0a4.1 4.1 0 1 0 -8.2 0M338.7 466.1m-4.1 0a4.1 4.1 0 1 0 8.2 0a4.1 4.1 0 1 0 -8.2 0M340.1 467.2m-4.1 0a4.1 4.1 0 1 0 8.2 0a4.1 4.1 0 1 0 -8.2 0M341.4 467.5m-4.1 0a4.1 4.1 0 1 0 8.2 0a4.1 4.1 0 1 0 -8.2 0M342.7 465m-4.1 0a4.1 4.1 0 1 0 8.2 0a4.1 4.1 0 1 0 -8.2 0M344.1 468.9m-4.1 0a4.1 4.1 0 1 0 8.2 0a4.1 4.1 0 1 0 -8.2 0M345.4 467.6m-4.1 0a4.1 4.1 0 1 0 8.2 0a4.1 4.1 0 1 0 -8.2 0M346.7 468.6m-4.1 0a4.1 4.1 0 1 0 8.2 0a4.1 4.1 0 1 0 -8.2 0M348.1 465.1m-4.1 0a4.1 4.1 0 1 0 8.2 0a4.1 4.1 0 1 0 -8.2 0M349.4 471.2m-4.1 0a4.1 4.1 0 1 0 8.2 0a4.1 4.1 0 1 0 -8.2 0M350.7 468.9m-4.1 0a4.1 4.1 0 1 0 8.2 0a4.1 4.1 0 1 0 -8.2 0M352.1 468.7m-4.1 0a4.1 4.1 0 1 0 8.2 0a4.1 4.1 0 1 0 -8.2 0M353.4 466.6m-4.1 0a4.1 4.1 0 1 0 8.2 0a4.1 4.1 0 1 0 -8.2 0M354.7 466.7m-4.1 0a4.1 4.1 0 1 0 8.2 0a4.1 4.1 0 1 0 -8.2 0M356.1 465.3m-4.1 0a4.1 4.1 0 1 0 8.2 0a4.1 4.1 0 1 0 -8.2 0M357.4 470.5m-4.1 0a4.1 4.1 0 1 0 8.2 0a4.1 4.1 0 1 0 -8.2 0M358.7 466.4m-4.1 0a4.1 4.1 0 1 0 8.2 0a4.1 4.1 0 1 0 -8.2 0M360 468.3m-4.1 0a4.1 4.1 0 1 0 8.2 0a4.1 4.1 0 1 0 -8.2 0M361.4 468.9m-4.1 0a4.1 4.1 0 1 0 8.2 0a4.1 4.1 0 1 0 -8.2 0M362.7 466.8m-4.1 0a4.1 4.1 0 1 0 8.2 0a4.1 4.1 0 1 0 -8.2 0M364 469.4m-4.1 0a4.1 4.1 0 1 0 8.2 0a4.1 4.1 0 1 0 -8.2 0M365.4 471.5m-4.1 0a4.1 4.1 0 1 0 8.2 0a4.1 4.1 0 1 0 -8.2 0M366.7 468.5m-4.1 0a4.1 4.1 0 1 0 8.2 0a4.1 4.1 0 1 0 -8.2 0M368 470.5m-4.1 0a4.1 4.1 0 1 0 8.2 0a4.1 4.1 0 1 0 -8.2 0M369.4 469m-4.1 0a4.1 4.1 0 1 0 8.2 0a4.1 4.1 0 1 0 -8.2 0M370.7 467.2m-4.1 0a4.1 4.1 0 1 0 8.2 0a4.1 4.1 0 1 0 -8.2 0M372 467.3m-4.1 0a4.1 4.1 0 1 0 8.2 0a4.1 4.1 0 1 0 -8.2 0M373.4 465.1m-4.1 0a4.1 4.1 0 1 0 8.2 0a4.1 4.1 0 1 0 -8.2 0M374.7 468.2m-4.1 0a4.1 4.1 0 1 0 8.2 0a4.1 4.1 0 1 0 -8.2 0M376 470.6m-4.1 0a4.1 4.1 0 1 0 8.2 0a4.1 4.1 0 1 0 -8.2 0M377.4 469.2m-4.1 0a4.1 4.1 0 1 0 8.2 0a4.1 4.1 0 1 0 -8.2 0M378.7 469.5m-4.1 0a4.1 4.1 0 1 0 8.2 0a4.1 4.1 0 1 0 -8.2 0M380 470.1m-4.1 0a4.1 4.1 0 1 0 8.2 0a4.1 4.1 0 1 0 -8.2 0M381.4 467.2m-4.1 0a4.1 4.1 0 1 0 8.2 0a4.1 4.1 0 1 0 -8.2 0M382.7 469.1m-4.1 0a4.1 4.1 0 1 0 8.2 0a4.1 4.1 0 1 0 -8.2 0M384 471.4m-4.1 0a4.1 4.1 0 1 0 8.2 0a4.1 4.1 0 1 0 -8.2 0M385.4 466.7m-4.1 0a4.1 4.1 0 1 0 8.2 0a4.1 4.1 0 1 0 -8.2 0M386.7 468.2m-4.1 0a4.1 4.1 0 1 0 8.2 0a4.1 4.1 0 1 0 -8.2 0M388 467.4m-4.1 0a4.1 4.1 0 1 0 8.2 0a4.1 4.1 0 1 0 -8.2 0M389.4 467.8m-4.1 0a4.1 4.1 0 1 0 8.2 0a4.1 4.1 0 1 0 -8.2 0M390.7 466.9m-4.1 0a4.1 4.1 0 1 0 8.2 0a4.1 4.1 0 1 0 -8.2 0M392 468m-4.1 0a4.1 4.1 0 1 0 8.2 0a4.1 4.1 0 1 0 -8.2 0M393.4 465.9m-4.1 0a4.1 4.1 0 1 0 8.2 0a4.1 4.1 0 1 0 -8.2 0M394.7 467.3m-4.1 0a4.1 4.1 0 1 0 8.2 0a4.1 4.1 0 1 0 -8.2 0M396 467.4m-4.1 0a4.1 4.1 0 1 0 8.2 0a4.1 4.1 0 1 0 -8.2 0M397.4 467.4m-4.1 0a4.1 4.1 0 1 0 8.2 0a4.1 4.1 0 1 0 -8.2 0M398.7 470.7m-4.1 0a4.1 4.1 0 1 0 8.2 0a4.1 4.1 0 1 0 -8.2 0M400 468.4m-4.1 0a4.1 4.1 0 1 0 8.2 0a4.1 4.1 0 1 0 -8.2 0M401.3 468.6m-4.1 0a4.1 4.1 0 1 0 8.2 0a4.1 4.1 0 1 0 -8.2 0M402.7 467.8m-4.1 0a4.1 4.1 0 1 0 8.2 0a4.1 4.1 0 1 0 -8.2 0M404 470.5m-4.1 0a4.1 4.1 0 1 0 8.2 0a4.1 4.1 0 1 0 -8.2 0M405.3 465.3m-4.1 0a4.1 4.1 0 1 0 8.2 0a4.1 4.1 0 1 0 -8.2 0M406.7 468m-4.1 0a4.1 4.1 0 1 0 8.2 0a4.1 4.1 0 1 0 -8.2 0M408 470.3m-4.1 0a4.1 4.1 0 1 0 8.2 0a4.1 4.1 0 1 0 -8.2 0M409.3 471.2m-4.1 0a4.1 4.1 0 1 0 8.2 0a4.1 4.1 0 1 0 -8.2 0M410.7 468.7m-4.1 0a4.1 4.1 0 1 0 8.2 0a4.1 4.1 0 1 0 -8.2 0M412 468.3m-4.1 0a4.1 4.1 0 1 0 8.2 0a4.1 4.1 0 1 0 -8.2 0M413.3 469.5m-4.1 0a4.1 4.1 0 1 0 8.2 0a4.1 4.1 0 1 0 -8.2 0M414.7 468m-4.1 0a4.1 4.1 0 1 0 8.2 0a4.1 4.1 0 1 0 -8.2 0M416 469.3m-4.1 0a4.1 4.1 0 1 0 8.2 0a4.1 4.1 0 1 0 -8.2 0M417.3 467.2m-4.1 0a4.1 4.1 0 1 0 8.2 0a4.1 4.1 0 1 0 -8.2 0M418.7 469.5m-4.1 0a4.1 4.1 0 1 0 8.2 0a4.1 4.1 0 1 0 -8.2 0M420 468.3m-4.1 0a4.1 4.1 0 1 0 8.2 0a4.1 4.1 0 1 0 -8.2 0M421.3 466.5m-4.1 0a4.1 4.1 0 1 0 8.2 0a4.1 4.1 0 1 0 -8.2 0M422.7 463.7m-4.1 0a4.1 4.1 0 1 0 8.2 0a4.1 4.1 0 1 0 -8.2 0M424 470m-4.1 0a4.1 4.1 0 1 0 8.2 0a4.1 4.1 0 1 0 -8.2 0M425.3 469m-4.1 0a4.1 4.1 0 1 0 8.2 0a4.1 4.1 0 1 0 -8.2 0M426.7 469.7m-4.1 0a4.1 4.1 0 1 0 8.2 0a4.1 4.1 0 1 0 -8.2 0M428 466.8m-4.1 0a4.1 4.1 0 1 0 8.2 0a4.1 4.1 0 1 0 -8.2 0M429.3 470.3m-4.1 0a4.1 4.1 0 1 0 8.2 0a4.1 4.1 0 1 0 -8.2 0M430.7 469.1m-4.1 0a4.1 4.1 0 1 0 8.2 0a4.1 4.1 0 1 0 -8.2 0M432 468.3m-4.1 0a4.1 4.1 0 1 0 8.2 0a4.1 4.1 0 1 0 -8.2 0M433.3 470m-4.1 0a4.1 4.1 0 1 0 8.2 0a4.1 4.1 0 1 0 -8.2 0M434.7 469.9m-4.1 0a4.1 4.1 0 1 0 8.2 0a4.1 4.1 0 1 0 -8.2 0M436 469.1m-4.1 0a4.1 4.1 0 1 0 8.2 0a4.1 4.1 0 1 0 -8.2 0M437.3 472m-4.1 0a4.1 4.1 0 1 0 8.2 0a4.1 4.1 0 1 0 -8.2 0M438.7 470.8m-4.1 0a4.1 4.1 0 1 0 8.2 0a4.1 4.1 0 1 0 -8.2 0M440 469m-4.1 0a4.1 4.1 0 1 0 8.2 0a4.1 4.1 0 1 0 -8.2 0M441.3 468m-4.1 0a4.1 4.1 0 1 0 8.2 0a4.1 4.1 0 1 0 -8.2 0M442.7 468.6m-4.1 0a4.1 4.1 0 1 0 8.2 0a4.1 4.1 0 1 0 -8.2 0M444 471.4m-4.1 0a4.1 4.1 0 1 0 8.2 0a4.1 4.1 0 1 0 -8.2 0M445.3 469.1m-4.1 0a4.1 4.1 0 1 0 8.2 0a4.1 4.1 0 1 0 -8.2 0M446.6 466.9m-4.1 0a4.1 4.1 0 1 0 8.2 0a4.1 4.1 0 1 0 -8.2 0M448 467.3m-4.1 0a4.1 4.1 0 1 0 8.2 0a4.1 4.1 0 1 0 -8.2 0M449.3 468.4m-4.1 0a4.1 4.1 0 1 0 8.2 0a4.1 4.1 0 1 0 -8.2 0M450.6 469.8m-4.1 0a4.1 4.1 0 1 0 8.2 0a4.1 4.1 0 1 0 -8.2 0M452 467.2m-4.1 0a4.1 4.1 0 1 0 8.2 0a4.1 4.1 0 1 0 -8.2 0M453.3 469.3m-4.1 0a4.1 4.1 0 1 0 8.2 0a4.1 4.1 0 1 0 -8.2 0M454.6 470.3m-4.1 0a4.1 4.1 0 1 0 8.2 0a4.1 4.1 0 1 0 -8.2 0M456 469.7m-4.1 0a4.1 4.1 0 1 0 8.2 0a4.1 4.1 0 1 0 -8.2 0M457.3 465.7m-4.1 0a4.1 4.1 0 1 0 8.2 0a4.1 4.1 0 1 0 -8.2 0M458.6 467.9m-4.1 0a4.1 4.1 0 1 0 8.2 0a4.1 4.1 0 1 0 -8.2 0M460 466.2m-4.1 0a4.1 4.1 0 1 0 8.2 0a4.1 4.1 0 1 0 -8.2 0M461.3 469.1m-4.1 0a4.1 4.1 0 1 0 8.2 0a4.1 4.1 0 1 0 -8.2 0M462.6 466.6m-4.1 0a4.1 4.1 0 1 0 8.2 0a4.1 4.1 0 1 0 -8.2 0M464 469.4m-4.1 0a4.1 4.1 0 1 0 8.2 0a4.1 4.1 0 1 0 -8.2 0M465.3 468.6m-4.1 0a4.1 4.1 0 1 0 8.2 0a4.1 4.1 0 1 0 -8.2 0M466.6 463.9m-4.1 0a4.1 4.1 0 1 0 8.2 0a4.1 4.1 0 1 0 -8.2 0M468 466.9m-4.1 0a4.1 4.1 0 1 0 8.2 0a4.1 4.1 0 1 0 -8.2 0M469.3 469.2m-4.1 0a4.1 4.1 0 1 0 8.2 0a4.1 4.1 0 1 0 -8.2 0M470.6 468.4m-4.1 0a4.1 4.1 0 1 0 8.2 0a4.1 4.1 0 1 0 -8.2 0M472 467.7m-4.1 0a4.1 4.1 0 1 0 8.2 0a4.1 4.1 0 1 0 -8.2 0M473.3 466.2m-4.1 0a4.1 4.1 0 1 0 8.2 0a4.1 4.1 0 1 0 -8.2 0M474.6 469.2m-4.1 0a4.1 4.1 0 1 0 8.2 0a4.1 4.1 0 1 0 -8.2 0M476 471.4m-4.1 0a4.1 4.1 0 1 0 8.2 0a4.1 4.1 0 1 0 -8.2 0M477.3 468.8m-4.1 0a4.1 4.1 0 1 0 8.2 0a4.1 4.1 0 1 0 -8.2 0" fill="#0a86f0"/><path d="M226.8 443.5V503.5M223.8 443.5h6M223.8 503.5h6" stroke="#5aaaf0" stroke-width="1"/><circle cx="226.8" cy="460.4" r="4.3" fill="#0a86f0"/><circle cx="226.8" cy="490" r="4.3" fill="#0a86f0"/><path d="M124.2 547.2V555M122.2 547.2h4M122.2 555h4M125.6 544.6V552.4M123.6 544.6h4M123.6 552.4h4M126.9 544.7V552.5M124.9 544.7h4M124.9 552.5h4M128.2 548.3V556.1M126.2 548.3h4M126.2 556.1h4M129.6 546.2V554.1M127.6 546.2h4M127.6 554.1h4M130.9 547V554.8M128.9 547h4M128.9 554.8h4M132.2 546.6V554.5M130.2 546.6h4M130.2 554.5h4M133.6 543.7V551.5M131.6 543.7h4M131.6 551.5h4M134.9 548.3V556.1M132.9 548.3h4M132.9 556.1h4M136.2 543.6V551.4M134.2 543.6h4M134.2 551.4h4M137.6 545.1V552.9M135.6 545.1h4M135.6 552.9h4M138.9 542V549.8M136.9 542h4M136.9 549.8h4M140.2 543.7V551.5M138.2 543.7h4M138.2 551.5h4M141.6 544.7V552.5M139.6 544.7h4M139.6 552.5h4M142.9 542.5V550.3M140.9 542.5h4M140.9 550.3h4M144.2 541.1V549M142.2 541.1h4M142.2 549h4M145.5 541.9V549.7M143.5 541.9h4M143.5 549.7h4M146.9 540.5V548.4M144.9 540.5h4M144.9 548.4h4M148.2 541.8V549.6M146.2 541.8h4M146.2 549.6h4M149.5 544.1V551.9M147.5 544.1h4M147.5 551.9h4M150.9 538.1V546M148.9 538.1h4M148.9 546h4M152.2 537.9V545.8M150.2 537.9h4M150.2 545.8h4M153.5 538.3V546.2M151.5 538.3h4M151.5 546.2h4M154.9 537.9V545.8M152.9 537.9h4M152.9 545.8h4M156.2 535.6V543.5M154.2 535.6h4M154.2 543.5h4M157.5 537.7V545.5M155.5 537.7h4M155.5 545.5h4M158.9 537.5V545.4M156.9 537.5h4M156.9 545.4h4M160.2 536V543.8M158.2 536h4M158.2 543.8h4M161.5 532.9V540.8M159.5 532.9h4M159.5 540.8h4M162.9 536.8V544.7M160.9 536.8h4M160.9 544.7h4M164.2 531.6V539.5M162.2 531.6h4M162.2 539.5h4M165.5 534.2V542M163.5 534.2h4M163.5 542h4M166.9 534.3V542.1M164.9 534.3h4M164.9 542.1h4M168.2 529.4V537.3M166.2 529.4h4M166.2 537.3h4M169.5 531.1V539M167.5 531.1h4M167.5 539h4M170.9 532.6V540.4M168.9 532.6h4M168.9 540.4h4M172.2 530.2V538M170.2 530.2h4M170.2 538h4M173.5 527.2V535.1M171.5 527.2h4M171.5 535.1h4M174.9 526.1V533.9M172.9 526.1h4M172.9 533.9h4M176.2 528.3V536.1M174.2 528.3h4M174.2 536.1h4M177.5 526.1V534M175.5 526.1h4M175.5 534h4M178.9 524.9V532.8M176.9 524.9h4M176.9 532.8h4M180.2 526.7V534.5M178.2 526.7h4M178.2 534.5h4M181.5 524.3V532.1M179.5 524.3h4M179.5 532.1h4M182.9 524.3V532.2M180.9 524.3h4M180.9 532.2h4M184.2 524.6V532.4M182.2 524.6h4M182.2 532.4h4M185.5 523.9V531.7M183.5 523.9h4M183.5 531.7h4M186.8 522.2V530.1M184.8 522.2h4M184.8 530.1h4M188.2 521.7V529.5M186.2 521.7h4M186.2 529.5h4M189.5 522.1V529.9M187.5 522.1h4M187.5 529.9h4M190.8 521.2V529M188.8 521.2h4M188.8 529h4M192.2 517.9V525.7M190.2 517.9h4M190.2 525.7h4M193.5 518.9V526.7M191.5 518.9h4M191.5 526.7h4M194.8 517.1V525M192.8 517.1h4M192.8 525h4M196.2 516V523.9M194.2 516h4M194.2 523.9h4M197.5 516.6V524.4M195.5 516.6h4M195.5 524.4h4M198.8 513.1V521M196.8 513.1h4M196.8 521h4M200.2 518.1V526M198.2 518.1h4M198.2 526h4M201.5 514.8V522.7M199.5 514.8h4M199.5 522.7h4M202.8 516.4V524.2M200.8 516.4h4M200.8 524.2h4M204.2 512.1V520M202.2 512.1h4M202.2 520h4M205.5 512V519.9M203.5 512h4M203.5 519.9h4M206.8 518.1V525.9M204.8 518.1h4M204.8 525.9h4M208.2 516V523.8M206.2 516h4M206.2 523.8h4M209.5 512.7V520.5M207.5 512.7h4M207.5 520.5h4M210.8 512.1V520M208.8 512.1h4M208.8 520h4M212.2 511.9V519.7M210.2 511.9h4M210.2 519.7h4M213.5 512.9V520.8M211.5 512.9h4M211.5 520.8h4M214.8 511.7V519.5M212.8 511.7h4M212.8 519.5h4M216.2 511V518.8M214.2 511h4M214.2 518.8h4M217.5 512V519.8M215.5 512h4M215.5 519.8h4M218.8 509.7V517.5M216.8 509.7h4M216.8 517.5h4M220.2 515.2V523M218.2 515.2h4M218.2 523h4M221.5 509.8V517.6M219.5 509.8h4M219.5 517.6h4M222.8 512.4V520.2M220.8 512.4h4M220.8 520.2h4M224.2 508.6V516.4M222.2 508.6h4M222.2 516.4h4M225.5 510.4V518.2M223.5 510.4h4M223.5 518.2h4M226.8 511.2V519.1M224.8 511.2h4M224.8 519.1h4M228.1 508.7V516.6M226.1 508.7h4M226.1 516.6h4M229.5 510.7V518.5M227.5 510.7h4M227.5 518.5h4M230.8 510.4V518.2M228.8 510.4h4M228.8 518.2h4M232.1 511.3V519.1M230.1 511.3h4M230.1 519.1h4M233.5 508.3V516.1M231.5 508.3h4M231.5 516.1h4M234.8 507V514.9M232.8 507h4M232.8 514.9h4M236.1 505.8V513.7M234.1 505.8h4M234.1 513.7h4M237.5 507.6V515.4M235.5 507.6h4M235.5 515.4h4M238.8 505.2V513.1M236.8 505.2h4M236.8 513.1h4M240.1 506.8V514.6M238.1 506.8h4M238.1 514.6h4M241.5 506.7V514.5M239.5 506.7h4M239.5 514.5h4M242.8 505.2V513.1M240.8 505.2h4M240.8 513.1h4M244.1 504.1V512M242.1 504.1h4M242.1 512h4M245.5 506.3V514.2M243.5 506.3h4M243.5 514.2h4M246.8 505.9V513.7M244.8 505.9h4M244.8 513.7h4M248.1 505.5V513.3M246.1 505.5h4M246.1 513.3h4M249.5 504.8V512.6M247.5 504.8h4M247.5 512.6h4M250.8 506.3V514.1M248.8 506.3h4M248.8 514.1h4M252.1 502.6V510.5M250.1 502.6h4M250.1 510.5h4M253.5 504.9V512.8M251.5 504.9h4M251.5 512.8h4M254.8 503.2V511M252.8 503.2h4M252.8 511h4M256.1 505.2V513.1M254.1 505.2h4M254.1 513.1h4M257.5 502.9V510.7M255.5 502.9h4M255.5 510.7h4M258.8 502.6V510.5M256.8 502.6h4M256.8 510.5h4M260.1 503.8V511.7M258.1 503.8h4M258.1 511.7h4M261.5 499.3V507.2M259.5 499.3h4M259.5 507.2h4M262.8 502V509.9M260.8 502h4M260.8 509.9h4M264.1 499.3V507.2M262.1 499.3h4M262.1 507.2h4M265.5 500.6V508.4M263.5 500.6h4M263.5 508.4h4M266.8 503.2V511.1M264.8 503.2h4M264.8 511.1h4M268.1 502.6V510.4M266.1 502.6h4M266.1 510.4h4M269.5 500.9V508.8M267.5 500.9h4M267.5 508.8h4M270.8 501.4V509.2M268.8 501.4h4M268.8 509.2h4M272.1 501.2V509M270.1 501.2h4M270.1 509h4M273.4 501.6V509.4M271.4 501.6h4M271.4 509.4h4M274.8 504.1V511.9M272.8 504.1h4M272.8 511.9h4M276.1 501.1V509M274.1 501.1h4M274.1 509h4M277.4 504.5V512.3M275.4 504.5h4M275.4 512.3h4M278.8 499.7V507.6M276.8 499.7h4M276.8 507.6h4M280.1 501.5V509.3M278.1 501.5h4M278.1 509.3h4M281.4 501.3V509.2M279.4 501.3h4M279.4 509.2h4M282.8 500.3V508.1M280.8 500.3h4M280.8 508.1h4M284.1 499.3V507.1M282.1 499.3h4M282.1 507.1h4M285.4 502.1V510M283.4 502.1h4M283.4 510h4M286.8 502.5V510.4M284.8 502.5h4M284.8 510.4h4M288.1 501.2V509M286.1 501.2h4M286.1 509h4M289.4 502.8V510.6M287.4 502.8h4M287.4 510.6h4M290.8 500.8V508.6M288.8 500.8h4M288.8 508.6h4M292.1 496.2V504M290.1 496.2h4M290.1 504h4M293.4 500.7V508.6M291.4 500.7h4M291.4 508.6h4M294.8 497.6V505.5M292.8 497.6h4M292.8 505.5h4M296.1 501.1V508.9M294.1 501.1h4M294.1 508.9h4M297.4 498V505.9M295.4 498h4M295.4 505.9h4M298.8 499V506.9M296.8 499h4M296.8 506.9h4M300.1 498.5V506.3M298.1 498.5h4M298.1 506.3h4M301.4 497.3V505.2M299.4 497.3h4M299.4 505.2h4M302.8 495.1V503M300.8 495.1h4M300.8 503h4M304.1 497.8V505.7M302.1 497.8h4M302.1 505.7h4M305.4 497.9V505.7M303.4 497.9h4M303.4 505.7h4M306.8 499.7V507.6M304.8 499.7h4M304.8 507.6h4M308.1 496.9V504.7M306.1 496.9h4M306.1 504.7h4M309.4 498.3V506.1M307.4 498.3h4M307.4 506.1h4M310.8 496.3V504.2M308.8 496.3h4M308.8 504.2h4M312.1 497.8V505.6M310.1 497.8h4M310.1 505.6h4M313.4 494.6V502.4M311.4 494.6h4M311.4 502.4h4M314.7 501V508.9M312.7 501h4M312.7 508.9h4M316.1 498V505.8M314.1 498h4M314.1 505.8h4M317.4 495.8V503.7M315.4 495.8h4M315.4 503.7h4M318.7 497.9V505.8M316.7 497.9h4M316.7 505.8h4M320.1 498.6V506.5M318.1 498.6h4M318.1 506.5h4M321.4 497.6V505.4M319.4 497.6h4M319.4 505.4h4M322.7 499.5V507.3M320.7 499.5h4M320.7 507.3h4M324.1 496.7V504.6M322.1 496.7h4M322.1 504.6h4M325.4 492.5V500.4M323.4 492.5h4M323.4 500.4h4M326.7 494.7V502.5M324.7 494.7h4M324.7 502.5h4M328.1 498.6V506.4M326.1 498.6h4M326.1 506.4h4M329.4 498V505.9M327.4 498h4M327.4 505.9h4M330.7 497.1V505M328.7 497.1h4M328.7 505h4M332.1 494.5V502.4M330.1 494.5h4M330.1 502.4h4M333.4 497.6V505.5M331.4 497.6h4M331.4 505.5h4M334.7 497.3V505.1M332.7 497.3h4M332.7 505.1h4M336.1 494.4V502.2M334.1 494.4h4M334.1 502.2h4M337.4 494.3V502.2M335.4 494.3h4M335.4 502.2h4M338.7 496.4V504.3M336.7 496.4h4M336.7 504.3h4M340.1 497.6V505.5M338.1 497.6h4M338.1 505.5h4M341.4 498.3V506.1M339.4 498.3h4M339.4 506.1h4M342.7 496.7V504.5M340.7 496.7h4M340.7 504.5h4M344.1 499.3V507.1M342.1 499.3h4M342.1 507.1h4M345.4 493.9V501.8M343.4 493.9h4M343.4 501.8h4M346.7 496.3V504.1M344.7 496.3h4M344.7 504.1h4M348.1 494.2V502.1M346.1 494.2h4M346.1 502.1h4M349.4 491.7V499.5M347.4 491.7h4M347.4 499.5h4M350.7 492.8V500.6M348.7 492.8h4M348.7 500.6h4M352.1 496.8V504.6M350.1 496.8h4M350.1 504.6h4M353.4 493.1V501M351.4 493.1h4M351.4 501h4M354.7 492.5V500.4M352.7 492.5h4M352.7 500.4h4M356.1 495.8V503.6M354.1 495.8h4M354.1 503.6h4M357.4 496V503.9M355.4 496h4M355.4 503.9h4M358.7 494.4V502.3M356.7 494.4h4M356.7 502.3h4M360 497V504.8M358 497h4M358 504.8h4M361.4 491.4V499.3M359.4 491.4h4M359.4 499.3h4M362.7 498.2V506M360.7 498.2h4M360.7 506h4M364 495.8V503.6M362 495.8h4M362 503.6h4M365.4 494.2V502M363.4 494.2h4M363.4 502h4M366.7 494V501.9M364.7 494h4M364.7 501.9h4M368 493.2V501.1M366 493.2h4M366 501.1h4M369.4 492.9V500.8M367.4 492.9h4M367.4 500.8h4M370.7 493.7V501.5M368.7 493.7h4M368.7 501.5h4M372 491.2V499M370 491.2h4M370 499h4M373.4 496.9V504.7M371.4 496.9h4M371.4 504.7h4M374.7 493V500.8M372.7 493h4M372.7 500.8h4M376 494.1V502M374 494.1h4M374 502h4M377.4 492.5V500.4M375.4 492.5h4M375.4 500.4h4M378.7 492.3V500.1M376.7 492.3h4M376.7 500.1h4M380 494.2V502M378 494.2h4M378 502h4M381.4 493.6V501.5M379.4 493.6h4M379.4 501.5h4M382.7 491V498.8M380.7 491h4M380.7 498.8h4M384 491.7V499.5M382 491.7h4M382 499.5h4M385.4 493.4V501.2M383.4 493.4h4M383.4 501.2h4M386.7 488.5V496.4M384.7 488.5h4M384.7 496.4h4M388 487.9V495.8M386 487.9h4M386 495.8h4M389.4 494.5V502.4M387.4 494.5h4M387.4 502.4h4M390.7 491.3V499.2M388.7 491.3h4M388.7 499.2h4M392 487.3V495.2M390 487.3h4M390 495.2h4M393.4 490.3V498.1M391.4 490.3h4M391.4 498.1h4M394.7 491.2V499.1M392.7 491.2h4M392.7 499.1h4M396 491.9V499.8M394 491.9h4M394 499.8h4M397.4 492.4V500.3M395.4 492.4h4M395.4 500.3h4M398.7 491.8V499.6M396.7 491.8h4M396.7 499.6h4M400 492.3V500.2M398 492.3h4M398 500.2h4M401.3 490V497.8M399.3 490h4M399.3 497.8h4M402.7 491.9V499.8M400.7 491.9h4M400.7 499.8h4M404 491.9V499.8M402 491.9h4M402 499.8h4M405.3 493.2V501.1M403.3 493.2h4M403.3 501.1h4M406.7 491.2V499M404.7 491.2h4M404.7 499h4M408 492.6V500.4M406 492.6h4M406 500.4h4M409.3 491.3V499.2M407.3 491.3h4M407.3 499.2h4M410.7 489.1V497M408.7 489.1h4M408.7 497h4M412 490.3V498.1M410 490.3h4M410 498.1h4M413.3 490V497.9M411.3 490h4M411.3 497.9h4M414.7 490.3V498.1M412.7 490.3h4M412.7 498.1h4M416 490.8V498.6M414 490.8h4M414 498.6h4M417.3 491.1V498.9M415.3 491.1h4M415.3 498.9h4M418.7 491.4V499.2M416.7 491.4h4M416.7 499.2h4M420 489.5V497.3M418 489.5h4M418 497.3h4M421.3 492.8V500.6M419.3 492.8h4M419.3 500.6h4M422.7 488.5V496.3M420.7 488.5h4M420.7 496.3h4M424 490.8V498.6M422 490.8h4M422 498.6h4M425.3 492.1V500M423.3 492.1h4M423.3 500h4M426.7 491.7V499.5M424.7 491.7h4M424.7 499.5h4M428 492V499.9M426 492h4M426 499.9h4M429.3 490.5V498.4M427.3 490.5h4M427.3 498.4h4M430.7 492.1V499.9M428.7 492.1h4M428.7 499.9h4M432 488.8V496.6M430 488.8h4M430 496.6h4M433.3 492.2V500M431.3 492.2h4M431.3 500h4M434.7 494.8V502.7M432.7 494.8h4M432.7 502.7h4M436 492.1V499.9M434 492.1h4M434 499.9h4M437.3 494.3V502.2M435.3 494.3h4M435.3 502.2h4M438.7 490.9V498.7M436.7 490.9h4M436.7 498.7h4M440 488.9V496.8M438 488.9h4M438 496.8h4M441.3 489.6V497.5M439.3 489.6h4M439.3 497.5h4M442.7 493.1V501M440.7 493.1h4M440.7 501h4M444 492.1V500M442 492.1h4M442 500h4M445.3 487.6V495.5M443.3 487.6h4M443.3 495.5h4M446.6 490.2V498.1M444.6 490.2h4M444.6 498.1h4M448 490.8V498.6M446 490.8h4M446 498.6h4M449.3 488.9V496.8M447.3 488.9h4M447.3 496.8h4M450.6 486.4V494.3M448.6 486.4h4M448.6 494.3h4M452 488.5V496.3M450 488.5h4M450 496.3h4M453.3 490.5V498.4M451.3 490.5h4M451.3 498.4h4M454.6 490.1V498M452.6 490.1h4M452.6 498h4M456 489.7V497.5M454 489.7h4M454 497.5h4M457.3 491.8V499.7M455.3 491.8h4M455.3 499.7h4M458.6 492.6V500.5M456.6 492.6h4M456.6 500.5h4M460 490.7V498.5M458 490.7h4M458 498.5h4M461.3 492.4V500.3M459.3 492.4h4M459.3 500.3h4M462.6 490.9V498.7M460.6 490.9h4M460.6 498.7h4M464 490.6V498.4M462 490.6h4M462 498.4h4M465.3 486.6V494.5M463.3 486.6h4M463.3 494.5h4M466.6 492.3V500.1M464.6 492.3h4M464.6 500.1h4M468 491V498.8M466 491h4M466 498.8h4M469.3 491V498.9M467.3 491h4M467.3 498.9h4M470.6 490V497.8M468.6 490h4M468.6 497.8h4M472 488.9V496.7M470 488.9h4M470 496.7h4M473.3 491.6V499.5M471.3 491.6h4M471.3 499.5h4M474.6 492.2V500M472.6 492.2h4M472.6 500h4M476 493.6V501.5M474 493.6h4M474 501.5h4M477.3 492.4V500.2M475.3 492.4h4M475.3 500.2h4" stroke="#5050c0" stroke-width="0.6" fill="none"/><path d="M84.3 830.4L85.6 759.8L86.9 721.6L88.3 697.1L89.6 677.5L90.9 663.3L92.3 654L93.6 645.1L94.9 636.3L96.3 627.1L97.6 617.8L98.9 609.8L100.2 603.4L101.6 597.6L102.9 592.4L104.2 587.7L105.6 583.5L106.9 579.4L108.2 575.7L109.6 572.2L110.9 569.1L112.2 566.3L113.6 563.8L114.9 561.5L116.2 559.5L117.6 557.9L118.9 555.3L120.2 557.2L121.6 554L122.9 555.5L124.2 551.1L125.6 548.5L126.9 548.6L128.2 552.2L129.6 550.1L130.9 550.9L132.2 550.6L133.6 547.6L134.9 552.2L136.2 547.5L137.6 549L138.9 545.9L140.2 547.6L141.6 548.6L142.9 546.4L144.2 545.1L145.5 545.8L146.9 544.4L148.2 545.7L149.5 548L150.9 542.1L152.2 541.9L153.5 542.3L154.9 541.8L156.2 539.5L157.5 541.6L158.9 541.4L160.2 539.9L161.5 536.9L162.9 540.7L164.2 535.5L165.5 538.1L166.9 538.2L168.2 533.4L169.5 535.1L170.9 536.5L172.2 534.1L173.5 531.2L174.9 530L176.2 532.2L177.5 530L178.9 528.8L180.2 530.6L181.5 528.2L182.9 528.3L184.2 528.5L185.5 527.8L186.8 526.1L188.2 525.6L189.5 526L190.8 525.1L192.2 521.8L193.5 522.8L194.8 521.1L196.2 519.9L197.5 520.5L198.8 517.1L200.2 522.1L201.5 518.7L202.8 520.3L204.2 516.1L205.5 515.9L206.8 522L208.2 519.9L209.5 516.6L210.8 516L212.2 515.8L213.5 516.9L214.8 515.6L216.2 514.9L217.5 515.9L218.8 513.6L220.2 519.1L221.5 513.7L222.8 516.3L224.2 512.5L225.5 514.3L226.8 515.2L228.1 512.6L229.5 514.6L230.8 514.3L232.1 515.2L233.5 512.2L234.8 511L236.1 509.8L237.5 511.5L238.8 509.1L240.1 510.7L241.5 510.6L242.8 509.2L244.1 508L245.5 510.2L246.8 509.8L248.1 509.4L249.5 508.7L250.8 510.2L252.1 506.6L253.5 508.9L254.8 507.1L256.1 509.1L257.5 506.8L258.8 506.5L260.1 507.8L261.5 503.3L262.8 506L264.1 503.3L265.5 504.5L266.8 507.2L268.1 506.5L269.5 504.8L270.8 505.3L272.1 505.1L273.4 505.5L274.8 508L276.1 505.1L277.4 508.4L278.8 503.6L280.1 505.4L281.4 505.2L282.8 504.2L284.1 503.2L285.4 506L286.8 506.5L288.1 505.1L289.4 506.7L290.8 504.7L292.1 500.1L293.4 504.6L294.8 501.5L296.1 505L297.4 502L298.8 503L300.1 502.4L301.4 501.2L302.8 499.1L304.1 501.7L305.4 501.8L306.8 503.6L308.1 500.8L309.4 502.2L310.8 500.2L312.1 501.7L313.4 498.5L314.7 505L316.1 501.9L317.4 499.8L318.7 501.8L320.1 502.5L321.4 501.5L322.7 503.4L324.1 500.6L325.4 496.4L326.7 498.6L328.1 502.5L329.4 502L330.7 501L332.1 498.4L333.4 501.6L334.7 501.2L336.1 498.3L337.4 498.3L338.7 500.3L340.1 501.5L341.4 502.2L342.7 500.6L344.1 503.2L345.4 497.9L346.7 500.2L348.1 498.1L349.4 495.6L350.7 496.7L352.1 500.7L353.4 497.1L354.7 496.4L356.1 499.7L357.4 500L358.7 498.4L360 500.9L361.4 495.4L362.7 502.1L364 499.7L365.4 498.1L366.7 497.9L368 497.1L369.4 496.8L370.7 497.6L372 495.1L373.4 500.8L374.7 496.9L376 498.1L377.4 496.5L378.7 496.2L380 498.1L381.4 497.5L382.7 494.9L384 495.6L385.4 497.3L386.7 492.4L388 491.9L389.4 498.4L390.7 495.2L392 491.3L393.4 494.2L394.7 495.1L396 495.8L397.4 496.3L398.7 495.7L400 496.2L401.3 493.9L402.7 495.8L404 495.9L405.3 497.2L406.7 495.1L408 496.5L409.3 495.2L410.7 493L412 494.2L413.3 493.9L414.7 494.2L416 494.7L417.3 495L418.7 495.3L420 493.4L421.3 496.7L422.7 492.4L424 494.7L425.3 496.1L426.7 495.6L428 495.9L429.3 494.5L430.7 496L432 492.7L433.3 496.1L434.7 498.7L436 496L437.3 498.3L438.7 494.8L440 492.8L441.3 493.6L442.7 497.1L444 496L445.3 491.6L446.6 494.1L448 494.7L449.3 492.8L450.6 490.4L452 492.4L453.3 494.4L454.6 494.1L456 493.6L457.3 495.8L458.6 496.5L460 494.6L461.3 496.3L462.6 494.8L464 494.5L465.3 490.5L466.6 496.2L468 494.9L469.3 495L470.6 493.9L472 492.8L473.3 495.5L474.6 496.1L476 497.6L477.3 496.3" stroke="#5050c0" stroke-width="1" fill="none"/><path d="M84.3 825l5.2 9h-10.5zM85.6 754.4l5.2 9h-10.5zM86.9 716.2l5.2 9h-10.5zM88.3 691.7l5.2 9h-10.5zM89.6 672.1l5.2 9h-10.5zM90.9 657.9l5.2 9h-10.5zM92.3 648.6l5.2 9h-10.5zM93.6 639.7l5.2 9h-10.5zM94.9 630.9l5.2 9h-10.5zM96.3 621.7l5.2 9h-10.5zM97.6 612.4l5.2 9h-10.5zM98.9 604.4l5.2 9h-10.5zM100.2 598l5.2 9h-10.5zM101.6 592.2l5.2 9h-10.5zM102.9 587l5.2 9h-10.5zM104.2 582.3l5.2 9h-10.5zM105.6 578.1l5.2 9h-10.5zM106.9 574l5.2 9h-10.5zM108.2 570.3l5.2 9h-10.5zM109.6 566.8l5.2 9h-10.5zM110.9 563.7l5.2 9h-10.5zM112.2 560.9l5.2 9h-10.5zM113.6 558.4l5.2 9h-10.5zM114.9 556.1l5.2 9h-10.5zM116.2 554.1l5.2 9h-10.5zM117.6 552.5l5.2 9h-10.5zM118.9 549.9l5.2 9h-10.5zM120.2 551.8l5.2 9h-10.5zM121.6 548.6l5.2 9h-10.5zM122.9 550.1l5.2 9h-10.5zM124.2 545.7l5.2 9h-10.5zM125.6 543.1l5.2 9h-10.5zM126.9 543.2l5.2 9h-10.5zM128.2 546.8l5.2 9h-10.5zM129.6 544.7l5.2 9h-10.5zM130.9 545.5l5.2 9h-10.5zM132.2 545.2l5.2 9h-10.5zM133.6 542.2l5.2 9h-10.5zM134.9 546.8l5.2 9h-10.5zM136.2 542.1l5.2 9h-10.5zM137.6 543.6l5.2 9h-10.5zM138.9 540.5l5.2 9h-10.5zM140.2 542.2l5.2 9h-10.5zM141.6 543.2l5.2 9h-10.5zM142.9 541l5.2 9h-10.5zM144.2 539.7l5.2 9h-10.5zM145.5 540.4l5.2 9h-10.5zM146.9 539l5.2 9h-10.5zM148.2 540.3l5.2 9h-10.5zM149.5 542.6l5.2 9h-10.5zM150.9 536.7l5.2 9h-10.5zM152.2 536.5l5.2 9h-10.5zM153.5 536.9l5.2 9h-10.5zM154.9 536.4l5.2 9h-10.5zM156.2 534.1l5.2 9h-10.5zM157.5 536.2l5.2 9h-10.5zM158.9 536l5.2 9h-10.5zM160.2 534.5l5.2 9h-10.5zM161.5 531.5l5.2 9h-10.5zM162.9 535.3l5.2 9h-10.5zM164.2 530.1l5.2 9h-10.5zM165.5 532.7l5.2 9h-10.5zM166.9 532.8l5.2 9h-10.5zM168.2 528l5.2 9h-10.5zM169.5 529.7l5.2 9h-10.5zM170.9 531.1l5.2 9h-10.5zM172.2 528.7l5.2 9h-10.5zM173.5 525.8l5.2 9h-10.5zM174.9 524.6l5.2 9h-10.5zM176.2 526.8l5.2 9h-10.5zM177.5 524.6l5.2 9h-10.5zM178.9 523.4l5.2 9h-10.5zM180.2 525.2l5.2 9h-10.5zM181.5 522.8l5.2 9h-10.5zM182.9 522.9l5.2 9h-10.5zM184.2 523.1l5.2 9h-10.5zM185.5 522.4l5.2 9h-10.5zM186.8 520.7l5.2 9h-10.5zM188.2 520.2l5.2 9h-10.5zM189.5 520.6l5.2 9h-10.5zM190.8 519.7l5.2 9h-10.5zM192.2 516.4l5.2 9h-10.5zM193.5 517.4l5.2 9h-10.5zM194.8 515.7l5.2 9h-10.5zM196.2 514.5l5.2 9h-10.5zM197.5 515.1l5.2 9h-10.5zM198.8 511.7l5.2 9h-10.5zM200.2 516.7l5.2 9h-10.5zM201.5 513.3l5.2 9h-10.5zM202.8 514.9l5.2 9h-10.5zM204.2 510.7l5.2 9h-10.5zM205.5 510.5l5.2 9h-10.5zM206.8 516.6l5.2 9h-10.5zM208.2 514.5l5.2 9h-10.5zM209.5 511.2l5.2 9h-10.5zM210.8 510.6l5.2 9h-10.5zM212.2 510.4l5.2 9h-10.5zM213.5 511.5l5.2 9h-10.5zM214.8 510.2l5.2 9h-10.5zM216.2 509.5l5.2 9h-10.5zM217.5 510.5l5.2 9h-10.5zM218.8 508.2l5.2 9h-10.5zM220.2 513.7l5.2 9h-10.5zM221.5 508.3l5.2 9h-10.5zM222.8 510.9l5.2 9h-10.5zM224.2 507.1l5.2 9h-10.5zM225.5 508.9l5.2 9h-10.5zM226.8 509.8l5.2 9h-10.5zM228.1 507.2l5.2 9h-10.5zM229.5 509.2l5.2 9h-10.5zM230.8 508.9l5.2 9h-10.5zM232.1 509.8l5.2 9h-10.5zM233.5 506.8l5.2 9h-10.5zM234.8 505.6l5.2 9h-10.5zM236.1 504.4l5.2 9h-10.5zM237.5 506.1l5.2 9h-10.5zM238.8 503.7l5.2 9h-10.5zM240.1 505.3l5.2 9h-10.5zM241.5 505.2l5.2 9h-10.5zM242.8 503.8l5.2 9h-10.5zM244.1 502.6l5.2 9h-10.5zM245.5 504.8l5.2 9h-10.5zM246.8 504.4l5.2 9h-10.5zM248.1 504l5.2 9h-10.5zM249.5 503.3l5.2 9h-10.5zM250.8 504.8l5.2 9h-10.5zM252.1 501.2l5.2 9h-10.5zM253.5 503.5l5.2 9h-10.5zM254.8 501.7l5.2 9h-10.5zM256.1 503.7l5.2 9h-10.5zM257.5 501.4l5.2 9h-10.5zM258.8 501.1l5.2 9h-10.5zM260.1 502.4l5.2 9h-10.5zM261.5 497.9l5.2 9h-10.5zM262.8 500.6l5.2 9h-10.5zM264.1 497.9l5.2 9h-10.5zM265.5 499.1l5.2 9h-10.5zM266.8 501.8l5.2 9h-10.5zM268.1 501.1l5.2 9h-10.5zM269.5 499.4l5.2 9h-10.5zM270.8 499.9l5.2 9h-10.5zM272.1 499.7l5.2 9h-10.5zM273.4 500.1l5.2 9h-10.5zM274.8 502.6l5.2 9h-10.5zM276.1 499.7l5.2 9h-10.5zM277.4 503l5.2 9h-10.5zM278.8 498.2l5.2 9h-10.5zM280.1 500l5.2 9h-10.5zM281.4 499.8l5.2 9h-10.5zM282.8 498.8l5.2 9h-10.5zM284.1 497.8l5.2 9h-10.5zM285.4 500.6l5.2 9h-10.5zM286.8 501.1l5.2 9h-10.5zM288.1 499.7l5.2 9h-10.5zM289.4 501.3l5.2 9h-10.5zM290.8 499.3l5.2 9h-10.5zM292.1 494.7l5.2 9h-10.5zM293.4 499.2l5.2 9h-10.5zM294.8 496.1l5.2 9h-10.5zM296.1 499.6l5.2 9h-10.5zM297.4 496.6l5.2 9h-10.5zM298.8 497.6l5.2 9h-10.5zM300.1 497l5.2 9h-10.5zM301.4 495.8l5.2 9h-10.5zM302.8 493.7l5.2 9h-10.5zM304.1 496.3l5.2 9h-10.5zM305.4 496.4l5.2 9h-10.5zM306.8 498.2l5.2 9h-10.5zM308.1 495.4l5.2 9h-10.5zM309.4 496.8l5.2 9h-10.5zM310.8 494.8l5.2 9h-10.5zM312.1 496.3l5.2 9h-10.5zM313.4 493.1l5.2 9h-10.5zM314.7 499.6l5.2 9h-10.5zM316.1 496.5l5.2 9h-10.5zM317.4 494.4l5.2 9h-10.5zM318.7 496.4l5.2 9h-10.5zM320.1 497.1l5.2 9h-10.5zM321.4 496.1l5.2 9h-10.5zM322.7 498l5.2 9h-10.5zM324.1 495.2l5.2 9h-10.5zM325.4 491l5.2 9h-10.5zM326.7 493.2l5.2 9h-10.5zM328.1 497.1l5.2 9h-10.5zM329.4 496.6l5.2 9h-10.5zM330.7 495.6l5.2 9h-10.5zM332.1 493l5.2 9h-10.5zM333.4 496.2l5.2 9h-10.5zM334.7 495.8l5.2 9h-10.5zM336.1 492.9l5.2 9h-10.5zM337.4 492.9l5.2 9h-10.5zM338.7 494.9l5.2 9h-10.5zM340.1 496.1l5.2 9h-10.5zM341.4 496.8l5.2 9h-10.5zM342.7 495.2l5.2 9h-10.5zM344.1 497.8l5.2 9h-10.5zM345.4 492.5l5.2 9h-10.5zM346.7 494.8l5.2 9h-10.5zM348.1 492.7l5.2 9h-10.5zM349.4 490.2l5.2 9h-10.5zM350.7 491.3l5.2 9h-10.5zM352.1 495.3l5.2 9h-10.5zM353.4 491.7l5.2 9h-10.5zM354.7 491l5.2 9h-10.5zM356.1 494.3l5.2 9h-10.5zM357.4 494.6l5.2 9h-10.5zM358.7 493l5.2 9h-10.5zM360 495.5l5.2 9h-10.5zM361.4 490l5.2 9h-10.5zM362.7 496.7l5.2 9h-10.5zM364 494.3l5.2 9h-10.5zM365.4 492.7l5.2 9h-10.5zM366.7 492.5l5.2 9h-10.5zM368 491.7l5.2 9h-10.5zM369.4 491.4l5.2 9h-10.5zM370.7 492.2l5.2 9h-10.5zM372 489.7l5.2 9h-10.5zM373.4 495.4l5.2 9h-10.5zM374.7 491.5l5.2 9h-10.5zM376 492.7l5.2 9h-10.5zM377.4 491.1l5.2 9h-10.5zM378.7 490.8l5.2 9h-10.5zM380 492.7l5.2 9h-10.5zM381.4 492.1l5.2 9h-10.5zM382.7 489.5l5.2 9h-10.5zM384 490.2l5.2 9h-10.5zM385.4 491.9l5.2 9h-10.5zM386.7 487l5.2 9h-10.5zM388 486.5l5.2 9h-10.5zM389.4 493l5.2 9h-10.5zM390.7 489.8l5.2 9h-10.5zM392 485.9l5.2 9h-10.5zM393.4 488.8l5.2 9h-10.5zM394.7 489.7l5.2 9h-10.5zM396 490.4l5.2 9h-10.5zM397.4 490.9l5.2 9h-10.5zM398.7 490.3l5.2 9h-10.5zM400 490.8l5.2 9h-10.5zM401.3 488.5l5.2 9h-10.5zM402.7 490.4l5.2 9h-10.5zM404 490.5l5.2 9h-10.5zM405.3 491.8l5.2 9h-10.5zM406.7 489.7l5.2 9h-10.5zM408 491.1l5.2 9h-10.5zM409.3 489.8l5.2 9h-10.5zM410.7 487.6l5.2 9h-10.5zM412 488.8l5.2 9h-10.5zM413.3 488.5l5.2 9h-10.5zM414.7 488.8l5.2 9h-10.5zM416 489.3l5.2 9h-10.5zM417.3 489.6l5.2 9h-10.5zM418.7 489.9l5.2 9h-10.5zM420 488l5.2 9h-10.5zM421.3 491.3l5.2 9h-10.5zM422.7 487l5.2 9h-10.5zM424 489.3l5.2 9h-10.5zM425.3 490.7l5.2 9h-10.5zM426.7 490.2l5.2 9h-10.5zM428 490.5l5.2 9h-10.5zM429.3 489.1l5.2 9h-10.5zM430.7 490.6l5.2 9h-10.5zM432 487.3l5.2 9h-10.5zM433.3 490.7l5.2 9h-10.5zM434.7 493.3l5.2 9h-10.5zM436 490.6l5.2 9h-10.5zM437.3 492.9l5.2 9h-10.5zM438.7 489.4l5.2 9h-10.5zM440 487.4l5.2 9h-10.5zM441.3 488.2l5.2 9h-10.5zM442.7 491.7l5.2 9h-10.5zM444 490.6l5.2 9h-10.5zM445.3 486.2l5.2 9h-10.5zM446.6 488.7l5.2 9h-10.5zM448 489.3l5.2 9h-10.5zM449.3 487.4l5.2 9h-10.5zM450.6 485l5.2 9h-10.5zM452 487l5.2 9h-10.5zM453.3 489l5.2 9h-10.5zM454.6 488.7l5.2 9h-10.5zM456 488.2l5.2 9h-10.5zM457.3 490.4l5.2 9h-10.5zM458.6 491.1l5.2 9h-10.5zM460 489.2l5.2 9h-10.5zM461.3 490.9l5.2 9h-10.5zM462.6 489.4l5.2 9h-10.5zM464 489.1l5.2 9h-10.5zM465.3 485.1l5.2 9h-10.5zM466.6 490.8l5.2 9h-10.5zM468 489.5l5.2 9h-10.5zM469.3 489.6l5.2 9h-10.5zM470.6 488.5l5.2 9h-10.5zM472 487.4l5.2 9h-10.5zM473.3 490.1l5.2 9h-10.5zM474.6 490.7l5.2 9h-10.5zM476 492.2l5.2 9h-10.5zM477.3 490.9l5.2 9h-10.5z" fill="#0000b4"/><path d="M440 480.1l5.2 9h-10.5zM440 500.1l5.2 9h-10.5z" fill="#0000b4"/><path d="M273.4 540.8V580.4M270.4 540.8h6M270.4 580.4h6" stroke="#333" stroke-width="1"/><path d="M269.9 540h7v7h-7zM269.9 560h7v7h-7z" fill="#000"/></g><text x="83.1" y="449.8" class="pl">b)</text><rect x="297.4" y="700.7" width="177.60000000000002" height="92.29999999999995" fill="#fff" stroke="#000" stroke-width="1.6"/><text x="301.3" y="715.8" class="lg">LNMO/Graphite</text><path d="M303 729.3H339.5" stroke="#5aaaf0" stroke-width="1.2"/><circle cx="320.8" cy="729.3" r="4" fill="#0a86f0"/><text x="345.2" y="734.6" class="lg">+ 5 wt% Li<tspan dy="5" class="sb">2</tspan><tspan dy="-5">C</tspan><tspan dy="5" class="sb">2</tspan><tspan dy="-5">O</tspan><tspan dy="5" class="sb">4</tspan></text><path d="M303 754.5H339.5" stroke="#5050c0" stroke-width="1.2"/><path d="M320.8 750.2l4.6 7.6h-9.2z" fill="#0000b4"/><text x="345.2" y="759.8" class="lg">+ 2.5 wt% Li<tspan dy="5" class="sb">2</tspan><tspan dy="-5">C</tspan><tspan dy="5" class="sb">2</tspan><tspan dy="-5">O</tspan><tspan dy="5" class="sb">4</tspan></text><path d="M303 779.7H339.5" stroke="#606060" stroke-width="1.2"/><rect x="317.3" y="776.2" width="7" height="7" fill="#000"/><text x="345.2" y="785" class="lg">+ 0 wt% Li<tspan dy="5" class="sb">2</tspan><tspan dy="-5">C</tspan><tspan dy="5" class="sb">2</tspan><tspan dy="-5">O</tspan><tspan dy="5" class="sb">4</tspan></text><clipPath id="cc"><rect x="64.7" y="826.8" width="425.6" height="392.70000000000005"/></clipPath><path d="M77.6 826.8v12.3M77.6 1219.5v-12.3M110.9 826.8v6.8M110.9 1219.5v-6.8M144.2 826.8v12.3M144.2 1219.5v-12.3M177.5 826.8v6.8M177.5 1219.5v-6.8M210.8 826.8v12.3M210.8 1219.5v-12.3M244.1 826.8v6.8M244.1 1219.5v-6.8M277.4 826.8v12.3M277.4 1219.5v-12.3M310.8 826.8v6.8M310.8 1219.5v-6.8M344.1 826.8v12.3M344.1 1219.5v-12.3M377.4 826.8v6.8M377.4 1219.5v-6.8M410.7 826.8v12.3M410.7 1219.5v-12.3M444 826.8v6.8M444 1219.5v-6.8M477.3 826.8v12.3M477.3 1219.5v-12.3M64.7 1219.5h12.3M490.3 1219.5h-12.3M64.7 1141h12.3M490.3 1141h-12.3M64.7 1062.4h12.3M490.3 1062.4h-12.3M64.7 983.9h12.3M490.3 983.9h-12.3M64.7 905.3h12.3M490.3 905.3h-12.3M64.7 826.8h12.3M490.3 826.8h-12.3M64.7 1180.2h6.8M490.3 1180.2h-6.8M64.7 1101.7h6.8M490.3 1101.7h-6.8M64.7 1023.1h6.8M490.3 1023.1h-6.8M64.7 944.6h6.8M490.3 944.6h-6.8M64.7 866.1h6.8M490.3 866.1h-6.8" stroke="#000" stroke-width="2.4" fill="none"/><rect x="64.7" y="826.8" width="425.6" height="392.70000000000005" fill="none" stroke="#000" stroke-width="2.5"/><text x="55.6" y="1224.9" text-anchor="end" class="tl">0</text><text x="55.6" y="1146.4" text-anchor="end" class="tl">10</text><text x="55.6" y="1067.8" text-anchor="end" class="tl">20</text><text x="55.6" y="989.3" text-anchor="end" class="tl">30</text><text x="55.6" y="910.7" text-anchor="end" class="tl">40</text><text x="55.6" y="832.2" text-anchor="end" class="tl">50</text><g clip-path="url(#cc)"><path d="M78.9 1184.1V1187.3M76.9 1184.1h4M76.9 1187.3h4M80.3 1177V1180.3M78.3 1177h4M78.3 1180.3h4M81.6 1171.6V1174.8M79.6 1171.6h4M79.6 1174.8h4M82.9 1166.8V1170.1M80.9 1166.8h4M80.9 1170.1h4M84.3 1162.8V1166.2M82.3 1162.8h4M82.3 1166.2h4M85.6 1159.4V1162.8M83.6 1159.4h4M83.6 1162.8h4M86.9 1156.3V1159.7M84.9 1156.3h4M84.9 1159.7h4M88.3 1153.4V1156.9M86.3 1153.4h4M86.3 1156.9h4M89.6 1150.9V1154.4M87.6 1150.9h4M87.6 1154.4h4M90.9 1148.6V1152.2M88.9 1148.6h4M88.9 1152.2h4M92.3 1146.5V1150.1M90.3 1146.5h4M90.3 1150.1h4M93.6 1144.6V1148.3M91.6 1144.6h4M91.6 1148.3h4M94.9 1142.8V1146.5M92.9 1142.8h4M92.9 1146.5h4M96.3 1141.2V1144.9M94.3 1141.2h4M94.3 1144.9h4M97.6 1139.6V1143.4M95.6 1139.6h4M95.6 1143.4h4M98.9 1138.1V1141.9M96.9 1138.1h4M96.9 1141.9h4M100.2 1136.7V1140.5M98.2 1136.7h4M98.2 1140.5h4M101.6 1135.3V1139.2M99.6 1135.3h4M99.6 1139.2h4M102.9 1134V1137.9M100.9 1134h4M100.9 1137.9h4M104.2 1132.7V1136.7M102.2 1132.7h4M102.2 1136.7h4M105.6 1131.5V1135.5M103.6 1131.5h4M103.6 1135.5h4M106.9 1130.3V1134.4M104.9 1130.3h4M104.9 1134.4h4M108.2 1129.2V1133.3M106.2 1129.2h4M106.2 1133.3h4M109.6 1128.1V1132.3M107.6 1128.1h4M107.6 1132.3h4M110.9 1127.1V1131.3M108.9 1127.1h4M108.9 1131.3h4M112.2 1126.1V1130.3M110.2 1126.1h4M110.2 1130.3h4M113.6 1125.1V1129.4M111.6 1125.1h4M111.6 1129.4h4M114.9 1124.2V1128.5M112.9 1124.2h4M112.9 1128.5h4M116.2 1123.3V1127.6M114.2 1123.3h4M114.2 1127.6h4M117.6 1122.4V1126.8M115.6 1122.4h4M115.6 1126.8h4M118.9 1121.5V1126M116.9 1121.5h4M116.9 1126h4M120.2 1120.7V1125.2M118.2 1120.7h4M118.2 1125.2h4M121.6 1119.9V1124.4M119.6 1119.9h4M119.6 1124.4h4M122.9 1119V1123.6M120.9 1119h4M120.9 1123.6h4M124.2 1118.2V1122.8M122.2 1118.2h4M122.2 1122.8h4M125.6 1117.4V1122.1M123.6 1117.4h4M123.6 1122.1h4M126.9 1116.6V1121.3M124.9 1116.6h4M124.9 1121.3h4M128.2 1115.8V1120.6M126.2 1115.8h4M126.2 1120.6h4M129.6 1115V1119.8M127.6 1115h4M127.6 1119.8h4M130.9 1114.2V1119.1M128.9 1114.2h4M128.9 1119.1h4M132.2 1113.5V1118.4M130.2 1113.5h4M130.2 1118.4h4M133.6 1112.7V1117.6M131.6 1112.7h4M131.6 1117.6h4M134.9 1112V1116.9M132.9 1112h4M132.9 1116.9h4M136.2 1111.2V1116.2M134.2 1111.2h4M134.2 1116.2h4M137.6 1110.5V1115.5M135.6 1110.5h4M135.6 1115.5h4M138.9 1109.8V1114.9M136.9 1109.8h4M136.9 1114.9h4M140.2 1109V1114.2M138.2 1109h4M138.2 1114.2h4M141.6 1108.3V1113.5M139.6 1108.3h4M139.6 1113.5h4M142.9 1107.6V1112.8M140.9 1107.6h4M140.9 1112.8h4M144.2 1106.9V1112.2M142.2 1106.9h4M142.2 1112.2h4M145.5 1106.2V1111.5M143.5 1106.2h4M143.5 1111.5h4M146.9 1105.5V1110.9M144.9 1105.5h4M144.9 1110.9h4M148.2 1104.8V1110.2M146.2 1104.8h4M146.2 1110.2h4M149.5 1104.1V1109.5M147.5 1104.1h4M147.5 1109.5h4M150.9 1103.4V1108.9M148.9 1103.4h4M148.9 1108.9h4M152.2 1102.7V1108.3M150.2 1102.7h4M150.2 1108.3h4M153.5 1102V1107.6M151.5 1102h4M151.5 1107.6h4M154.9 1101.4V1107M152.9 1101.4h4M152.9 1107h4M156.2 1100.7V1106.3M154.2 1100.7h4M154.2 1106.3h4M157.5 1100V1105.7M155.5 1100h4M155.5 1105.7h4M158.9 1099.4V1105.1M156.9 1099.4h4M156.9 1105.1h4M160.2 1098.7V1104.5M158.2 1098.7h4M158.2 1104.5h4M161.5 1098.1V1103.9M159.5 1098.1h4M159.5 1103.9h4M162.9 1097.5V1103.3M160.9 1097.5h4M160.9 1103.3h4M164.2 1096.8V1102.7M162.2 1096.8h4M162.2 1102.7h4M165.5 1096.2V1102.2M163.5 1096.2h4M163.5 1102.2h4M166.9 1095.6V1101.6M164.9 1095.6h4M164.9 1101.6h4M168.2 1095V1101.1M166.2 1095h4M166.2 1101.1h4M169.5 1094.5V1100.5M167.5 1094.5h4M167.5 1100.5h4M170.9 1093.9V1100M168.9 1093.9h4M168.9 1100h4M172.2 1093.4V1099.5M170.2 1093.4h4M170.2 1099.5h4M173.5 1092.8V1099M171.5 1092.8h4M171.5 1099h4M174.9 1092.3V1098.6M172.9 1092.3h4M172.9 1098.6h4M176.2 1091.8V1098.1M174.2 1091.8h4M174.2 1098.1h4M177.5 1091.3V1097.6M175.5 1091.3h4M175.5 1097.6h4M178.9 1090.8V1097.1M176.9 1090.8h4M176.9 1097.1h4M180.2 1090.3V1096.7M178.2 1090.3h4M178.2 1096.7h4M181.5 1089.8V1096.2M179.5 1089.8h4M179.5 1096.2h4M182.9 1089.3V1095.8M180.9 1089.3h4M180.9 1095.8h4M184.2 1088.8V1095.3M182.2 1088.8h4M182.2 1095.3h4M185.5 1088.3V1094.9M183.5 1088.3h4M183.5 1094.9h4M186.8 1087.9V1094.5M184.8 1087.9h4M184.8 1094.5h4M188.2 1087.4V1094.1M186.2 1087.4h4M186.2 1094.1h4M189.5 1087V1093.7M187.5 1087h4M187.5 1093.7h4M190.8 1086.5V1093.3M188.8 1086.5h4M188.8 1093.3h4M192.2 1086.1V1092.9M190.2 1086.1h4M190.2 1092.9h4M193.5 1085.7V1092.5M191.5 1085.7h4M191.5 1092.5h4M194.8 1085.3V1092.1M192.8 1085.3h4M192.8 1092.1h4M196.2 1084.9V1091.8M194.2 1084.9h4M194.2 1091.8h4M197.5 1084.5V1091.4M195.5 1084.5h4M195.5 1091.4h4M198.8 1084.1V1091.1M196.8 1084.1h4M196.8 1091.1h4M200.2 1083.7V1090.7M198.2 1083.7h4M198.2 1090.7h4M201.5 1083.3V1090.4M199.5 1083.3h4M199.5 1090.4h4M202.8 1083V1090.1M200.8 1083h4M200.8 1090.1h4M204.2 1082.6V1089.8M202.2 1082.6h4M202.2 1089.8h4M205.5 1082.2V1089.4M203.5 1082.2h4M203.5 1089.4h4M206.8 1081.9V1089.1M204.8 1081.9h4M204.8 1089.1h4M208.2 1081.5V1088.8M206.2 1081.5h4M206.2 1088.8h4M209.5 1081.2V1088.5M207.5 1081.2h4M207.5 1088.5h4M210.8 1080.8V1088.2M208.8 1080.8h4M208.8 1088.2h4M212.2 1080.5V1087.9M210.2 1080.5h4M210.2 1087.9h4M213.5 1080.2V1087.7M211.5 1080.2h4M211.5 1087.7h4M214.8 1079.9V1087.4M212.8 1079.9h4M212.8 1087.4h4M216.2 1079.5V1087.1M214.2 1079.5h4M214.2 1087.1h4M217.5 1079.2V1086.8M215.5 1079.2h4M215.5 1086.8h4M218.8 1078.9V1086.5M216.8 1078.9h4M216.8 1086.5h4M220.2 1078.6V1086.3M218.2 1078.6h4M218.2 1086.3h4M221.5 1078.3V1086M219.5 1078.3h4M219.5 1086h4M222.8 1078V1085.8M220.8 1078h4M220.8 1085.8h4M224.2 1077.7V1085.5M222.2 1077.7h4M222.2 1085.5h4M225.5 1077.4V1085.2M223.5 1077.4h4M223.5 1085.2h4M226.8 1077.1V1085M224.8 1077.1h4M224.8 1085h4M228.1 1076.8V1084.7M226.1 1076.8h4M226.1 1084.7h4M229.5 1076.5V1084.5M227.5 1076.5h4M227.5 1084.5h4M230.8 1076.2V1084.2M228.8 1076.2h4M228.8 1084.2h4M232.1 1075.9V1084M230.1 1075.9h4M230.1 1084h4M233.5 1075.6V1083.7M231.5 1075.6h4M231.5 1083.7h4M234.8 1075.4V1083.5M232.8 1075.4h4M232.8 1083.5h4M236.1 1075.1V1083.3M234.1 1075.1h4M234.1 1083.3h4M237.5 1074.8V1083.1M235.5 1074.8h4M235.5 1083.1h4M238.8 1074.6V1082.8M236.8 1074.6h4M236.8 1082.8h4M240.1 1074.3V1082.6M238.1 1074.3h4M238.1 1082.6h4M241.5 1074V1082.4M239.5 1074h4M239.5 1082.4h4M242.8 1073.8V1082.2M240.8 1073.8h4M240.8 1082.2h4M244.1 1073.5V1082M242.1 1073.5h4M242.1 1082h4M245.5 1073.3V1081.8M243.5 1073.3h4M243.5 1081.8h4M246.8 1073V1081.5M244.8 1073h4M244.8 1081.5h4M248.1 1072.8V1081.3M246.1 1072.8h4M246.1 1081.3h4M249.5 1072.5V1081.1M247.5 1072.5h4M247.5 1081.1h4M250.8 1072.3V1080.9M248.8 1072.3h4M248.8 1080.9h4M252.1 1072V1080.7M250.1 1072h4M250.1 1080.7h4M253.5 1071.8V1080.5M251.5 1071.8h4M251.5 1080.5h4M254.8 1071.5V1080.3M252.8 1071.5h4M252.8 1080.3h4M256.1 1071.2V1080.1M254.1 1071.2h4M254.1 1080.1h4M257.5 1071V1079.9M255.5 1071h4M255.5 1079.9h4M258.8 1070.7V1079.6M256.8 1070.7h4M256.8 1079.6h4M260.1 1070.5V1079.4M258.1 1070.5h4M258.1 1079.4h4M261.5 1070.2V1079.2M259.5 1070.2h4M259.5 1079.2h4M262.8 1069.9V1079M260.8 1069.9h4M260.8 1079h4M264.1 1069.7V1078.7M262.1 1069.7h4M262.1 1078.7h4M265.5 1069.4V1078.5M263.5 1069.4h4M263.5 1078.5h4M266.8 1069.1V1078.3M264.8 1069.1h4M264.8 1078.3h4M268.1 1068.8V1078M266.1 1068.8h4M266.1 1078h4M269.5 1068.6V1077.8M267.5 1068.6h4M267.5 1077.8h4M270.8 1068.3V1077.6M268.8 1068.3h4M268.8 1077.6h4M272.1 1068V1077.3M270.1 1068h4M270.1 1077.3h4M273.4 1067.7V1077.1M271.4 1067.7h4M271.4 1077.1h4M274.8 1067.4V1076.8M272.8 1067.4h4M272.8 1076.8h4M276.1 1067.1V1076.6M274.1 1067.1h4M274.1 1076.6h4M277.4 1066.9V1076.4M275.4 1066.9h4M275.4 1076.4h4M278.8 1066.6V1076.1M276.8 1066.6h4M276.8 1076.1h4M280.1 1066.3V1075.9M278.1 1066.3h4M278.1 1075.9h4M281.4 1066V1075.6M279.4 1066h4M279.4 1075.6h4M282.8 1065.7V1075.4M280.8 1065.7h4M280.8 1075.4h4M284.1 1065.4V1075.1M282.1 1065.4h4M282.1 1075.1h4M285.4 1065.1V1074.9M283.4 1065.1h4M283.4 1074.9h4M286.8 1064.8V1074.6M284.8 1064.8h4M284.8 1074.6h4M288.1 1064.5V1074.4M286.1 1064.5h4M286.1 1074.4h4M289.4 1064.3V1074.1M287.4 1064.3h4M287.4 1074.1h4M290.8 1064V1073.9M288.8 1064h4M288.8 1073.9h4M292.1 1063.7V1073.6M290.1 1063.7h4M290.1 1073.6h4M293.4 1063.4V1073.4M291.4 1063.4h4M291.4 1073.4h4M294.8 1063.1V1073.1M292.8 1063.1h4M292.8 1073.1h4M296.1 1062.8V1072.9M294.1 1062.8h4M294.1 1072.9h4M297.4 1062.5V1072.6M295.4 1062.5h4M295.4 1072.6h4M298.8 1062.2V1072.4M296.8 1062.2h4M296.8 1072.4h4M300.1 1061.9V1072.1M298.1 1061.9h4M298.1 1072.1h4M301.4 1061.6V1071.9M299.4 1061.6h4M299.4 1071.9h4M302.8 1061.3V1071.7M300.8 1061.3h4M300.8 1071.7h4M304.1 1061.1V1071.4M302.1 1061.1h4M302.1 1071.4h4M305.4 1060.8V1071.2M303.4 1060.8h4M303.4 1071.2h4M306.8 1060.5V1070.9M304.8 1060.5h4M304.8 1070.9h4M308.1 1060.2V1070.7M306.1 1060.2h4M306.1 1070.7h4M309.4 1059.9V1070.4M307.4 1059.9h4M307.4 1070.4h4M310.8 1059.6V1070.2M308.8 1059.6h4M308.8 1070.2h4M312.1 1059.3V1069.9M310.1 1059.3h4M310.1 1069.9h4M313.4 1059V1069.7M311.4 1059h4M311.4 1069.7h4M314.7 1058.8V1069.4M312.7 1058.8h4M312.7 1069.4h4M316.1 1058.5V1069.2M314.1 1058.5h4M314.1 1069.2h4M317.4 1058.2V1069M315.4 1058.2h4M315.4 1069h4M318.7 1057.9V1068.7M316.7 1057.9h4M316.7 1068.7h4M320.1 1057.6V1068.5M318.1 1057.6h4M318.1 1068.5h4M321.4 1057.3V1068.2M319.4 1057.3h4M319.4 1068.2h4M322.7 1057V1068M320.7 1057h4M320.7 1068h4M324.1 1056.7V1067.7M322.1 1056.7h4M322.1 1067.7h4M325.4 1056.4V1067.5M323.4 1056.4h4M323.4 1067.5h4M326.7 1056.1V1067.2M324.7 1056.1h4M324.7 1067.2h4M328.1 1055.8V1067M326.1 1055.8h4M326.1 1067h4M329.4 1055.5V1066.7M327.4 1055.5h4M327.4 1066.7h4M330.7 1055.3V1066.5M328.7 1055.3h4M328.7 1066.5h4M332.1 1055V1066.2M330.1 1055h4M330.1 1066.2h4M333.4 1054.7V1066M331.4 1054.7h4M331.4 1066h4M334.7 1054.4V1065.7M332.7 1054.4h4M332.7 1065.7h4M336.1 1054.1V1065.5M334.1 1054.1h4M334.1 1065.5h4M337.4 1053.8V1065.2M335.4 1053.8h4M335.4 1065.2h4M338.7 1053.5V1065M336.7 1053.5h4M336.7 1065h4M340.1 1053.2V1064.7M338.1 1053.2h4M338.1 1064.7h4M341.4 1053V1064.5M339.4 1053h4M339.4 1064.5h4M342.7 1052.7V1064.3M340.7 1052.7h4M340.7 1064.3h4M344.1 1052.4V1064M342.1 1052.4h4M342.1 1064h4M345.4 1052.1V1063.8M343.4 1052.1h4M343.4 1063.8h4M346.7 1051.8V1063.5M344.7 1051.8h4M344.7 1063.5h4M348.1 1051.6V1063.3M346.1 1051.6h4M346.1 1063.3h4M349.4 1051.3V1063.1M347.4 1051.3h4M347.4 1063.1h4M350.7 1051V1062.9M348.7 1051h4M348.7 1062.9h4M352.1 1050.8V1062.6M350.1 1050.8h4M350.1 1062.6h4M353.4 1050.5V1062.4M351.4 1050.5h4M351.4 1062.4h4M354.7 1050.2V1062.2M352.7 1050.2h4M352.7 1062.2h4M356.1 1050V1062M354.1 1050h4M354.1 1062h4M357.4 1049.7V1061.8M355.4 1049.7h4M355.4 1061.8h4M358.7 1049.5V1061.6M356.7 1049.5h4M356.7 1061.6h4M360 1049.2V1061.3M358 1049.2h4M358 1061.3h4M361.4 1049V1061.1M359.4 1049h4M359.4 1061.1h4M362.7 1048.7V1060.9M360.7 1048.7h4M360.7 1060.9h4M364 1048.5V1060.7M362 1048.5h4M362 1060.7h4M365.4 1048.2V1060.5M363.4 1048.2h4M363.4 1060.5h4M366.7 1048V1060.3M364.7 1048h4M364.7 1060.3h4M368 1047.7V1060.1M366 1047.7h4M366 1060.1h4M369.4 1047.5V1059.9M367.4 1047.5h4M367.4 1059.9h4M370.7 1047.2V1059.7M368.7 1047.2h4M368.7 1059.7h4M372 1047V1059.5M370 1047h4M370 1059.5h4M373.4 1046.7V1059.3M371.4 1046.7h4M371.4 1059.3h4M374.7 1046.5V1059.1M372.7 1046.5h4M372.7 1059.1h4M376 1046.3V1058.9M374 1046.3h4M374 1058.9h4M377.4 1046V1058.7M375.4 1046h4M375.4 1058.7h4M378.7 1045.8V1058.5M376.7 1045.8h4M376.7 1058.5h4M380 1045.6V1058.3M378 1045.6h4M378 1058.3h4M381.4 1045.3V1058.1M379.4 1045.3h4M379.4 1058.1h4M382.7 1045.1V1058M380.7 1045.1h4M380.7 1058h4M384 1044.9V1057.8M382 1044.9h4M382 1057.8h4M385.4 1044.7V1057.6M383.4 1044.7h4M383.4 1057.6h4M386.7 1044.4V1057.4M384.7 1044.4h4M384.7 1057.4h4M388 1044.2V1057.3M386 1044.2h4M386 1057.3h4M389.4 1044V1057.1M387.4 1044h4M387.4 1057.1h4M390.7 1043.8V1056.9M388.7 1043.8h4M388.7 1056.9h4M392 1043.6V1056.7M390 1043.6h4M390 1056.7h4M393.4 1043.4V1056.6M391.4 1043.4h4M391.4 1056.6h4M394.7 1043.2V1056.4M392.7 1043.2h4M392.7 1056.4h4M396 1043V1056.3M394 1043h4M394 1056.3h4M397.4 1042.8V1056.1M395.4 1042.8h4M395.4 1056.1h4M398.7 1042.6V1056M396.7 1042.6h4M396.7 1056h4M400 1042.4V1055.8M398 1042.4h4M398 1055.8h4M401.3 1042.2V1055.7M399.3 1042.2h4M399.3 1055.7h4M402.7 1042.1V1055.5M400.7 1042.1h4M400.7 1055.5h4M404 1041.9V1055.4M402 1041.9h4M402 1055.4h4M405.3 1041.7V1055.3M403.3 1041.7h4M403.3 1055.3h4M406.7 1041.5V1055.1M404.7 1041.5h4M404.7 1055.1h4M408 1041.4V1055M406 1041.4h4M406 1055h4M409.3 1041.2V1054.9M407.3 1041.2h4M407.3 1054.9h4M410.7 1041V1054.8M408.7 1041h4M408.7 1054.8h4M412 1040.8V1054.6M410 1040.8h4M410 1054.6h4M413.3 1040.7V1054.5M411.3 1040.7h4M411.3 1054.5h4M414.7 1040.5V1054.4M412.7 1040.5h4M412.7 1054.4h4M416 1040.4V1054.3M414 1040.4h4M414 1054.3h4M417.3 1040.2V1054.2M415.3 1040.2h4M415.3 1054.2h4M418.7 1040V1054M416.7 1040h4M416.7 1054h4M420 1039.9V1053.9M418 1039.9h4M418 1053.9h4M421.3 1039.7V1053.8M419.3 1039.7h4M419.3 1053.8h4M422.7 1039.6V1053.7M420.7 1039.6h4M420.7 1053.7h4M424 1039.4V1053.6M422 1039.4h4M422 1053.6h4M425.3 1039.3V1053.5M423.3 1039.3h4M423.3 1053.5h4M426.7 1039.1V1053.3M424.7 1039.1h4M424.7 1053.3h4M428 1038.9V1053.2M426 1038.9h4M426 1053.2h4M429.3 1038.8V1053.1M427.3 1038.8h4M427.3 1053.1h4M430.7 1038.6V1053M428.7 1038.6h4M428.7 1053h4M432 1038.5V1052.9M430 1038.5h4M430 1052.9h4M433.3 1038.3V1052.8M431.3 1038.3h4M431.3 1052.8h4M434.7 1038.2V1052.7M432.7 1038.2h4M432.7 1052.7h4M436 1038V1052.6M434 1038h4M434 1052.6h4M437.3 1037.8V1052.4M435.3 1037.8h4M435.3 1052.4h4M438.7 1037.7V1052.3M436.7 1037.7h4M436.7 1052.3h4M440 1037.5V1052.2M438 1037.5h4M438 1052.2h4M441.3 1037.4V1052.1M439.3 1037.4h4M439.3 1052.1h4M442.7 1037.2V1052M440.7 1037.2h4M440.7 1052h4M444 1037.1V1051.9M442 1037.1h4M442 1051.9h4M445.3 1036.9V1051.7M443.3 1036.9h4M443.3 1051.7h4M446.6 1036.7V1051.6M444.6 1036.7h4M444.6 1051.6h4M448 1036.6V1051.5M446 1036.6h4M446 1051.5h4M449.3 1036.4V1051.4M447.3 1036.4h4M447.3 1051.4h4M450.6 1036.3V1051.3M448.6 1036.3h4M448.6 1051.3h4M452 1036.1V1051.2M450 1036.1h4M450 1051.2h4M453.3 1036V1051.1M451.3 1036h4M451.3 1051.1h4M454.6 1035.8V1051M452.6 1035.8h4M452.6 1051h4M456 1035.7V1050.9M454 1035.7h4M454 1050.9h4M457.3 1035.5V1050.7M455.3 1035.5h4M455.3 1050.7h4M458.6 1035.4V1050.6M456.6 1035.4h4M456.6 1050.6h4M460 1035.2V1050.5M458 1035.2h4M458 1050.5h4M461.3 1035.1V1050.4M459.3 1035.1h4M459.3 1050.4h4M462.6 1034.9V1050.3M460.6 1034.9h4M460.6 1050.3h4M464 1034.8V1050.2M462 1034.8h4M462 1050.2h4M465.3 1034.6V1050.1M463.3 1034.6h4M463.3 1050.1h4M466.6 1034.5V1050M464.6 1034.5h4M464.6 1050h4M468 1034.3V1049.9M466 1034.3h4M466 1049.9h4M469.3 1034.2V1049.8M467.3 1034.2h4M467.3 1049.8h4M470.6 1034V1049.7M468.6 1034h4M468.6 1049.7h4M472 1033.9V1049.6M470 1033.9h4M470 1049.6h4M473.3 1033.7V1049.5M471.3 1033.7h4M471.3 1049.5h4M474.6 1033.6V1049.4M472.6 1033.6h4M472.6 1049.4h4M476 1033.4V1049.3M474 1033.4h4M474 1049.3h4M477.3 1033.3V1049.1M475.3 1033.3h4M475.3 1049.1h4" stroke="#3a9cf0" stroke-width="0.8" fill="none"/><path d="M78.9 1185.7m-4.1 0a4.1 4.1 0 1 0 8.2 0a4.1 4.1 0 1 0 -8.2 0M80.3 1178.7m-4.1 0a4.1 4.1 0 1 0 8.2 0a4.1 4.1 0 1 0 -8.2 0M81.6 1173.2m-4.1 0a4.1 4.1 0 1 0 8.2 0a4.1 4.1 0 1 0 -8.2 0M82.9 1168.5m-4.1 0a4.1 4.1 0 1 0 8.2 0a4.1 4.1 0 1 0 -8.2 0M84.3 1164.5m-4.1 0a4.1 4.1 0 1 0 8.2 0a4.1 4.1 0 1 0 -8.2 0M85.6 1161.1m-4.1 0a4.1 4.1 0 1 0 8.2 0a4.1 4.1 0 1 0 -8.2 0M86.9 1158m-4.1 0a4.1 4.1 0 1 0 8.2 0a4.1 4.1 0 1 0 -8.2 0M88.3 1155.2m-4.1 0a4.1 4.1 0 1 0 8.2 0a4.1 4.1 0 1 0 -8.2 0M89.6 1152.6m-4.1 0a4.1 4.1 0 1 0 8.2 0a4.1 4.1 0 1 0 -8.2 0M90.9 1150.4m-4.1 0a4.1 4.1 0 1 0 8.2 0a4.1 4.1 0 1 0 -8.2 0M92.3 1148.3m-4.1 0a4.1 4.1 0 1 0 8.2 0a4.1 4.1 0 1 0 -8.2 0M93.6 1146.4m-4.1 0a4.1 4.1 0 1 0 8.2 0a4.1 4.1 0 1 0 -8.2 0M94.9 1144.7m-4.1 0a4.1 4.1 0 1 0 8.2 0a4.1 4.1 0 1 0 -8.2 0M96.3 1143m-4.1 0a4.1 4.1 0 1 0 8.2 0a4.1 4.1 0 1 0 -8.2 0M97.6 1141.5m-4.1 0a4.1 4.1 0 1 0 8.2 0a4.1 4.1 0 1 0 -8.2 0M98.9 1140m-4.1 0a4.1 4.1 0 1 0 8.2 0a4.1 4.1 0 1 0 -8.2 0M100.2 1138.6m-4.1 0a4.1 4.1 0 1 0 8.2 0a4.1 4.1 0 1 0 -8.2 0M101.6 1137.2m-4.1 0a4.1 4.1 0 1 0 8.2 0a4.1 4.1 0 1 0 -8.2 0M102.9 1135.9m-4.1 0a4.1 4.1 0 1 0 8.2 0a4.1 4.1 0 1 0 -8.2 0M104.2 1134.7m-4.1 0a4.1 4.1 0 1 0 8.2 0a4.1 4.1 0 1 0 -8.2 0M105.6 1133.5m-4.1 0a4.1 4.1 0 1 0 8.2 0a4.1 4.1 0 1 0 -8.2 0M106.9 1132.4m-4.1 0a4.1 4.1 0 1 0 8.2 0a4.1 4.1 0 1 0 -8.2 0M108.2 1131.3m-4.1 0a4.1 4.1 0 1 0 8.2 0a4.1 4.1 0 1 0 -8.2 0M109.6 1130.2m-4.1 0a4.1 4.1 0 1 0 8.2 0a4.1 4.1 0 1 0 -8.2 0M110.9 1129.2m-4.1 0a4.1 4.1 0 1 0 8.2 0a4.1 4.1 0 1 0 -8.2 0M112.2 1128.2m-4.1 0a4.1 4.1 0 1 0 8.2 0a4.1 4.1 0 1 0 -8.2 0M113.6 1127.2m-4.1 0a4.1 4.1 0 1 0 8.2 0a4.1 4.1 0 1 0 -8.2 0M114.9 1126.3m-4.1 0a4.1 4.1 0 1 0 8.2 0a4.1 4.1 0 1 0 -8.2 0M116.2 1125.5m-4.1 0a4.1 4.1 0 1 0 8.2 0a4.1 4.1 0 1 0 -8.2 0M117.6 1124.6m-4.1 0a4.1 4.1 0 1 0 8.2 0a4.1 4.1 0 1 0 -8.2 0M118.9 1123.8m-4.1 0a4.1 4.1 0 1 0 8.2 0a4.1 4.1 0 1 0 -8.2 0M120.2 1122.9m-4.1 0a4.1 4.1 0 1 0 8.2 0a4.1 4.1 0 1 0 -8.2 0M121.6 1122.1m-4.1 0a4.1 4.1 0 1 0 8.2 0a4.1 4.1 0 1 0 -8.2 0M122.9 1121.3m-4.1 0a4.1 4.1 0 1 0 8.2 0a4.1 4.1 0 1 0 -8.2 0M124.2 1120.5m-4.1 0a4.1 4.1 0 1 0 8.2 0a4.1 4.1 0 1 0 -8.2 0M125.6 1119.7m-4.1 0a4.1 4.1 0 1 0 8.2 0a4.1 4.1 0 1 0 -8.2 0M126.9 1119m-4.1 0a4.1 4.1 0 1 0 8.2 0a4.1 4.1 0 1 0 -8.2 0M128.2 1118.2m-4.1 0a4.1 4.1 0 1 0 8.2 0a4.1 4.1 0 1 0 -8.2 0M129.6 1117.4m-4.1 0a4.1 4.1 0 1 0 8.2 0a4.1 4.1 0 1 0 -8.2 0M130.9 1116.7m-4.1 0a4.1 4.1 0 1 0 8.2 0a4.1 4.1 0 1 0 -8.2 0M132.2 1115.9m-4.1 0a4.1 4.1 0 1 0 8.2 0a4.1 4.1 0 1 0 -8.2 0M133.6 1115.2m-4.1 0a4.1 4.1 0 1 0 8.2 0a4.1 4.1 0 1 0 -8.2 0M134.9 1114.5m-4.1 0a4.1 4.1 0 1 0 8.2 0a4.1 4.1 0 1 0 -8.2 0M136.2 1113.7m-4.1 0a4.1 4.1 0 1 0 8.2 0a4.1 4.1 0 1 0 -8.2 0M137.6 1113m-4.1 0a4.1 4.1 0 1 0 8.2 0a4.1 4.1 0 1 0 -8.2 0M138.9 1112.3m-4.1 0a4.1 4.1 0 1 0 8.2 0a4.1 4.1 0 1 0 -8.2 0M140.2 1111.6m-4.1 0a4.1 4.1 0 1 0 8.2 0a4.1 4.1 0 1 0 -8.2 0M141.6 1110.9m-4.1 0a4.1 4.1 0 1 0 8.2 0a4.1 4.1 0 1 0 -8.2 0M142.9 1110.2m-4.1 0a4.1 4.1 0 1 0 8.2 0a4.1 4.1 0 1 0 -8.2 0M144.2 1109.5m-4.1 0a4.1 4.1 0 1 0 8.2 0a4.1 4.1 0 1 0 -8.2 0M145.5 1108.9m-4.1 0a4.1 4.1 0 1 0 8.2 0a4.1 4.1 0 1 0 -8.2 0M146.9 1108.2m-4.1 0a4.1 4.1 0 1 0 8.2 0a4.1 4.1 0 1 0 -8.2 0M148.2 1107.5m-4.1 0a4.1 4.1 0 1 0 8.2 0a4.1 4.1 0 1 0 -8.2 0M149.5 1106.8m-4.1 0a4.1 4.1 0 1 0 8.2 0a4.1 4.1 0 1 0 -8.2 0M150.9 1106.2m-4.1 0a4.1 4.1 0 1 0 8.2 0a4.1 4.1 0 1 0 -8.2 0M152.2 1105.5m-4.1 0a4.1 4.1 0 1 0 8.2 0a4.1 4.1 0 1 0 -8.2 0M153.5 1104.8m-4.1 0a4.1 4.1 0 1 0 8.2 0a4.1 4.1 0 1 0 -8.2 0M154.9 1104.2m-4.1 0a4.1 4.1 0 1 0 8.2 0a4.1 4.1 0 1 0 -8.2 0M156.2 1103.5m-4.1 0a4.1 4.1 0 1 0 8.2 0a4.1 4.1 0 1 0 -8.2 0M157.5 1102.9m-4.1 0a4.1 4.1 0 1 0 8.2 0a4.1 4.1 0 1 0 -8.2 0M158.9 1102.2m-4.1 0a4.1 4.1 0 1 0 8.2 0a4.1 4.1 0 1 0 -8.2 0M160.2 1101.6m-4.1 0a4.1 4.1 0 1 0 8.2 0a4.1 4.1 0 1 0 -8.2 0M161.5 1101m-4.1 0a4.1 4.1 0 1 0 8.2 0a4.1 4.1 0 1 0 -8.2 0M162.9 1100.4m-4.1 0a4.1 4.1 0 1 0 8.2 0a4.1 4.1 0 1 0 -8.2 0M164.2 1099.8m-4.1 0a4.1 4.1 0 1 0 8.2 0a4.1 4.1 0 1 0 -8.2 0M165.5 1099.2m-4.1 0a4.1 4.1 0 1 0 8.2 0a4.1 4.1 0 1 0 -8.2 0M166.9 1098.6m-4.1 0a4.1 4.1 0 1 0 8.2 0a4.1 4.1 0 1 0 -8.2 0M168.2 1098.1m-4.1 0a4.1 4.1 0 1 0 8.2 0a4.1 4.1 0 1 0 -8.2 0M169.5 1097.5m-4.1 0a4.1 4.1 0 1 0 8.2 0a4.1 4.1 0 1 0 -8.2 0M170.9 1097m-4.1 0a4.1 4.1 0 1 0 8.2 0a4.1 4.1 0 1 0 -8.2 0M172.2 1096.5m-4.1 0a4.1 4.1 0 1 0 8.2 0a4.1 4.1 0 1 0 -8.2 0M173.5 1095.9m-4.1 0a4.1 4.1 0 1 0 8.2 0a4.1 4.1 0 1 0 -8.2 0M174.9 1095.4m-4.1 0a4.1 4.1 0 1 0 8.2 0a4.1 4.1 0 1 0 -8.2 0M176.2 1094.9m-4.1 0a4.1 4.1 0 1 0 8.2 0a4.1 4.1 0 1 0 -8.2 0M177.5 1094.4m-4.1 0a4.1 4.1 0 1 0 8.2 0a4.1 4.1 0 1 0 -8.2 0M178.9 1093.9m-4.1 0a4.1 4.1 0 1 0 8.2 0a4.1 4.1 0 1 0 -8.2 0M180.2 1093.5m-4.1 0a4.1 4.1 0 1 0 8.2 0a4.1 4.1 0 1 0 -8.2 0M181.5 1093m-4.1 0a4.1 4.1 0 1 0 8.2 0a4.1 4.1 0 1 0 -8.2 0M182.9 1092.5m-4.1 0a4.1 4.1 0 1 0 8.2 0a4.1 4.1 0 1 0 -8.2 0M184.2 1092.1m-4.1 0a4.1 4.1 0 1 0 8.2 0a4.1 4.1 0 1 0 -8.2 0M185.5 1091.6m-4.1 0a4.1 4.1 0 1 0 8.2 0a4.1 4.1 0 1 0 -8.2 0M186.8 1091.2m-4.1 0a4.1 4.1 0 1 0 8.2 0a4.1 4.1 0 1 0 -8.2 0M188.2 1090.7m-4.1 0a4.1 4.1 0 1 0 8.2 0a4.1 4.1 0 1 0 -8.2 0M189.5 1090.3m-4.1 0a4.1 4.1 0 1 0 8.2 0a4.1 4.1 0 1 0 -8.2 0M190.8 1089.9m-4.1 0a4.1 4.1 0 1 0 8.2 0a4.1 4.1 0 1 0 -8.2 0M192.2 1089.5m-4.1 0a4.1 4.1 0 1 0 8.2 0a4.1 4.1 0 1 0 -8.2 0M193.5 1089.1m-4.1 0a4.1 4.1 0 1 0 8.2 0a4.1 4.1 0 1 0 -8.2 0M194.8 1088.7m-4.1 0a4.1 4.1 0 1 0 8.2 0a4.1 4.1 0 1 0 -8.2 0M196.2 1088.3m-4.1 0a4.1 4.1 0 1 0 8.2 0a4.1 4.1 0 1 0 -8.2 0M197.5 1087.9m-4.1 0a4.1 4.1 0 1 0 8.2 0a4.1 4.1 0 1 0 -8.2 0M198.8 1087.6m-4.1 0a4.1 4.1 0 1 0 8.2 0a4.1 4.1 0 1 0 -8.2 0M200.2 1087.2m-4.1 0a4.1 4.1 0 1 0 8.2 0a4.1 4.1 0 1 0 -8.2 0M201.5 1086.9m-4.1 0a4.1 4.1 0 1 0 8.2 0a4.1 4.1 0 1 0 -8.2 0M202.8 1086.5m-4.1 0a4.1 4.1 0 1 0 8.2 0a4.1 4.1 0 1 0 -8.2 0M204.2 1086.2m-4.1 0a4.1 4.1 0 1 0 8.2 0a4.1 4.1 0 1 0 -8.2 0M205.5 1085.8m-4.1 0a4.1 4.1 0 1 0 8.2 0a4.1 4.1 0 1 0 -8.2 0M206.8 1085.5m-4.1 0a4.1 4.1 0 1 0 8.2 0a4.1 4.1 0 1 0 -8.2 0M208.2 1085.2m-4.1 0a4.1 4.1 0 1 0 8.2 0a4.1 4.1 0 1 0 -8.2 0M209.5 1084.9m-4.1 0a4.1 4.1 0 1 0 8.2 0a4.1 4.1 0 1 0 -8.2 0M210.8 1084.5m-4.1 0a4.1 4.1 0 1 0 8.2 0a4.1 4.1 0 1 0 -8.2 0M212.2 1084.2m-4.1 0a4.1 4.1 0 1 0 8.2 0a4.1 4.1 0 1 0 -8.2 0M213.5 1083.9m-4.1 0a4.1 4.1 0 1 0 8.2 0a4.1 4.1 0 1 0 -8.2 0M214.8 1083.6m-4.1 0a4.1 4.1 0 1 0 8.2 0a4.1 4.1 0 1 0 -8.2 0M216.2 1083.3m-4.1 0a4.1 4.1 0 1 0 8.2 0a4.1 4.1 0 1 0 -8.2 0M217.5 1083m-4.1 0a4.1 4.1 0 1 0 8.2 0a4.1 4.1 0 1 0 -8.2 0M218.8 1082.7m-4.1 0a4.1 4.1 0 1 0 8.2 0a4.1 4.1 0 1 0 -8.2 0M220.2 1082.4m-4.1 0a4.1 4.1 0 1 0 8.2 0a4.1 4.1 0 1 0 -8.2 0M221.5 1082.2m-4.1 0a4.1 4.1 0 1 0 8.2 0a4.1 4.1 0 1 0 -8.2 0M222.8 1081.9m-4.1 0a4.1 4.1 0 1 0 8.2 0a4.1 4.1 0 1 0 -8.2 0M224.2 1081.6m-4.1 0a4.1 4.1 0 1 0 8.2 0a4.1 4.1 0 1 0 -8.2 0M225.5 1081.3m-4.1 0a4.1 4.1 0 1 0 8.2 0a4.1 4.1 0 1 0 -8.2 0M226.8 1081m-4.1 0a4.1 4.1 0 1 0 8.2 0a4.1 4.1 0 1 0 -8.2 0M228.1 1080.8m-4.1 0a4.1 4.1 0 1 0 8.2 0a4.1 4.1 0 1 0 -8.2 0M229.5 1080.5m-4.1 0a4.1 4.1 0 1 0 8.2 0a4.1 4.1 0 1 0 -8.2 0M230.8 1080.2m-4.1 0a4.1 4.1 0 1 0 8.2 0a4.1 4.1 0 1 0 -8.2 0M232.1 1080m-4.1 0a4.1 4.1 0 1 0 8.2 0a4.1 4.1 0 1 0 -8.2 0M233.5 1079.7m-4.1 0a4.1 4.1 0 1 0 8.2 0a4.1 4.1 0 1 0 -8.2 0M234.8 1079.4m-4.1 0a4.1 4.1 0 1 0 8.2 0a4.1 4.1 0 1 0 -8.2 0M236.1 1079.2m-4.1 0a4.1 4.1 0 1 0 8.2 0a4.1 4.1 0 1 0 -8.2 0M237.5 1078.9m-4.1 0a4.1 4.1 0 1 0 8.2 0a4.1 4.1 0 1 0 -8.2 0M238.8 1078.7m-4.1 0a4.1 4.1 0 1 0 8.2 0a4.1 4.1 0 1 0 -8.2 0M240.1 1078.5m-4.1 0a4.1 4.1 0 1 0 8.2 0a4.1 4.1 0 1 0 -8.2 0M241.5 1078.2m-4.1 0a4.1 4.1 0 1 0 8.2 0a4.1 4.1 0 1 0 -8.2 0M242.8 1078m-4.1 0a4.1 4.1 0 1 0 8.2 0a4.1 4.1 0 1 0 -8.2 0M244.1 1077.7m-4.1 0a4.1 4.1 0 1 0 8.2 0a4.1 4.1 0 1 0 -8.2 0M245.5 1077.5m-4.1 0a4.1 4.1 0 1 0 8.2 0a4.1 4.1 0 1 0 -8.2 0M246.8 1077.3m-4.1 0a4.1 4.1 0 1 0 8.2 0a4.1 4.1 0 1 0 -8.2 0M248.1 1077m-4.1 0a4.1 4.1 0 1 0 8.2 0a4.1 4.1 0 1 0 -8.2 0M249.5 1076.8m-4.1 0a4.1 4.1 0 1 0 8.2 0a4.1 4.1 0 1 0 -8.2 0M250.8 1076.6m-4.1 0a4.1 4.1 0 1 0 8.2 0a4.1 4.1 0 1 0 -8.2 0M252.1 1076.4m-4.1 0a4.1 4.1 0 1 0 8.2 0a4.1 4.1 0 1 0 -8.2 0M253.5 1076.1m-4.1 0a4.1 4.1 0 1 0 8.2 0a4.1 4.1 0 1 0 -8.2 0M254.8 1075.9m-4.1 0a4.1 4.1 0 1 0 8.2 0a4.1 4.1 0 1 0 -8.2 0M256.1 1075.7m-4.1 0a4.1 4.1 0 1 0 8.2 0a4.1 4.1 0 1 0 -8.2 0M257.5 1075.4m-4.1 0a4.1 4.1 0 1 0 8.2 0a4.1 4.1 0 1 0 -8.2 0M258.8 1075.2m-4.1 0a4.1 4.1 0 1 0 8.2 0a4.1 4.1 0 1 0 -8.2 0M260.1 1074.9m-4.1 0a4.1 4.1 0 1 0 8.2 0a4.1 4.1 0 1 0 -8.2 0M261.5 1074.7m-4.1 0a4.1 4.1 0 1 0 8.2 0a4.1 4.1 0 1 0 -8.2 0M262.8 1074.5m-4.1 0a4.1 4.1 0 1 0 8.2 0a4.1 4.1 0 1 0 -8.2 0M264.1 1074.2m-4.1 0a4.1 4.1 0 1 0 8.2 0a4.1 4.1 0 1 0 -8.2 0M265.5 1073.9m-4.1 0a4.1 4.1 0 1 0 8.2 0a4.1 4.1 0 1 0 -8.2 0M266.8 1073.7m-4.1 0a4.1 4.1 0 1 0 8.2 0a4.1 4.1 0 1 0 -8.2 0M268.1 1073.4m-4.1 0a4.1 4.1 0 1 0 8.2 0a4.1 4.1 0 1 0 -8.2 0M269.5 1073.2m-4.1 0a4.1 4.1 0 1 0 8.2 0a4.1 4.1 0 1 0 -8.2 0M270.8 1072.9m-4.1 0a4.1 4.1 0 1 0 8.2 0a4.1 4.1 0 1 0 -8.2 0M272.1 1072.7m-4.1 0a4.1 4.1 0 1 0 8.2 0a4.1 4.1 0 1 0 -8.2 0M273.4 1072.4m-4.1 0a4.1 4.1 0 1 0 8.2 0a4.1 4.1 0 1 0 -8.2 0M274.8 1072.1m-4.1 0a4.1 4.1 0 1 0 8.2 0a4.1 4.1 0 1 0 -8.2 0M276.1 1071.9m-4.1 0a4.1 4.1 0 1 0 8.2 0a4.1 4.1 0 1 0 -8.2 0M277.4 1071.6m-4.1 0a4.1 4.1 0 1 0 8.2 0a4.1 4.1 0 1 0 -8.2 0M278.8 1071.3m-4.1 0a4.1 4.1 0 1 0 8.2 0a4.1 4.1 0 1 0 -8.2 0M280.1 1071.1m-4.1 0a4.1 4.1 0 1 0 8.2 0a4.1 4.1 0 1 0 -8.2 0M281.4 1070.8m-4.1 0a4.1 4.1 0 1 0 8.2 0a4.1 4.1 0 1 0 -8.2 0M282.8 1070.5m-4.1 0a4.1 4.1 0 1 0 8.2 0a4.1 4.1 0 1 0 -8.2 0M284.1 1070.3m-4.1 0a4.1 4.1 0 1 0 8.2 0a4.1 4.1 0 1 0 -8.2 0M285.4 1070m-4.1 0a4.1 4.1 0 1 0 8.2 0a4.1 4.1 0 1 0 -8.2 0M286.8 1069.7m-4.1 0a4.1 4.1 0 1 0 8.2 0a4.1 4.1 0 1 0 -8.2 0M288.1 1069.5m-4.1 0a4.1 4.1 0 1 0 8.2 0a4.1 4.1 0 1 0 -8.2 0M289.4 1069.2m-4.1 0a4.1 4.1 0 1 0 8.2 0a4.1 4.1 0 1 0 -8.2 0M290.8 1068.9m-4.1 0a4.1 4.1 0 1 0 8.2 0a4.1 4.1 0 1 0 -8.2 0M292.1 1068.7m-4.1 0a4.1 4.1 0 1 0 8.2 0a4.1 4.1 0 1 0 -8.2 0M293.4 1068.4m-4.1 0a4.1 4.1 0 1 0 8.2 0a4.1 4.1 0 1 0 -8.2 0M294.8 1068.1m-4.1 0a4.1 4.1 0 1 0 8.2 0a4.1 4.1 0 1 0 -8.2 0M296.1 1067.8m-4.1 0a4.1 4.1 0 1 0 8.2 0a4.1 4.1 0 1 0 -8.2 0M297.4 1067.6m-4.1 0a4.1 4.1 0 1 0 8.2 0a4.1 4.1 0 1 0 -8.2 0M298.8 1067.3m-4.1 0a4.1 4.1 0 1 0 8.2 0a4.1 4.1 0 1 0 -8.2 0M300.1 1067m-4.1 0a4.1 4.1 0 1 0 8.2 0a4.1 4.1 0 1 0 -8.2 0M301.4 1066.8m-4.1 0a4.1 4.1 0 1 0 8.2 0a4.1 4.1 0 1 0 -8.2 0M302.8 1066.5m-4.1 0a4.1 4.1 0 1 0 8.2 0a4.1 4.1 0 1 0 -8.2 0M304.1 1066.2m-4.1 0a4.1 4.1 0 1 0 8.2 0a4.1 4.1 0 1 0 -8.2 0M305.4 1066m-4.1 0a4.1 4.1 0 1 0 8.2 0a4.1 4.1 0 1 0 -8.2 0M306.8 1065.7m-4.1 0a4.1 4.1 0 1 0 8.2 0a4.1 4.1 0 1 0 -8.2 0M308.1 1065.4m-4.1 0a4.1 4.1 0 1 0 8.2 0a4.1 4.1 0 1 0 -8.2 0M309.4 1065.2m-4.1 0a4.1 4.1 0 1 0 8.2 0a4.1 4.1 0 1 0 -8.2 0M310.8 1064.9m-4.1 0a4.1 4.1 0 1 0 8.2 0a4.1 4.1 0 1 0 -8.2 0M312.1 1064.6m-4.1 0a4.1 4.1 0 1 0 8.2 0a4.1 4.1 0 1 0 -8.2 0M313.4 1064.4m-4.1 0a4.1 4.1 0 1 0 8.2 0a4.1 4.1 0 1 0 -8.2 0M314.7 1064.1m-4.1 0a4.1 4.1 0 1 0 8.2 0a4.1 4.1 0 1 0 -8.2 0M316.1 1063.8m-4.1 0a4.1 4.1 0 1 0 8.2 0a4.1 4.1 0 1 0 -8.2 0M317.4 1063.6m-4.1 0a4.1 4.1 0 1 0 8.2 0a4.1 4.1 0 1 0 -8.2 0M318.7 1063.3m-4.1 0a4.1 4.1 0 1 0 8.2 0a4.1 4.1 0 1 0 -8.2 0M320.1 1063m-4.1 0a4.1 4.1 0 1 0 8.2 0a4.1 4.1 0 1 0 -8.2 0M321.4 1062.8m-4.1 0a4.1 4.1 0 1 0 8.2 0a4.1 4.1 0 1 0 -8.2 0M322.7 1062.5m-4.1 0a4.1 4.1 0 1 0 8.2 0a4.1 4.1 0 1 0 -8.2 0M324.1 1062.2m-4.1 0a4.1 4.1 0 1 0 8.2 0a4.1 4.1 0 1 0 -8.2 0M325.4 1061.9m-4.1 0a4.1 4.1 0 1 0 8.2 0a4.1 4.1 0 1 0 -8.2 0M326.7 1061.7m-4.1 0a4.1 4.1 0 1 0 8.2 0a4.1 4.1 0 1 0 -8.2 0M328.1 1061.4m-4.1 0a4.1 4.1 0 1 0 8.2 0a4.1 4.1 0 1 0 -8.2 0M329.4 1061.1m-4.1 0a4.1 4.1 0 1 0 8.2 0a4.1 4.1 0 1 0 -8.2 0M330.7 1060.9m-4.1 0a4.1 4.1 0 1 0 8.2 0a4.1 4.1 0 1 0 -8.2 0M332.1 1060.6m-4.1 0a4.1 4.1 0 1 0 8.2 0a4.1 4.1 0 1 0 -8.2 0M333.4 1060.3m-4.1 0a4.1 4.1 0 1 0 8.2 0a4.1 4.1 0 1 0 -8.2 0M334.7 1060m-4.1 0a4.1 4.1 0 1 0 8.2 0a4.1 4.1 0 1 0 -8.2 0M336.1 1059.8m-4.1 0a4.1 4.1 0 1 0 8.2 0a4.1 4.1 0 1 0 -8.2 0M337.4 1059.5m-4.1 0a4.1 4.1 0 1 0 8.2 0a4.1 4.1 0 1 0 -8.2 0M338.7 1059.2m-4.1 0a4.1 4.1 0 1 0 8.2 0a4.1 4.1 0 1 0 -8.2 0M340.1 1059m-4.1 0a4.1 4.1 0 1 0 8.2 0a4.1 4.1 0 1 0 -8.2 0M341.4 1058.7m-4.1 0a4.1 4.1 0 1 0 8.2 0a4.1 4.1 0 1 0 -8.2 0M342.7 1058.5m-4.1 0a4.1 4.1 0 1 0 8.2 0a4.1 4.1 0 1 0 -8.2 0M344.1 1058.2m-4.1 0a4.1 4.1 0 1 0 8.2 0a4.1 4.1 0 1 0 -8.2 0M345.4 1057.9m-4.1 0a4.1 4.1 0 1 0 8.2 0a4.1 4.1 0 1 0 -8.2 0M346.7 1057.7m-4.1 0a4.1 4.1 0 1 0 8.2 0a4.1 4.1 0 1 0 -8.2 0M348.1 1057.4m-4.1 0a4.1 4.1 0 1 0 8.2 0a4.1 4.1 0 1 0 -8.2 0M349.4 1057.2m-4.1 0a4.1 4.1 0 1 0 8.2 0a4.1 4.1 0 1 0 -8.2 0M350.7 1056.9m-4.1 0a4.1 4.1 0 1 0 8.2 0a4.1 4.1 0 1 0 -8.2 0M352.1 1056.7m-4.1 0a4.1 4.1 0 1 0 8.2 0a4.1 4.1 0 1 0 -8.2 0M353.4 1056.5m-4.1 0a4.1 4.1 0 1 0 8.2 0a4.1 4.1 0 1 0 -8.2 0M354.7 1056.2m-4.1 0a4.1 4.1 0 1 0 8.2 0a4.1 4.1 0 1 0 -8.2 0M356.1 1056m-4.1 0a4.1 4.1 0 1 0 8.2 0a4.1 4.1 0 1 0 -8.2 0M357.4 1055.7m-4.1 0a4.1 4.1 0 1 0 8.2 0a4.1 4.1 0 1 0 -8.2 0M358.7 1055.5m-4.1 0a4.1 4.1 0 1 0 8.2 0a4.1 4.1 0 1 0 -8.2 0M360 1055.3m-4.1 0a4.1 4.1 0 1 0 8.2 0a4.1 4.1 0 1 0 -8.2 0M361.4 1055.1m-4.1 0a4.1 4.1 0 1 0 8.2 0a4.1 4.1 0 1 0 -8.2 0M362.7 1054.8m-4.1 0a4.1 4.1 0 1 0 8.2 0a4.1 4.1 0 1 0 -8.2 0M364 1054.6m-4.1 0a4.1 4.1 0 1 0 8.2 0a4.1 4.1 0 1 0 -8.2 0M365.4 1054.4m-4.1 0a4.1 4.1 0 1 0 8.2 0a4.1 4.1 0 1 0 -8.2 0M366.7 1054.1m-4.1 0a4.1 4.1 0 1 0 8.2 0a4.1 4.1 0 1 0 -8.2 0M368 1053.9m-4.1 0a4.1 4.1 0 1 0 8.2 0a4.1 4.1 0 1 0 -8.2 0M369.4 1053.7m-4.1 0a4.1 4.1 0 1 0 8.2 0a4.1 4.1 0 1 0 -8.2 0M370.7 1053.5m-4.1 0a4.1 4.1 0 1 0 8.2 0a4.1 4.1 0 1 0 -8.2 0M372 1053.2m-4.1 0a4.1 4.1 0 1 0 8.2 0a4.1 4.1 0 1 0 -8.2 0M373.4 1053m-4.1 0a4.1 4.1 0 1 0 8.2 0a4.1 4.1 0 1 0 -8.2 0M374.7 1052.8m-4.1 0a4.1 4.1 0 1 0 8.2 0a4.1 4.1 0 1 0 -8.2 0M376 1052.6m-4.1 0a4.1 4.1 0 1 0 8.2 0a4.1 4.1 0 1 0 -8.2 0M377.4 1052.4m-4.1 0a4.1 4.1 0 1 0 8.2 0a4.1 4.1 0 1 0 -8.2 0M378.7 1052.2m-4.1 0a4.1 4.1 0 1 0 8.2 0a4.1 4.1 0 1 0 -8.2 0M380 1051.9m-4.1 0a4.1 4.1 0 1 0 8.2 0a4.1 4.1 0 1 0 -8.2 0M381.4 1051.7m-4.1 0a4.1 4.1 0 1 0 8.2 0a4.1 4.1 0 1 0 -8.2 0M382.7 1051.5m-4.1 0a4.1 4.1 0 1 0 8.2 0a4.1 4.1 0 1 0 -8.2 0M384 1051.3m-4.1 0a4.1 4.1 0 1 0 8.2 0a4.1 4.1 0 1 0 -8.2 0M385.4 1051.1m-4.1 0a4.1 4.1 0 1 0 8.2 0a4.1 4.1 0 1 0 -8.2 0M386.7 1050.9m-4.1 0a4.1 4.1 0 1 0 8.2 0a4.1 4.1 0 1 0 -8.2 0M388 1050.7m-4.1 0a4.1 4.1 0 1 0 8.2 0a4.1 4.1 0 1 0 -8.2 0M389.4 1050.5m-4.1 0a4.1 4.1 0 1 0 8.2 0a4.1 4.1 0 1 0 -8.2 0M390.7 1050.4m-4.1 0a4.1 4.1 0 1 0 8.2 0a4.1 4.1 0 1 0 -8.2 0M392 1050.2m-4.1 0a4.1 4.1 0 1 0 8.2 0a4.1 4.1 0 1 0 -8.2 0M393.4 1050m-4.1 0a4.1 4.1 0 1 0 8.2 0a4.1 4.1 0 1 0 -8.2 0M394.7 1049.8m-4.1 0a4.1 4.1 0 1 0 8.2 0a4.1 4.1 0 1 0 -8.2 0M396 1049.6m-4.1 0a4.1 4.1 0 1 0 8.2 0a4.1 4.1 0 1 0 -8.2 0M397.4 1049.5m-4.1 0a4.1 4.1 0 1 0 8.2 0a4.1 4.1 0 1 0 -8.2 0M398.7 1049.3m-4.1 0a4.1 4.1 0 1 0 8.2 0a4.1 4.1 0 1 0 -8.2 0M400 1049.1m-4.1 0a4.1 4.1 0 1 0 8.2 0a4.1 4.1 0 1 0 -8.2 0M401.3 1049m-4.1 0a4.1 4.1 0 1 0 8.2 0a4.1 4.1 0 1 0 -8.2 0M402.7 1048.8m-4.1 0a4.1 4.1 0 1 0 8.2 0a4.1 4.1 0 1 0 -8.2 0M404 1048.6m-4.1 0a4.1 4.1 0 1 0 8.2 0a4.1 4.1 0 1 0 -8.2 0M405.3 1048.5m-4.1 0a4.1 4.1 0 1 0 8.2 0a4.1 4.1 0 1 0 -8.2 0M406.7 1048.3m-4.1 0a4.1 4.1 0 1 0 8.2 0a4.1 4.1 0 1 0 -8.2 0M408 1048.2m-4.1 0a4.1 4.1 0 1 0 8.2 0a4.1 4.1 0 1 0 -8.2 0M409.3 1048m-4.1 0a4.1 4.1 0 1 0 8.2 0a4.1 4.1 0 1 0 -8.2 0M410.7 1047.9m-4.1 0a4.1 4.1 0 1 0 8.2 0a4.1 4.1 0 1 0 -8.2 0M412 1047.7m-4.1 0a4.1 4.1 0 1 0 8.2 0a4.1 4.1 0 1 0 -8.2 0M413.3 1047.6m-4.1 0a4.1 4.1 0 1 0 8.2 0a4.1 4.1 0 1 0 -8.2 0M414.7 1047.5m-4.1 0a4.1 4.1 0 1 0 8.2 0a4.1 4.1 0 1 0 -8.2 0M416 1047.3m-4.1 0a4.1 4.1 0 1 0 8.2 0a4.1 4.1 0 1 0 -8.2 0M417.3 1047.2m-4.1 0a4.1 4.1 0 1 0 8.2 0a4.1 4.1 0 1 0 -8.2 0M418.7 1047m-4.1 0a4.1 4.1 0 1 0 8.2 0a4.1 4.1 0 1 0 -8.2 0M420 1046.9m-4.1 0a4.1 4.1 0 1 0 8.2 0a4.1 4.1 0 1 0 -8.2 0M421.3 1046.8m-4.1 0a4.1 4.1 0 1 0 8.2 0a4.1 4.1 0 1 0 -8.2 0M422.7 1046.6m-4.1 0a4.1 4.1 0 1 0 8.2 0a4.1 4.1 0 1 0 -8.2 0M424 1046.5m-4.1 0a4.1 4.1 0 1 0 8.2 0a4.1 4.1 0 1 0 -8.2 0M425.3 1046.4m-4.1 0a4.1 4.1 0 1 0 8.2 0a4.1 4.1 0 1 0 -8.2 0M426.7 1046.2m-4.1 0a4.1 4.1 0 1 0 8.2 0a4.1 4.1 0 1 0 -8.2 0M428 1046.1m-4.1 0a4.1 4.1 0 1 0 8.2 0a4.1 4.1 0 1 0 -8.2 0M429.3 1046m-4.1 0a4.1 4.1 0 1 0 8.2 0a4.1 4.1 0 1 0 -8.2 0M430.7 1045.8m-4.1 0a4.1 4.1 0 1 0 8.2 0a4.1 4.1 0 1 0 -8.2 0M432 1045.7m-4.1 0a4.1 4.1 0 1 0 8.2 0a4.1 4.1 0 1 0 -8.2 0M433.3 1045.5m-4.1 0a4.1 4.1 0 1 0 8.2 0a4.1 4.1 0 1 0 -8.2 0M434.7 1045.4m-4.1 0a4.1 4.1 0 1 0 8.2 0a4.1 4.1 0 1 0 -8.2 0M436 1045.3m-4.1 0a4.1 4.1 0 1 0 8.2 0a4.1 4.1 0 1 0 -8.2 0M437.3 1045.1m-4.1 0a4.1 4.1 0 1 0 8.2 0a4.1 4.1 0 1 0 -8.2 0M438.7 1045m-4.1 0a4.1 4.1 0 1 0 8.2 0a4.1 4.1 0 1 0 -8.2 0M440 1044.9m-4.1 0a4.1 4.1 0 1 0 8.2 0a4.1 4.1 0 1 0 -8.2 0M441.3 1044.7m-4.1 0a4.1 4.1 0 1 0 8.2 0a4.1 4.1 0 1 0 -8.2 0M442.7 1044.6m-4.1 0a4.1 4.1 0 1 0 8.2 0a4.1 4.1 0 1 0 -8.2 0M444 1044.5m-4.1 0a4.1 4.1 0 1 0 8.2 0a4.1 4.1 0 1 0 -8.2 0M445.3 1044.3m-4.1 0a4.1 4.1 0 1 0 8.2 0a4.1 4.1 0 1 0 -8.2 0M446.6 1044.2m-4.1 0a4.1 4.1 0 1 0 8.2 0a4.1 4.1 0 1 0 -8.2 0M448 1044.1m-4.1 0a4.1 4.1 0 1 0 8.2 0a4.1 4.1 0 1 0 -8.2 0M449.3 1043.9m-4.1 0a4.1 4.1 0 1 0 8.2 0a4.1 4.1 0 1 0 -8.2 0M450.6 1043.8m-4.1 0a4.1 4.1 0 1 0 8.2 0a4.1 4.1 0 1 0 -8.2 0M452 1043.7m-4.1 0a4.1 4.1 0 1 0 8.2 0a4.1 4.1 0 1 0 -8.2 0M453.3 1043.5m-4.1 0a4.1 4.1 0 1 0 8.2 0a4.1 4.1 0 1 0 -8.2 0M454.6 1043.4m-4.1 0a4.1 4.1 0 1 0 8.2 0a4.1 4.1 0 1 0 -8.2 0M456 1043.3m-4.1 0a4.1 4.1 0 1 0 8.2 0a4.1 4.1 0 1 0 -8.2 0M457.3 1043.1m-4.1 0a4.1 4.1 0 1 0 8.2 0a4.1 4.1 0 1 0 -8.2 0M458.6 1043m-4.1 0a4.1 4.1 0 1 0 8.2 0a4.1 4.1 0 1 0 -8.2 0M460 1042.9m-4.1 0a4.1 4.1 0 1 0 8.2 0a4.1 4.1 0 1 0 -8.2 0M461.3 1042.7m-4.1 0a4.1 4.1 0 1 0 8.2 0a4.1 4.1 0 1 0 -8.2 0M462.6 1042.6m-4.1 0a4.1 4.1 0 1 0 8.2 0a4.1 4.1 0 1 0 -8.2 0M464 1042.5m-4.1 0a4.1 4.1 0 1 0 8.2 0a4.1 4.1 0 1 0 -8.2 0M465.3 1042.4m-4.1 0a4.1 4.1 0 1 0 8.2 0a4.1 4.1 0 1 0 -8.2 0M466.6 1042.2m-4.1 0a4.1 4.1 0 1 0 8.2 0a4.1 4.1 0 1 0 -8.2 0M468 1042.1m-4.1 0a4.1 4.1 0 1 0 8.2 0a4.1 4.1 0 1 0 -8.2 0M469.3 1042m-4.1 0a4.1 4.1 0 1 0 8.2 0a4.1 4.1 0 1 0 -8.2 0M470.6 1041.8m-4.1 0a4.1 4.1 0 1 0 8.2 0a4.1 4.1 0 1 0 -8.2 0M472 1041.7m-4.1 0a4.1 4.1 0 1 0 8.2 0a4.1 4.1 0 1 0 -8.2 0M473.3 1041.6m-4.1 0a4.1 4.1 0 1 0 8.2 0a4.1 4.1 0 1 0 -8.2 0M474.6 1041.5m-4.1 0a4.1 4.1 0 1 0 8.2 0a4.1 4.1 0 1 0 -8.2 0M476 1041.3m-4.1 0a4.1 4.1 0 1 0 8.2 0a4.1 4.1 0 1 0 -8.2 0M477.3 1041.2m-4.1 0a4.1 4.1 0 1 0 8.2 0a4.1 4.1 0 1 0 -8.2 0" fill="#0a86f0"/><path d="M78.9 1172.3V1184.1M76.9 1172.3h4M76.9 1184.1h4M80.3 1167.1V1178.9M78.3 1167.1h4M78.3 1178.9h4M81.6 1162.8V1174.5M79.6 1162.8h4M79.6 1174.5h4M82.9 1158.9V1170.7M80.9 1158.9h4M80.9 1170.7h4M84.3 1155.3V1167.1M82.3 1155.3h4M82.3 1167.1h4M85.6 1152V1163.8M83.6 1152h4M83.6 1163.8h4M86.9 1148.9V1160.7M84.9 1148.9h4M84.9 1160.7h4M88.3 1145.9V1157.7M86.3 1145.9h4M86.3 1157.7h4M89.6 1143.1V1154.9M87.6 1143.1h4M87.6 1154.9h4M90.9 1140.4V1152.2M88.9 1140.4h4M88.9 1152.2h4M92.3 1137.8V1149.6M90.3 1137.8h4M90.3 1149.6h4M93.6 1135.3V1147.1M91.6 1135.3h4M91.6 1147.1h4M94.9 1132.8V1144.6M92.9 1132.8h4M92.9 1144.6h4M96.3 1130.5V1142.3M94.3 1130.5h4M94.3 1142.3h4M97.6 1128.2V1140M95.6 1128.2h4M95.6 1140h4M98.9 1125.9V1137.7M96.9 1125.9h4M96.9 1137.7h4M100.2 1123.8V1135.5M98.2 1123.8h4M98.2 1135.5h4M101.6 1121.6V1133.4M99.6 1121.6h4M99.6 1133.4h4M102.9 1119.5V1131.3M100.9 1119.5h4M100.9 1131.3h4M104.2 1117.5V1129.3M102.2 1117.5h4M102.2 1129.3h4M105.6 1115.5V1127.3M103.6 1115.5h4M103.6 1127.3h4M106.9 1113.5V1125.3M104.9 1113.5h4M104.9 1125.3h4M108.2 1111.6V1123.4M106.2 1111.6h4M106.2 1123.4h4M109.6 1109.7V1121.5M107.6 1109.7h4M107.6 1121.5h4M110.9 1107.8V1119.6M108.9 1107.8h4M108.9 1119.6h4M112.2 1106V1117.8M110.2 1106h4M110.2 1117.8h4M113.6 1104.2V1116M111.6 1104.2h4M111.6 1116h4M114.9 1102.4V1114.2M112.9 1102.4h4M112.9 1114.2h4M116.2 1100.7V1112.5M114.2 1100.7h4M114.2 1112.5h4M117.6 1099V1110.8M115.6 1099h4M115.6 1110.8h4M118.9 1097.3V1109.1M116.9 1097.3h4M116.9 1109.1h4M120.2 1095.6V1107.4M118.2 1095.6h4M118.2 1107.4h4M121.6 1094V1105.7M119.6 1094h4M119.6 1105.7h4M122.9 1092.3V1104.1M120.9 1092.3h4M120.9 1104.1h4M124.2 1090.7V1102.5M122.2 1090.7h4M122.2 1102.5h4M125.6 1089.2V1100.9M123.6 1089.2h4M123.6 1100.9h4M126.9 1087.6V1099.4M124.9 1087.6h4M124.9 1099.4h4M128.2 1086V1097.8M126.2 1086h4M126.2 1097.8h4M129.6 1084.5V1096.3M127.6 1084.5h4M127.6 1096.3h4M130.9 1083V1094.8M128.9 1083h4M128.9 1094.8h4M132.2 1081.5V1093.3M130.2 1081.5h4M130.2 1093.3h4M133.6 1080V1091.8M131.6 1080h4M131.6 1091.8h4M134.9 1078.6V1090.4M132.9 1078.6h4M132.9 1090.4h4M136.2 1077.1V1088.9M134.2 1077.1h4M134.2 1088.9h4M137.6 1075.7V1087.5M135.6 1075.7h4M135.6 1087.5h4M138.9 1074.3V1086.1M136.9 1074.3h4M136.9 1086.1h4M140.2 1072.9V1084.7M138.2 1072.9h4M138.2 1084.7h4M141.6 1071.5V1083.3M139.6 1071.5h4M139.6 1083.3h4M142.9 1070.1V1081.9M140.9 1070.1h4M140.9 1081.9h4M144.2 1068.8V1080.5M142.2 1068.8h4M142.2 1080.5h4M145.5 1067.4V1079.2M143.5 1067.4h4M143.5 1079.2h4M146.9 1066.1V1077.9M144.9 1066.1h4M144.9 1077.9h4M148.2 1064.8V1076.5M146.2 1064.8h4M146.2 1076.5h4M149.5 1063.4V1075.2M147.5 1063.4h4M147.5 1075.2h4M150.9 1062.1V1073.9M148.9 1062.1h4M148.9 1073.9h4M152.2 1060.9V1072.6M150.2 1060.9h4M150.2 1072.6h4M153.5 1059.6V1071.4M151.5 1059.6h4M151.5 1071.4h4M154.9 1058.3V1070.1M152.9 1058.3h4M152.9 1070.1h4M156.2 1057.1V1068.8M154.2 1057.1h4M154.2 1068.8h4M157.5 1055.8V1067.6M155.5 1055.8h4M155.5 1067.6h4M158.9 1054.6V1066.4M156.9 1054.6h4M156.9 1066.4h4M160.2 1053.4V1065.1M158.2 1053.4h4M158.2 1065.1h4M161.5 1052.1V1063.9M159.5 1052.1h4M159.5 1063.9h4M162.9 1050.9V1062.7M160.9 1050.9h4M160.9 1062.7h4M164.2 1049.7V1061.5M162.2 1049.7h4M162.2 1061.5h4M165.5 1048.6V1060.3M163.5 1048.6h4M163.5 1060.3h4M166.9 1047.4V1059.2M164.9 1047.4h4M164.9 1059.2h4M168.2 1046.2V1058M166.2 1046.2h4M166.2 1058h4M169.5 1045V1056.8M167.5 1045h4M167.5 1056.8h4M170.9 1043.9V1055.7M168.9 1043.9h4M168.9 1055.7h4M172.2 1042.7V1054.5M170.2 1042.7h4M170.2 1054.5h4M173.5 1041.6V1053.4M171.5 1041.6h4M171.5 1053.4h4M174.9 1040.5V1052.3M172.9 1040.5h4M172.9 1052.3h4M176.2 1039.4V1051.1M174.2 1039.4h4M174.2 1051.1h4M177.5 1038.3V1050M175.5 1038.3h4M175.5 1050h4M178.9 1037.2V1048.9M176.9 1037.2h4M176.9 1048.9h4M180.2 1036.1V1047.8M178.2 1036.1h4M178.2 1047.8h4M181.5 1035V1046.7M179.5 1035h4M179.5 1046.7h4M182.9 1033.9V1045.7M180.9 1033.9h4M180.9 1045.7h4M184.2 1032.8V1044.6M182.2 1032.8h4M182.2 1044.6h4M185.5 1031.7V1043.5M183.5 1031.7h4M183.5 1043.5h4M186.8 1030.7V1042.5M184.8 1030.7h4M184.8 1042.5h4M188.2 1029.6V1041.4M186.2 1029.6h4M186.2 1041.4h4M189.5 1028.6V1040.4M187.5 1028.6h4M187.5 1040.4h4M190.8 1027.5V1039.3M188.8 1027.5h4M188.8 1039.3h4M192.2 1026.5V1038.3M190.2 1026.5h4M190.2 1038.3h4M193.5 1025.5V1037.3M191.5 1025.5h4M191.5 1037.3h4M194.8 1024.5V1036.2M192.8 1024.5h4M192.8 1036.2h4M196.2 1023.4V1035.2M194.2 1023.4h4M194.2 1035.2h4M197.5 1022.4V1034.2M195.5 1022.4h4M195.5 1034.2h4M198.8 1021.4V1033.2M196.8 1021.4h4M196.8 1033.2h4M200.2 1020.4V1032.2M198.2 1020.4h4M198.2 1032.2h4M201.5 1019.4V1031.2M199.5 1019.4h4M199.5 1031.2h4M202.8 1018.5V1030.2M200.8 1018.5h4M200.8 1030.2h4M204.2 1017.5V1029.3M202.2 1017.5h4M202.2 1029.3h4M205.5 1016.5V1028.3M203.5 1016.5h4M203.5 1028.3h4M206.8 1015.5V1027.3M204.8 1015.5h4M204.8 1027.3h4M208.2 1014.6V1026.3M206.2 1014.6h4M206.2 1026.3h4M209.5 1013.6V1025.4M207.5 1013.6h4M207.5 1025.4h4M210.8 1012.7V1024.4M208.8 1012.7h4M208.8 1024.4h4M212.2 1011.7V1023.5M210.2 1011.7h4M210.2 1023.5h4M213.5 1010.8V1022.5M211.5 1010.8h4M211.5 1022.5h4M214.8 1009.8V1021.6M212.8 1009.8h4M212.8 1021.6h4M216.2 1008.9V1020.7M214.2 1008.9h4M214.2 1020.7h4M217.5 1008V1019.8M215.5 1008h4M215.5 1019.8h4M218.8 1007.1V1018.8M216.8 1007.1h4M216.8 1018.8h4M220.2 1006.1V1017.9M218.2 1006.1h4M218.2 1017.9h4M221.5 1005.2V1017M219.5 1005.2h4M219.5 1017h4M222.8 1004.3V1016.1M220.8 1004.3h4M220.8 1016.1h4M224.2 1003.4V1015.2M222.2 1003.4h4M222.2 1015.2h4M225.5 1002.5V1014.3M223.5 1002.5h4M223.5 1014.3h4M226.8 1001.6V1013.4M224.8 1001.6h4M224.8 1013.4h4M228.1 1000.7V1012.5M226.1 1000.7h4M226.1 1012.5h4M229.5 999.9V1011.6M227.5 999.9h4M227.5 1011.6h4M230.8 999V1010.8M228.8 999h4M228.8 1010.8h4M232.1 998.1V1009.9M230.1 998.1h4M230.1 1009.9h4M233.5 997.2V1009M231.5 997.2h4M231.5 1009h4M234.8 996.4V1008.1M232.8 996.4h4M232.8 1008.1h4M236.1 995.5V1007.3M234.1 995.5h4M234.1 1007.3h4M237.5 994.6V1006.4M235.5 994.6h4M235.5 1006.4h4M238.8 993.8V1005.6M236.8 993.8h4M236.8 1005.6h4M240.1 992.9V1004.7M238.1 992.9h4M238.1 1004.7h4M241.5 992.1V1003.9M239.5 992.1h4M239.5 1003.9h4M242.8 991.3V1003M240.8 991.3h4M240.8 1003h4M244.1 990.4V1002.2M242.1 990.4h4M242.1 1002.2h4M245.5 989.6V1001.4M243.5 989.6h4M243.5 1001.4h4M246.8 988.8V1000.5M244.8 988.8h4M244.8 1000.5h4M248.1 987.9V999.7M246.1 987.9h4M246.1 999.7h4M249.5 987.1V998.9M247.5 987.1h4M247.5 998.9h4M250.8 986.3V998.1M248.8 986.3h4M248.8 998.1h4M252.1 985.5V997.3M250.1 985.5h4M250.1 997.3h4M253.5 984.7V996.4M251.5 984.7h4M251.5 996.4h4M254.8 983.9V995.6M252.8 983.9h4M252.8 995.6h4M256.1 983.1V994.8M254.1 983.1h4M254.1 994.8h4M257.5 982.3V994M255.5 982.3h4M255.5 994h4M258.8 981.5V993.2M256.8 981.5h4M256.8 993.2h4M260.1 980.7V992.5M258.1 980.7h4M258.1 992.5h4M261.5 979.9V991.7M259.5 979.9h4M259.5 991.7h4M262.8 979.1V990.9M260.8 979.1h4M260.8 990.9h4M264.1 978.3V990.1M262.1 978.3h4M262.1 990.1h4M265.5 977.5V989.3M263.5 977.5h4M263.5 989.3h4M266.8 976.8V988.5M264.8 976.8h4M264.8 988.5h4M268.1 976V987.8M266.1 976h4M266.1 987.8h4M269.5 975.2V987M267.5 975.2h4M267.5 987h4M270.8 974.5V986.2M268.8 974.5h4M268.8 986.2h4M272.1 973.7V985.5M270.1 973.7h4M270.1 985.5h4M273.4 972.9V984.7M271.4 972.9h4M271.4 984.7h4M274.8 972.2V984M272.8 972.2h4M272.8 984h4M276.1 971.4V983.2M274.1 971.4h4M274.1 983.2h4M277.4 970.7V982.5M275.4 970.7h4M275.4 982.5h4M278.8 969.9V981.7M276.8 969.9h4M276.8 981.7h4M280.1 969.2V981M278.1 969.2h4M278.1 981h4M281.4 968.5V980.2M279.4 968.5h4M279.4 980.2h4M282.8 967.7V979.5M280.8 967.7h4M280.8 979.5h4M284.1 967V978.8M282.1 967h4M282.1 978.8h4M285.4 966.3V978M283.4 966.3h4M283.4 978h4M286.8 965.5V977.3M284.8 965.5h4M284.8 977.3h4M288.1 964.8V976.6M286.1 964.8h4M286.1 976.6h4M289.4 964.1V975.9M287.4 964.1h4M287.4 975.9h4M290.8 963.4V975.2M288.8 963.4h4M288.8 975.2h4M292.1 962.7V974.4M290.1 962.7h4M290.1 974.4h4M293.4 961.9V973.7M291.4 961.9h4M291.4 973.7h4M294.8 961.2V973M292.8 961.2h4M292.8 973h4M296.1 960.5V972.3M294.1 960.5h4M294.1 972.3h4M297.4 959.8V971.6M295.4 959.8h4M295.4 971.6h4M298.8 959.1V970.9M296.8 959.1h4M296.8 970.9h4M300.1 958.4V970.2M298.1 958.4h4M298.1 970.2h4M301.4 957.7V969.5M299.4 957.7h4M299.4 969.5h4M302.8 957V968.8M300.8 957h4M300.8 968.8h4M304.1 956.3V968.1M302.1 956.3h4M302.1 968.1h4M305.4 955.7V967.4M303.4 955.7h4M303.4 967.4h4M306.8 955V966.8M304.8 955h4M304.8 966.8h4M308.1 954.3V966.1M306.1 954.3h4M306.1 966.1h4M309.4 953.6V965.4M307.4 953.6h4M307.4 965.4h4M310.8 952.9V964.7M308.8 952.9h4M308.8 964.7h4M312.1 952.3V964M310.1 952.3h4M310.1 964h4M313.4 951.6V963.4M311.4 951.6h4M311.4 963.4h4M314.7 950.9V962.7M312.7 950.9h4M312.7 962.7h4M316.1 950.3V962M314.1 950.3h4M314.1 962h4M317.4 949.6V961.4M315.4 949.6h4M315.4 961.4h4M318.7 948.9V960.7M316.7 948.9h4M316.7 960.7h4M320.1 948.3V960M318.1 948.3h4M318.1 960h4M321.4 947.6V959.4M319.4 947.6h4M319.4 959.4h4M322.7 947V958.7M320.7 947h4M320.7 958.7h4M324.1 946.3V958.1M322.1 946.3h4M322.1 958.1h4M325.4 945.7V957.4M323.4 945.7h4M323.4 957.4h4M326.7 945V956.8M324.7 945h4M324.7 956.8h4M328.1 944.4V956.1M326.1 944.4h4M326.1 956.1h4M329.4 943.7V955.5M327.4 943.7h4M327.4 955.5h4M330.7 943.1V954.9M328.7 943.1h4M328.7 954.9h4M332.1 942.4V954.2M330.1 942.4h4M330.1 954.2h4M333.4 941.8V953.6M331.4 941.8h4M331.4 953.6h4M334.7 941.2V953M332.7 941.2h4M332.7 953h4M336.1 940.5V952.3M334.1 940.5h4M334.1 952.3h4M337.4 939.9V951.7M335.4 939.9h4M335.4 951.7h4M338.7 939.3V951.1M336.7 939.3h4M336.7 951.1h4M340.1 938.7V950.4M338.1 938.7h4M338.1 950.4h4M341.4 938V949.8M339.4 938h4M339.4 949.8h4M342.7 937.4V949.2M340.7 937.4h4M340.7 949.2h4M344.1 936.8V948.6M342.1 936.8h4M342.1 948.6h4M345.4 936.2V948M343.4 936.2h4M343.4 948h4M346.7 935.6V947.4M344.7 935.6h4M344.7 947.4h4M348.1 935V946.8M346.1 935h4M346.1 946.8h4M349.4 934.4V946.1M347.4 934.4h4M347.4 946.1h4M350.7 933.8V945.5M348.7 933.8h4M348.7 945.5h4M352.1 933.1V944.9M350.1 933.1h4M350.1 944.9h4M353.4 932.5V944.3M351.4 932.5h4M351.4 944.3h4M354.7 931.9V943.7M352.7 931.9h4M352.7 943.7h4M356.1 931.3V943.1M354.1 931.3h4M354.1 943.1h4M357.4 930.8V942.5M355.4 930.8h4M355.4 942.5h4M358.7 930.2V941.9M356.7 930.2h4M356.7 941.9h4M360 929.6V941.3M358 929.6h4M358 941.3h4M361.4 929V940.8M359.4 929h4M359.4 940.8h4M362.7 928.4V940.2M360.7 928.4h4M360.7 940.2h4M364 927.8V939.6M362 927.8h4M362 939.6h4M365.4 927.2V939M363.4 927.2h4M363.4 939h4M366.7 926.6V938.4M364.7 926.6h4M364.7 938.4h4M368 926.1V937.8M366 926.1h4M366 937.8h4M369.4 925.5V937.3M367.4 925.5h4M367.4 937.3h4M370.7 924.9V936.7M368.7 924.9h4M368.7 936.7h4M372 924.3V936.1M370 924.3h4M370 936.1h4M373.4 923.8V935.5M371.4 923.8h4M371.4 935.5h4M374.7 923.2V935M372.7 923.2h4M372.7 935h4M376 922.6V934.4M374 922.6h4M374 934.4h4M377.4 922.1V933.8M375.4 922.1h4M375.4 933.8h4M378.7 921.5V933.3M376.7 921.5h4M376.7 933.3h4M380 920.9V932.7M378 920.9h4M378 932.7h4M381.4 920.4V932.1M379.4 920.4h4M379.4 932.1h4M382.7 919.8V931.6M380.7 919.8h4M380.7 931.6h4M384 919.2V931M382 919.2h4M382 931h4M385.4 918.7V930.4M383.4 918.7h4M383.4 930.4h4M386.7 918.2V929.8M384.7 918.2h4M384.7 929.8h4M388 917.7V929.2M386 917.7h4M386 929.2h4M389.4 917.2V928.6M387.4 917.2h4M387.4 928.6h4M390.7 916.7V928M388.7 916.7h4M388.7 928h4M392 916.2V927.4M390 916.2h4M390 927.4h4M393.4 915.7V926.8M391.4 915.7h4M391.4 926.8h4M394.7 915.3V926.2M392.7 915.3h4M392.7 926.2h4M396 914.8V925.6M394 914.8h4M394 925.6h4M397.4 914.3V925M395.4 914.3h4M395.4 925h4M398.7 913.8V924.5M396.7 913.8h4M396.7 924.5h4M400 913.3V923.9M398 913.3h4M398 923.9h4M401.3 912.8V923.3M399.3 912.8h4M399.3 923.3h4M402.7 912.3V922.7M400.7 912.3h4M400.7 922.7h4M404 911.9V922.1M402 911.9h4M402 922.1h4M405.3 911.4V921.5M403.3 911.4h4M403.3 921.5h4M406.7 910.9V921M404.7 910.9h4M404.7 921h4M408 910.4V920.4M406 910.4h4M406 920.4h4M409.3 910V919.8M407.3 910h4M407.3 919.8h4M410.7 909.5V919.2M408.7 909.5h4M408.7 919.2h4M412 909V918.7M410 909h4M410 918.7h4M413.3 908.5V918.1M411.3 908.5h4M411.3 918.1h4M414.7 908.1V917.5M412.7 908.1h4M412.7 917.5h4M416 907.6V917M414 907.6h4M414 917h4M417.3 907.1V916.4M415.3 907.1h4M415.3 916.4h4M418.7 906.7V915.8M416.7 906.7h4M416.7 915.8h4M420 906.2V915.3M418 906.2h4M418 915.3h4M421.3 905.8V914.7M419.3 905.8h4M419.3 914.7h4M422.7 905.3V914.2M420.7 905.3h4M420.7 914.2h4M424 904.8V913.6M422 904.8h4M422 913.6h4M425.3 904.4V913M423.3 904.4h4M423.3 913h4M426.7 903.9V912.5M424.7 903.9h4M424.7 912.5h4M428 903.5V911.9M426 903.5h4M426 911.9h4M429.3 903V911.4M427.3 903h4M427.3 911.4h4M430.7 902.6V910.8M428.7 902.6h4M428.7 910.8h4M432 902.1V910.3M430 902.1h4M430 910.3h4M433.3 901.7V909.7M431.3 901.7h4M431.3 909.7h4M434.7 901.3V909.2M432.7 901.3h4M432.7 909.2h4M436 900.8V908.7M434 900.8h4M434 908.7h4M437.3 900.4V908.1M435.3 900.4h4M435.3 908.1h4M438.7 899.9V907.6M436.7 899.9h4M436.7 907.6h4M440 899.5V907M438 899.5h4M438 907h4M441.3 899.1V906.5M439.3 899.1h4M439.3 906.5h4M442.7 898.6V906M440.7 898.6h4M440.7 906h4M444 898.2V905.4M442 898.2h4M442 905.4h4M445.3 897.8V904.9M443.3 897.8h4M443.3 904.9h4M446.6 897.3V904.4M444.6 897.3h4M444.6 904.4h4M448 896.9V903.8M446 896.9h4M446 903.8h4M449.3 896.5V903.3M447.3 896.5h4M447.3 903.3h4M450.6 896V902.8M448.6 896h4M448.6 902.8h4M452 895.6V902.2M450 895.6h4M450 902.2h4M453.3 895.2V901.7M451.3 895.2h4M451.3 901.7h4M454.6 894.8V901.2M452.6 894.8h4M452.6 901.2h4M456 894.3V900.7M454 894.3h4M454 900.7h4M457.3 893.9V900.2M455.3 893.9h4M455.3 900.2h4M458.6 893.5V899.6M456.6 893.5h4M456.6 899.6h4M460 893.1V899.1M458 893.1h4M458 899.1h4M461.3 892.7V898.6M459.3 892.7h4M459.3 898.6h4M462.6 892.3V898.1M460.6 892.3h4M460.6 898.1h4M464 891.9V897.6M462 891.9h4M462 897.6h4M465.3 891.4V897.1M463.3 891.4h4M463.3 897.1h4M466.6 891V896.6M464.6 891h4M464.6 896.6h4M468 890.6V896M466 890.6h4M466 896h4M469.3 890.2V895.5M467.3 890.2h4M467.3 895.5h4M470.6 889.8V895M468.6 889.8h4M468.6 895h4M472 889.4V894.5M470 889.4h4M470 894.5h4M473.3 889V894M471.3 889h4M471.3 894h4M474.6 888.6V893.5M472.6 888.6h4M472.6 893.5h4M476 888.2V893M474 888.2h4M474 893h4M477.3 887.8V892.5M475.3 887.8h4M475.3 892.5h4" stroke="#555" stroke-width="0.8" fill="none"/><path d="M75.4 1174.7h7v7h-7zM76.8 1169.5h7v7h-7zM78.1 1165.2h7v7h-7zM79.4 1161.3h7v7h-7zM80.8 1157.7h7v7h-7zM82.1 1154.4h7v7h-7zM83.4 1151.3h7v7h-7zM84.8 1148.3h7v7h-7zM86.1 1145.5h7v7h-7zM87.4 1142.8h7v7h-7zM88.8 1140.2h7v7h-7zM90.1 1137.7h7v7h-7zM91.4 1135.2h7v7h-7zM92.8 1132.9h7v7h-7zM94.1 1130.6h7v7h-7zM95.4 1128.3h7v7h-7zM96.7 1126.1h7v7h-7zM98.1 1124h7v7h-7zM99.4 1121.9h7v7h-7zM100.7 1119.9h7v7h-7zM102.1 1117.9h7v7h-7zM103.4 1115.9h7v7h-7zM104.7 1114h7v7h-7zM106.1 1112.1h7v7h-7zM107.4 1110.2h7v7h-7zM108.7 1108.4h7v7h-7zM110.1 1106.6h7v7h-7zM111.4 1104.8h7v7h-7zM112.7 1103.1h7v7h-7zM114.1 1101.4h7v7h-7zM115.4 1099.7h7v7h-7zM116.7 1098h7v7h-7zM118.1 1096.4h7v7h-7zM119.4 1094.7h7v7h-7zM120.7 1093.1h7v7h-7zM122.1 1091.5h7v7h-7zM123.4 1090h7v7h-7zM124.7 1088.4h7v7h-7zM126.1 1086.9h7v7h-7zM127.4 1085.4h7v7h-7zM128.7 1083.9h7v7h-7zM130.1 1082.4h7v7h-7zM131.4 1081h7v7h-7zM132.7 1079.5h7v7h-7zM134.1 1078.1h7v7h-7zM135.4 1076.7h7v7h-7zM136.7 1075.3h7v7h-7zM138.1 1073.9h7v7h-7zM139.4 1072.5h7v7h-7zM140.7 1071.2h7v7h-7zM142 1069.8h7v7h-7zM143.4 1068.5h7v7h-7zM144.7 1067.1h7v7h-7zM146 1065.8h7v7h-7zM147.4 1064.5h7v7h-7zM148.7 1063.3h7v7h-7zM150 1062h7v7h-7zM151.4 1060.7h7v7h-7zM152.7 1059.5h7v7h-7zM154 1058.2h7v7h-7zM155.4 1057h7v7h-7zM156.7 1055.7h7v7h-7zM158 1054.5h7v7h-7zM159.4 1053.3h7v7h-7zM160.7 1052.1h7v7h-7zM162 1050.9h7v7h-7zM163.4 1049.8h7v7h-7zM164.7 1048.6h7v7h-7zM166 1047.4h7v7h-7zM167.4 1046.3h7v7h-7zM168.7 1045.1h7v7h-7zM170 1044h7v7h-7zM171.4 1042.9h7v7h-7zM172.7 1041.8h7v7h-7zM174 1040.6h7v7h-7zM175.4 1039.5h7v7h-7zM176.7 1038.4h7v7h-7zM178 1037.4h7v7h-7zM179.4 1036.3h7v7h-7zM180.7 1035.2h7v7h-7zM182 1034.1h7v7h-7zM183.3 1033.1h7v7h-7zM184.7 1032h7v7h-7zM186 1031h7v7h-7zM187.3 1029.9h7v7h-7zM188.7 1028.9h7v7h-7zM190 1027.9h7v7h-7zM191.3 1026.8h7v7h-7zM192.7 1025.8h7v7h-7zM194 1024.8h7v7h-7zM195.3 1023.8h7v7h-7zM196.7 1022.8h7v7h-7zM198 1021.8h7v7h-7zM199.3 1020.8h7v7h-7zM200.7 1019.9h7v7h-7zM202 1018.9h7v7h-7zM203.3 1017.9h7v7h-7zM204.7 1017h7v7h-7zM206 1016h7v7h-7zM207.3 1015h7v7h-7zM208.7 1014.1h7v7h-7zM210 1013.2h7v7h-7zM211.3 1012.2h7v7h-7zM212.7 1011.3h7v7h-7zM214 1010.4h7v7h-7zM215.3 1009.4h7v7h-7zM216.7 1008.5h7v7h-7zM218 1007.6h7v7h-7zM219.3 1006.7h7v7h-7zM220.7 1005.8h7v7h-7zM222 1004.9h7v7h-7zM223.3 1004h7v7h-7zM224.6 1003.1h7v7h-7zM226 1002.2h7v7h-7zM227.3 1001.4h7v7h-7zM228.6 1000.5h7v7h-7zM230 999.6h7v7h-7zM231.3 998.8h7v7h-7zM232.6 997.9h7v7h-7zM234 997h7v7h-7zM235.3 996.2h7v7h-7zM236.6 995.3h7v7h-7zM238 994.5h7v7h-7zM239.3 993.6h7v7h-7zM240.6 992.8h7v7h-7zM242 992h7v7h-7zM243.3 991.1h7v7h-7zM244.6 990.3h7v7h-7zM246 989.5h7v7h-7zM247.3 988.7h7v7h-7zM248.6 987.9h7v7h-7zM250 987.1h7v7h-7zM251.3 986.2h7v7h-7zM252.6 985.4h7v7h-7zM254 984.6h7v7h-7zM255.3 983.9h7v7h-7zM256.6 983.1h7v7h-7zM258 982.3h7v7h-7zM259.3 981.5h7v7h-7zM260.6 980.7h7v7h-7zM262 979.9h7v7h-7zM263.3 979.2h7v7h-7zM264.6 978.4h7v7h-7zM266 977.6h7v7h-7zM267.3 976.8h7v7h-7zM268.6 976.1h7v7h-7zM269.9 975.3h7v7h-7zM271.3 974.6h7v7h-7zM272.6 973.8h7v7h-7zM273.9 973.1h7v7h-7zM275.3 972.3h7v7h-7zM276.6 971.6h7v7h-7zM277.9 970.8h7v7h-7zM279.3 970.1h7v7h-7zM280.6 969.4h7v7h-7zM281.9 968.6h7v7h-7zM283.3 967.9h7v7h-7zM284.6 967.2h7v7h-7zM285.9 966.5h7v7h-7zM287.3 965.8h7v7h-7zM288.6 965h7v7h-7zM289.9 964.3h7v7h-7zM291.3 963.6h7v7h-7zM292.6 962.9h7v7h-7zM293.9 962.2h7v7h-7zM295.3 961.5h7v7h-7zM296.6 960.8h7v7h-7zM297.9 960.1h7v7h-7zM299.3 959.4h7v7h-7zM300.6 958.7h7v7h-7zM301.9 958h7v7h-7zM303.3 957.4h7v7h-7zM304.6 956.7h7v7h-7zM305.9 956h7v7h-7zM307.3 955.3h7v7h-7zM308.6 954.7h7v7h-7zM309.9 954h7v7h-7zM311.2 953.3h7v7h-7zM312.6 952.6h7v7h-7zM313.9 952h7v7h-7zM315.2 951.3h7v7h-7zM316.6 950.7h7v7h-7zM317.9 950h7v7h-7zM319.2 949.3h7v7h-7zM320.6 948.7h7v7h-7zM321.9 948h7v7h-7zM323.2 947.4h7v7h-7zM324.6 946.8h7v7h-7zM325.9 946.1h7v7h-7zM327.2 945.5h7v7h-7zM328.6 944.8h7v7h-7zM329.9 944.2h7v7h-7zM331.2 943.6h7v7h-7zM332.6 942.9h7v7h-7zM333.9 942.3h7v7h-7zM335.2 941.7h7v7h-7zM336.6 941.1h7v7h-7zM337.9 940.4h7v7h-7zM339.2 939.8h7v7h-7zM340.6 939.2h7v7h-7zM341.9 938.6h7v7h-7zM343.2 938h7v7h-7zM344.6 937.4h7v7h-7zM345.9 936.8h7v7h-7zM347.2 936.1h7v7h-7zM348.6 935.5h7v7h-7zM349.9 934.9h7v7h-7zM351.2 934.3h7v7h-7zM352.6 933.7h7v7h-7zM353.9 933.1h7v7h-7zM355.2 932.5h7v7h-7zM356.5 932h7v7h-7zM357.9 931.4h7v7h-7zM359.2 930.8h7v7h-7zM360.5 930.2h7v7h-7zM361.9 929.6h7v7h-7zM363.2 929h7v7h-7zM364.5 928.4h7v7h-7zM365.9 927.9h7v7h-7zM367.2 927.3h7v7h-7zM368.5 926.7h7v7h-7zM369.9 926.1h7v7h-7zM371.2 925.6h7v7h-7zM372.5 925h7v7h-7zM373.9 924.4h7v7h-7zM375.2 923.9h7v7h-7zM376.5 923.3h7v7h-7zM377.9 922.8h7v7h-7zM379.2 922.2h7v7h-7zM380.5 921.6h7v7h-7zM381.9 921.1h7v7h-7zM383.2 920.5h7v7h-7zM384.5 920h7v7h-7zM385.9 919.4h7v7h-7zM387.2 918.9h7v7h-7zM388.5 918.3h7v7h-7zM389.9 917.8h7v7h-7zM391.2 917.2h7v7h-7zM392.5 916.7h7v7h-7zM393.9 916.2h7v7h-7zM395.2 915.6h7v7h-7zM396.5 915.1h7v7h-7zM397.8 914.6h7v7h-7zM399.2 914h7v7h-7zM400.5 913.5h7v7h-7zM401.8 913h7v7h-7zM403.2 912.4h7v7h-7zM404.5 911.9h7v7h-7zM405.8 911.4h7v7h-7zM407.2 910.9h7v7h-7zM408.5 910.3h7v7h-7zM409.8 909.8h7v7h-7zM411.2 909.3h7v7h-7zM412.5 908.8h7v7h-7zM413.8 908.3h7v7h-7zM415.2 907.8h7v7h-7zM416.5 907.2h7v7h-7zM417.8 906.7h7v7h-7zM419.2 906.2h7v7h-7zM420.5 905.7h7v7h-7zM421.8 905.2h7v7h-7zM423.2 904.7h7v7h-7zM424.5 904.2h7v7h-7zM425.8 903.7h7v7h-7zM427.2 903.2h7v7h-7zM428.5 902.7h7v7h-7zM429.8 902.2h7v7h-7zM431.2 901.7h7v7h-7zM432.5 901.2h7v7h-7zM433.8 900.7h7v7h-7zM435.2 900.2h7v7h-7zM436.5 899.8h7v7h-7zM437.8 899.3h7v7h-7zM439.2 898.8h7v7h-7zM440.5 898.3h7v7h-7zM441.8 897.8h7v7h-7zM443.1 897.3h7v7h-7zM444.5 896.9h7v7h-7zM445.8 896.4h7v7h-7zM447.1 895.9h7v7h-7zM448.5 895.4h7v7h-7zM449.8 895h7v7h-7zM451.1 894.5h7v7h-7zM452.5 894h7v7h-7zM453.8 893.5h7v7h-7zM455.1 893.1h7v7h-7zM456.5 892.6h7v7h-7zM457.8 892.1h7v7h-7zM459.1 891.7h7v7h-7zM460.5 891.2h7v7h-7zM461.8 890.8h7v7h-7zM463.1 890.3h7v7h-7zM464.5 889.8h7v7h-7zM465.8 889.4h7v7h-7zM467.1 888.9h7v7h-7zM468.5 888.5h7v7h-7zM469.8 888h7v7h-7zM471.1 887.6h7v7h-7zM472.5 887.1h7v7h-7zM473.8 886.7h7v7h-7z" fill="#000"/><path d="M80.3 1190.3V1193.7M78.3 1190.3h4M78.3 1193.7h4M81.6 1185.4V1188.8M79.6 1185.4h4M79.6 1188.8h4M82.9 1180.9V1184.4M80.9 1180.9h4M80.9 1184.4h4M84.3 1176.9V1180.5M82.3 1176.9h4M82.3 1180.5h4M85.6 1173.3V1177M83.6 1173.3h4M83.6 1177h4M86.9 1170V1173.8M84.9 1170h4M84.9 1173.8h4M88.3 1167V1170.9M86.3 1167h4M86.3 1170.9h4M89.6 1164.2V1168.2M87.6 1164.2h4M87.6 1168.2h4M90.9 1161.7V1165.8M88.9 1161.7h4M88.9 1165.8h4M92.3 1159.4V1163.6M90.3 1159.4h4M90.3 1163.6h4M93.6 1157.3V1161.6M91.6 1157.3h4M91.6 1161.6h4M94.9 1155.3V1159.7M92.9 1155.3h4M92.9 1159.7h4M96.3 1153.4V1157.9M94.3 1153.4h4M94.3 1157.9h4M97.6 1151.7V1156.2M95.6 1151.7h4M95.6 1156.2h4M98.9 1150V1154.7M96.9 1150h4M96.9 1154.7h4M100.2 1148.4V1153.1M98.2 1148.4h4M98.2 1153.1h4M101.6 1146.9V1151.7M99.6 1146.9h4M99.6 1151.7h4M102.9 1145.4V1150.4M100.9 1145.4h4M100.9 1150.4h4M104.2 1144V1149.1M102.2 1144h4M102.2 1149.1h4M105.6 1142.7V1147.8M103.6 1142.7h4M103.6 1147.8h4M106.9 1141.4V1146.7M104.9 1141.4h4M104.9 1146.7h4M108.2 1140.2V1145.5M106.2 1140.2h4M106.2 1145.5h4M109.6 1139V1144.4M107.6 1139h4M107.6 1144.4h4M110.9 1137.8V1143.3M108.9 1137.8h4M108.9 1143.3h4M112.2 1136.7V1142.3M110.2 1136.7h4M110.2 1142.3h4M113.6 1135.5V1141.2M111.6 1135.5h4M111.6 1141.2h4M114.9 1134.5V1140.2M112.9 1134.5h4M112.9 1140.2h4M116.2 1133.4V1139.3M114.2 1133.4h4M114.2 1139.3h4M117.6 1132.4V1138.3M115.6 1132.4h4M115.6 1138.3h4M118.9 1131.3V1137.4M116.9 1131.3h4M116.9 1137.4h4M120.2 1130.3V1136.5M118.2 1130.3h4M118.2 1136.5h4M121.6 1129.3V1135.6M119.6 1129.3h4M119.6 1135.6h4M122.9 1128.4V1134.7M120.9 1128.4h4M120.9 1134.7h4M124.2 1127.4V1133.8M122.2 1127.4h4M122.2 1133.8h4M125.6 1126.4V1133M123.6 1126.4h4M123.6 1133h4M126.9 1125.5V1132.1M124.9 1125.5h4M124.9 1132.1h4M128.2 1124.5V1131.2M126.2 1124.5h4M126.2 1131.2h4M129.6 1123.6V1130.4M127.6 1123.6h4M127.6 1130.4h4M130.9 1122.6V1129.5M128.9 1122.6h4M128.9 1129.5h4M132.2 1121.7V1128.7M130.2 1121.7h4M130.2 1128.7h4M133.6 1120.8V1127.9M131.6 1120.8h4M131.6 1127.9h4M134.9 1119.9V1127.1M132.9 1119.9h4M132.9 1127.1h4M136.2 1119V1126.3M134.2 1119h4M134.2 1126.3h4M137.6 1118.1V1125.5M135.6 1118.1h4M135.6 1125.5h4M138.9 1117.2V1124.7M136.9 1117.2h4M136.9 1124.7h4M140.2 1116.4V1123.9M138.2 1116.4h4M138.2 1123.9h4M141.6 1115.5V1123.2M139.6 1115.5h4M139.6 1123.2h4M142.9 1114.7V1122.4M140.9 1114.7h4M140.9 1122.4h4M144.2 1113.9V1121.7M142.2 1113.9h4M142.2 1121.7h4M145.5 1113.1V1121M143.5 1113.1h4M143.5 1121h4M146.9 1112.3V1120.3M144.9 1112.3h4M144.9 1120.3h4M148.2 1111.5V1119.6M146.2 1111.5h4M146.2 1119.6h4M149.5 1110.7V1118.9M147.5 1110.7h4M147.5 1118.9h4M150.9 1110V1118.3M148.9 1110h4M148.9 1118.3h4M152.2 1109.2V1117.6M150.2 1109.2h4M150.2 1117.6h4M153.5 1108.5V1117M151.5 1108.5h4M151.5 1117h4M154.9 1107.7V1116.3M152.9 1107.7h4M152.9 1116.3h4M156.2 1107V1115.7M154.2 1107h4M154.2 1115.7h4M157.5 1106.3V1115.1M155.5 1106.3h4M155.5 1115.1h4M158.9 1105.6V1114.5M156.9 1105.6h4M156.9 1114.5h4M160.2 1104.9V1113.9M158.2 1104.9h4M158.2 1113.9h4M161.5 1104.2V1113.2M159.5 1104.2h4M159.5 1113.2h4M162.9 1103.5V1112.6M160.9 1103.5h4M160.9 1112.6h4M164.2 1102.7V1112M162.2 1102.7h4M162.2 1112h4M165.5 1102V1111.4M163.5 1102h4M163.5 1111.4h4M166.9 1101.3V1110.8M164.9 1101.3h4M164.9 1110.8h4M168.2 1100.6V1110.2M166.2 1100.6h4M166.2 1110.2h4M169.5 1099.9V1109.5M167.5 1099.9h4M167.5 1109.5h4M170.9 1099.2V1108.9M168.9 1099.2h4M168.9 1108.9h4M172.2 1098.5V1108.3M170.2 1098.5h4M170.2 1108.3h4M173.5 1097.7V1107.7M171.5 1097.7h4M171.5 1107.7h4M174.9 1097V1107M172.9 1097h4M172.9 1107h4M176.2 1096.3V1106.4M174.2 1096.3h4M174.2 1106.4h4M177.5 1095.5V1105.7M175.5 1095.5h4M175.5 1105.7h4M178.9 1094.8V1105.1M176.9 1094.8h4M176.9 1105.1h4M180.2 1094.1V1104.5M178.2 1094.1h4M178.2 1104.5h4M181.5 1093.4V1103.8M179.5 1093.4h4M179.5 1103.8h4M182.9 1092.6V1103.2M180.9 1092.6h4M180.9 1103.2h4M184.2 1091.9V1102.6M182.2 1091.9h4M182.2 1102.6h4M185.5 1091.2V1102M183.5 1091.2h4M183.5 1102h4M186.8 1090.5V1101.3M184.8 1090.5h4M184.8 1101.3h4M188.2 1089.8V1100.7M186.2 1089.8h4M186.2 1100.7h4M189.5 1089V1100.1M187.5 1089h4M187.5 1100.1h4M190.8 1088.3V1099.5M188.8 1088.3h4M188.8 1099.5h4M192.2 1087.6V1098.9M190.2 1087.6h4M190.2 1098.9h4M193.5 1086.9V1098.3M191.5 1086.9h4M191.5 1098.3h4M194.8 1086.2V1097.7M192.8 1086.2h4M192.8 1097.7h4M196.2 1085.6V1097.1M194.2 1085.6h4M194.2 1097.1h4M197.5 1084.9V1096.5M195.5 1084.9h4M195.5 1096.5h4M198.8 1084.2V1095.9M196.8 1084.2h4M196.8 1095.9h4M200.2 1083.5V1095.3M198.2 1083.5h4M198.2 1095.3h4M201.5 1082.9V1094.8M199.5 1082.9h4M199.5 1094.8h4M202.8 1082.2V1094.2M200.8 1082.2h4M200.8 1094.2h4M204.2 1081.5V1093.6M202.2 1081.5h4M202.2 1093.6h4M205.5 1080.9V1093.1M203.5 1080.9h4M203.5 1093.1h4M206.8 1080.2V1092.5M204.8 1080.2h4M204.8 1092.5h4M208.2 1079.6V1091.9M206.2 1079.6h4M206.2 1091.9h4M209.5 1078.9V1091.4M207.5 1078.9h4M207.5 1091.4h4M210.8 1078.3V1090.8M208.8 1078.3h4M208.8 1090.8h4M212.2 1077.6V1090.3M210.2 1077.6h4M210.2 1090.3h4M213.5 1077V1089.7M211.5 1077h4M211.5 1089.7h4M214.8 1076.3V1089.2M212.8 1076.3h4M212.8 1089.2h4M216.2 1075.7V1088.6M214.2 1075.7h4M214.2 1088.6h4M217.5 1075.1V1088.1M215.5 1075.1h4M215.5 1088.1h4M218.8 1074.4V1087.6M216.8 1074.4h4M216.8 1087.6h4M220.2 1073.8V1087M218.2 1073.8h4M218.2 1087h4M221.5 1073.2V1086.5M219.5 1073.2h4M219.5 1086.5h4M222.8 1072.6V1086M220.8 1072.6h4M220.8 1086h4M224.2 1072V1085.5M222.2 1072h4M222.2 1085.5h4M225.5 1071.4V1085M223.5 1071.4h4M223.5 1085h4M226.8 1070.8V1084.5M224.8 1070.8h4M224.8 1084.5h4M228.1 1070.2V1084M226.1 1070.2h4M226.1 1084h4M229.5 1069.6V1083.5M227.5 1069.6h4M227.5 1083.5h4M230.8 1069V1083M228.8 1069h4M228.8 1083h4M232.1 1068.5V1082.5M230.1 1068.5h4M230.1 1082.5h4M233.5 1067.9V1082.1M231.5 1067.9h4M231.5 1082.1h4M234.8 1067.3V1081.6M232.8 1067.3h4M232.8 1081.6h4M236.1 1066.8V1081.1M234.1 1066.8h4M234.1 1081.1h4M237.5 1066.2V1080.7M235.5 1066.2h4M235.5 1080.7h4M238.8 1065.7V1080.2M236.8 1065.7h4M236.8 1080.2h4M240.1 1065.1V1079.8M238.1 1065.1h4M238.1 1079.8h4M241.5 1064.6V1079.3M239.5 1064.6h4M239.5 1079.3h4M242.8 1064V1078.9M240.8 1064h4M240.8 1078.9h4M244.1 1063.5V1078.4M242.1 1063.5h4M242.1 1078.4h4M245.5 1063V1078M243.5 1063h4M243.5 1078h4M246.8 1062.4V1077.6M244.8 1062.4h4M244.8 1077.6h4M248.1 1061.9V1077.1M246.1 1061.9h4M246.1 1077.1h4M249.5 1061.4V1076.7M247.5 1061.4h4M247.5 1076.7h4M250.8 1060.9V1076.3M248.8 1060.9h4M248.8 1076.3h4M252.1 1060.4V1075.9M250.1 1060.4h4M250.1 1075.9h4M253.5 1059.9V1075.4M251.5 1059.9h4M251.5 1075.4h4M254.8 1059.3V1075M252.8 1059.3h4M252.8 1075h4M256.1 1058.8V1074.6M254.1 1058.8h4M254.1 1074.6h4M257.5 1058.3V1074.2M255.5 1058.3h4M255.5 1074.2h4M258.8 1057.8V1073.8M256.8 1057.8h4M256.8 1073.8h4M260.1 1057.3V1073.4M258.1 1057.3h4M258.1 1073.4h4M261.5 1056.8V1073M259.5 1056.8h4M259.5 1073h4M262.8 1056.3V1072.6M260.8 1056.3h4M260.8 1072.6h4M264.1 1055.8V1072.2M262.1 1055.8h4M262.1 1072.2h4M265.5 1055.3V1071.8M263.5 1055.3h4M263.5 1071.8h4M266.8 1054.8V1071.4M264.8 1054.8h4M264.8 1071.4h4M268.1 1054.4V1071M266.1 1054.4h4M266.1 1071h4M269.5 1053.9V1070.6M267.5 1053.9h4M267.5 1070.6h4M270.8 1053.4V1070.2M268.8 1053.4h4M268.8 1070.2h4M272.1 1052.9V1069.8M270.1 1052.9h4M270.1 1069.8h4M273.4 1052.5V1069.5M271.4 1052.5h4M271.4 1069.5h4M274.8 1052V1069.1M272.8 1052h4M272.8 1069.1h4M276.1 1051.5V1068.7M274.1 1051.5h4M274.1 1068.7h4M277.4 1051.1V1068.4M275.4 1051.1h4M275.4 1068.4h4M278.8 1050.6V1068M276.8 1050.6h4M276.8 1068h4M280.1 1050.2V1067.6M278.1 1050.2h4M278.1 1067.6h4M281.4 1049.7V1067.3M279.4 1049.7h4M279.4 1067.3h4M282.8 1049.3V1066.9M280.8 1049.3h4M280.8 1066.9h4M284.1 1048.8V1066.5M282.1 1048.8h4M282.1 1066.5h4M285.4 1048.3V1066.2M283.4 1048.3h4M283.4 1066.2h4M286.8 1047.9V1065.8M284.8 1047.9h4M284.8 1065.8h4M288.1 1047.4V1065.5M286.1 1047.4h4M286.1 1065.5h4M289.4 1047V1065.1M287.4 1047h4M287.4 1065.1h4M290.8 1046.5V1064.8M288.8 1046.5h4M288.8 1064.8h4M292.1 1046.1V1064.4M290.1 1046.1h4M290.1 1064.4h4M293.4 1045.6V1064.1M291.4 1045.6h4M291.4 1064.1h4M294.8 1045.2V1063.7M292.8 1045.2h4M292.8 1063.7h4M296.1 1044.7V1063.3M294.1 1044.7h4M294.1 1063.3h4M297.4 1044.3V1063M295.4 1044.3h4M295.4 1063h4M298.8 1043.8V1062.6M296.8 1043.8h4M296.8 1062.6h4M300.1 1043.4V1062.3M298.1 1043.4h4M298.1 1062.3h4M301.4 1042.9V1061.9M299.4 1042.9h4M299.4 1061.9h4M302.8 1042.4V1061.5M300.8 1042.4h4M300.8 1061.5h4M304.1 1042V1061.1M302.1 1042h4M302.1 1061.1h4M305.4 1041.5V1060.8M303.4 1041.5h4M303.4 1060.8h4M306.8 1041V1060.4M304.8 1041h4M304.8 1060.4h4M308.1 1040.6V1060M306.1 1040.6h4M306.1 1060h4M309.4 1040.1V1059.6M307.4 1040.1h4M307.4 1059.6h4M310.8 1039.6V1059.2M308.8 1039.6h4M308.8 1059.2h4M312.1 1039.1V1058.8M310.1 1039.1h4M310.1 1058.8h4M313.4 1038.6V1058.4M311.4 1038.6h4M311.4 1058.4h4M314.7 1038.1V1058M312.7 1038.1h4M312.7 1058h4M316.1 1037.6V1057.6M314.1 1037.6h4M314.1 1057.6h4M317.4 1037.1V1057.2M315.4 1037.1h4M315.4 1057.2h4M318.7 1036.6V1056.8M316.7 1036.6h4M316.7 1056.8h4M320.1 1036.1V1056.4M318.1 1036.1h4M318.1 1056.4h4M321.4 1035.6V1056M319.4 1035.6h4M319.4 1056h4M322.7 1035.1V1055.6M320.7 1035.1h4M320.7 1055.6h4M324.1 1034.6V1055.2M322.1 1034.6h4M322.1 1055.2h4M325.4 1034.1V1054.8M323.4 1034.1h4M323.4 1054.8h4M326.7 1033.6V1054.4M324.7 1033.6h4M324.7 1054.4h4M328.1 1033.1V1054M326.1 1033.1h4M326.1 1054h4M329.4 1032.6V1053.5M327.4 1032.6h4M327.4 1053.5h4M330.7 1032.1V1053.1M328.7 1032.1h4M328.7 1053.1h4M332.1 1031.6V1052.7M330.1 1031.6h4M330.1 1052.7h4M333.4 1031.1V1052.3M331.4 1031.1h4M331.4 1052.3h4M334.7 1030.5V1051.9M332.7 1030.5h4M332.7 1051.9h4M336.1 1030V1051.5M334.1 1030h4M334.1 1051.5h4M337.4 1029.5V1051M335.4 1029.5h4M335.4 1051h4M338.7 1029V1050.6M336.7 1029h4M336.7 1050.6h4M340.1 1028.5V1050.2M338.1 1028.5h4M338.1 1050.2h4M341.4 1028V1049.8M339.4 1028h4M339.4 1049.8h4M342.7 1027.5V1049.4M340.7 1027.5h4M340.7 1049.4h4M344.1 1027V1048.9M342.1 1027h4M342.1 1048.9h4M345.4 1026.4V1048.5M343.4 1026.4h4M343.4 1048.5h4M346.7 1025.9V1048.1M344.7 1025.9h4M344.7 1048.1h4M348.1 1025.4V1047.7M346.1 1025.4h4M346.1 1047.7h4M349.4 1024.9V1047.3M347.4 1024.9h4M347.4 1047.3h4M350.7 1024.4V1046.9M348.7 1024.4h4M348.7 1046.9h4M352.1 1023.9V1046.5M350.1 1023.9h4M350.1 1046.5h4M353.4 1023.4V1046M351.4 1023.4h4M351.4 1046h4M354.7 1022.9V1045.6M352.7 1022.9h4M352.7 1045.6h4M356.1 1022.4V1045.2M354.1 1022.4h4M354.1 1045.2h4M357.4 1021.9V1044.8M355.4 1021.9h4M355.4 1044.8h4M358.7 1021.4V1044.4M356.7 1021.4h4M356.7 1044.4h4M360 1020.9V1044M358 1020.9h4M358 1044h4M361.4 1020.4V1043.6M359.4 1020.4h4M359.4 1043.6h4M362.7 1019.9V1043.2M360.7 1019.9h4M360.7 1043.2h4M364 1019.4V1042.8M362 1019.4h4M362 1042.8h4M365.4 1018.9V1042.4M363.4 1018.9h4M363.4 1042.4h4M366.7 1018.4V1042M364.7 1018.4h4M364.7 1042h4M368 1017.9V1041.6M366 1017.9h4M366 1041.6h4M369.4 1017.4V1041.2M367.4 1017.4h4M367.4 1041.2h4M370.7 1016.9V1040.8M368.7 1016.9h4M368.7 1040.8h4M372 1016.4V1040.4M370 1016.4h4M370 1040.4h4M373.4 1015.9V1039.9M371.4 1015.9h4M371.4 1039.9h4M374.7 1015.4V1039.5M372.7 1015.4h4M372.7 1039.5h4M376 1014.9V1039.1M374 1014.9h4M374 1039.1h4M377.4 1014.4V1038.7M375.4 1014.4h4M375.4 1038.7h4M378.7 1013.9V1038.3M376.7 1013.9h4M376.7 1038.3h4M380 1013.4V1037.9M378 1013.4h4M378 1037.9h4M381.4 1012.9V1037.5M379.4 1012.9h4M379.4 1037.5h4M382.7 1012.4V1037.1M380.7 1012.4h4M380.7 1037.1h4M384 1011.9V1036.7M382 1011.9h4M382 1036.7h4M385.4 1011.4V1036.3M383.4 1011.4h4M383.4 1036.3h4M386.7 1010.9V1035.9M384.7 1010.9h4M384.7 1035.9h4M388 1010.5V1035.6M386 1010.5h4M386 1035.6h4M389.4 1010V1035.2M387.4 1010h4M387.4 1035.2h4M390.7 1009.5V1034.8M388.7 1009.5h4M388.7 1034.8h4M392 1009V1034.4M390 1009h4M390 1034.4h4M393.4 1008.5V1034M391.4 1008.5h4M391.4 1034h4M394.7 1008.1V1033.6M392.7 1008.1h4M392.7 1033.6h4M396 1007.6V1033.3M394 1007.6h4M394 1033.3h4M397.4 1007.1V1032.9M395.4 1007.1h4M395.4 1032.9h4M398.7 1006.7V1032.5M396.7 1006.7h4M396.7 1032.5h4M400 1006.2V1032.2M398 1006.2h4M398 1032.2h4M401.3 1005.7V1031.8M399.3 1005.7h4M399.3 1031.8h4M402.7 1005.3V1031.4M400.7 1005.3h4M400.7 1031.4h4M404 1004.8V1031.1M402 1004.8h4M402 1031.1h4M405.3 1004.4V1030.7M403.3 1004.4h4M403.3 1030.7h4M406.7 1003.9V1030.4M404.7 1003.9h4M404.7 1030.4h4M408 1003.5V1030M406 1003.5h4M406 1030h4M409.3 1003V1029.7M407.3 1003h4M407.3 1029.7h4M410.7 1002.6V1029.3M408.7 1002.6h4M408.7 1029.3h4M412 1002.2V1029M410 1002.2h4M410 1029h4M413.3 1001.7V1028.6M411.3 1001.7h4M411.3 1028.6h4M414.7 1001.3V1028.3M412.7 1001.3h4M412.7 1028.3h4M416 1000.8V1027.9M414 1000.8h4M414 1027.9h4M417.3 1000.4V1027.6M415.3 1000.4h4M415.3 1027.6h4M418.7 1000V1027.2M416.7 1000h4M416.7 1027.2h4M420 999.5V1026.9M418 999.5h4M418 1026.9h4M421.3 999.1V1026.6M419.3 999.1h4M419.3 1026.6h4M422.7 998.7V1026.2M420.7 998.7h4M420.7 1026.2h4M424 998.2V1025.9M422 998.2h4M422 1025.9h4M425.3 997.8V1025.6M423.3 997.8h4M423.3 1025.6h4M426.7 997.4V1025.2M424.7 997.4h4M424.7 1025.2h4M428 997V1024.9M426 997h4M426 1024.9h4M429.3 996.5V1024.5M427.3 996.5h4M427.3 1024.5h4M430.7 996.1V1024.2M428.7 996.1h4M428.7 1024.2h4M432 995.7V1023.9M430 995.7h4M430 1023.9h4M433.3 995.2V1023.5M431.3 995.2h4M431.3 1023.5h4M434.7 994.8V1023.2M432.7 994.8h4M432.7 1023.2h4M436 994.4V1022.9M434 994.4h4M434 1022.9h4M437.3 993.9V1022.5M435.3 993.9h4M435.3 1022.5h4M438.7 993.5V1022.2M436.7 993.5h4M436.7 1022.2h4M440 993.1V1021.8M438 993.1h4M438 1021.8h4M441.3 992.6V1021.5M439.3 992.6h4M439.3 1021.5h4M442.7 992.2V1021.2M440.7 992.2h4M440.7 1021.2h4M444 991.8V1020.8M442 991.8h4M442 1020.8h4M445.3 991.3V1020.5M443.3 991.3h4M443.3 1020.5h4M446.6 990.9V1020.2M444.6 990.9h4M444.6 1020.2h4M448 990.5V1019.8M446 990.5h4M446 1019.8h4M449.3 990.1V1019.5M447.3 990.1h4M447.3 1019.5h4M450.6 989.6V1019.2M448.6 989.6h4M448.6 1019.2h4M452 989.2V1018.8M450 989.2h4M450 1018.8h4M453.3 988.8V1018.5M451.3 988.8h4M451.3 1018.5h4M454.6 988.3V1018.2M452.6 988.3h4M452.6 1018.2h4M456 987.9V1017.8M454 987.9h4M454 1017.8h4M457.3 987.5V1017.5M455.3 987.5h4M455.3 1017.5h4M458.6 987.1V1017.2M456.6 987.1h4M456.6 1017.2h4M460 986.6V1016.8M458 986.6h4M458 1016.8h4M461.3 986.2V1016.5M459.3 986.2h4M459.3 1016.5h4M462.6 985.8V1016.2M460.6 985.8h4M460.6 1016.2h4M464 985.4V1015.8M462 985.4h4M462 1015.8h4M465.3 984.9V1015.5M463.3 984.9h4M463.3 1015.5h4M466.6 984.5V1015.2M464.6 984.5h4M464.6 1015.2h4M468 984.1V1014.8M466 984.1h4M466 1014.8h4M469.3 983.7V1014.5M467.3 983.7h4M467.3 1014.5h4M470.6 983.2V1014.2M468.6 983.2h4M468.6 1014.2h4M472 982.8V1013.9M470 982.8h4M470 1013.9h4M473.3 982.4V1013.5M471.3 982.4h4M471.3 1013.5h4M474.6 982V1013.2M472.6 982h4M472.6 1013.2h4M476 981.6V1012.9M474 981.6h4M474 1012.9h4M477.3 981.1V1012.5M475.3 981.1h4M475.3 1012.5h4" stroke="#3838b0" stroke-width="0.9" fill="none"/><path d="M80.3 1186.6l5.2 9h-10.5zM81.6 1181.7l5.2 9h-10.5zM82.9 1177.2l5.2 9h-10.5zM84.3 1173.3l5.2 9h-10.5zM85.6 1169.8l5.2 9h-10.5zM86.9 1166.5l5.2 9h-10.5zM88.3 1163.5l5.2 9h-10.5zM89.6 1160.8l5.2 9h-10.5zM90.9 1158.3l5.2 9h-10.5zM92.3 1156.1l5.2 9h-10.5zM93.6 1154l5.2 9h-10.5zM94.9 1152.1l5.2 9h-10.5zM96.3 1150.3l5.2 9h-10.5zM97.6 1148.5l5.2 9h-10.5zM98.9 1146.9l5.2 9h-10.5zM100.2 1145.4l5.2 9h-10.5zM101.6 1143.9l5.2 9h-10.5zM102.9 1142.5l5.2 9h-10.5zM104.2 1141.2l5.2 9h-10.5zM105.6 1139.9l5.2 9h-10.5zM106.9 1138.7l5.2 9h-10.5zM108.2 1137.5l5.2 9h-10.5zM109.6 1136.3l5.2 9h-10.5zM110.9 1135.2l5.2 9h-10.5zM112.2 1134.1l5.2 9h-10.5zM113.6 1133l5.2 9h-10.5zM114.9 1131.9l5.2 9h-10.5zM116.2 1130.9l5.2 9h-10.5zM117.6 1129.9l5.2 9h-10.5zM118.9 1129l5.2 9h-10.5zM120.2 1128l5.2 9h-10.5zM121.6 1127.1l5.2 9h-10.5zM122.9 1126.1l5.2 9h-10.5zM124.2 1125.2l5.2 9h-10.5zM125.6 1124.3l5.2 9h-10.5zM126.9 1123.4l5.2 9h-10.5zM128.2 1122.5l5.2 9h-10.5zM129.6 1121.6l5.2 9h-10.5zM130.9 1120.7l5.2 9h-10.5zM132.2 1119.8l5.2 9h-10.5zM133.6 1118.9l5.2 9h-10.5zM134.9 1118.1l5.2 9h-10.5zM136.2 1117.2l5.2 9h-10.5zM137.6 1116.4l5.2 9h-10.5zM138.9 1115.6l5.2 9h-10.5zM140.2 1114.8l5.2 9h-10.5zM141.6 1114l5.2 9h-10.5zM142.9 1113.2l5.2 9h-10.5zM144.2 1112.4l5.2 9h-10.5zM145.5 1111.6l5.2 9h-10.5zM146.9 1110.9l5.2 9h-10.5zM148.2 1110.2l5.2 9h-10.5zM149.5 1109.4l5.2 9h-10.5zM150.9 1108.7l5.2 9h-10.5zM152.2 1108l5.2 9h-10.5zM153.5 1107.3l5.2 9h-10.5zM154.9 1106.6l5.2 9h-10.5zM156.2 1106l5.2 9h-10.5zM157.5 1105.3l5.2 9h-10.5zM158.9 1104.6l5.2 9h-10.5zM160.2 1104l5.2 9h-10.5zM161.5 1103.3l5.2 9h-10.5zM162.9 1102.6l5.2 9h-10.5zM164.2 1102l5.2 9h-10.5zM165.5 1101.3l5.2 9h-10.5zM166.9 1100.7l5.2 9h-10.5zM168.2 1100l5.2 9h-10.5zM169.5 1099.3l5.2 9h-10.5zM170.9 1098.6l5.2 9h-10.5zM172.2 1098l5.2 9h-10.5zM173.5 1097.3l5.2 9h-10.5zM174.9 1096.6l5.2 9h-10.5zM176.2 1095.9l5.2 9h-10.5zM177.5 1095.2l5.2 9h-10.5zM178.9 1094.6l5.2 9h-10.5zM180.2 1093.9l5.2 9h-10.5zM181.5 1093.2l5.2 9h-10.5zM182.9 1092.5l5.2 9h-10.5zM184.2 1091.8l5.2 9h-10.5zM185.5 1091.2l5.2 9h-10.5zM186.8 1090.5l5.2 9h-10.5zM188.2 1089.8l5.2 9h-10.5zM189.5 1089.2l5.2 9h-10.5zM190.8 1088.5l5.2 9h-10.5zM192.2 1087.9l5.2 9h-10.5zM193.5 1087.2l5.2 9h-10.5zM194.8 1086.6l5.2 9h-10.5zM196.2 1085.9l5.2 9h-10.5zM197.5 1085.3l5.2 9h-10.5zM198.8 1084.7l5.2 9h-10.5zM200.2 1084l5.2 9h-10.5zM201.5 1083.4l5.2 9h-10.5zM202.8 1082.8l5.2 9h-10.5zM204.2 1082.2l5.2 9h-10.5zM205.5 1081.6l5.2 9h-10.5zM206.8 1081l5.2 9h-10.5zM208.2 1080.3l5.2 9h-10.5zM209.5 1079.7l5.2 9h-10.5zM210.8 1079.1l5.2 9h-10.5zM212.2 1078.5l5.2 9h-10.5zM213.5 1077.9l5.2 9h-10.5zM214.8 1077.3l5.2 9h-10.5zM216.2 1076.8l5.2 9h-10.5zM217.5 1076.2l5.2 9h-10.5zM218.8 1075.6l5.2 9h-10.5zM220.2 1075l5.2 9h-10.5zM221.5 1074.5l5.2 9h-10.5zM222.8 1073.9l5.2 9h-10.5zM224.2 1073.3l5.2 9h-10.5zM225.5 1072.8l5.2 9h-10.5zM226.8 1072.2l5.2 9h-10.5zM228.1 1071.7l5.2 9h-10.5zM229.5 1071.2l5.2 9h-10.5zM230.8 1070.6l5.2 9h-10.5zM232.1 1070.1l5.2 9h-10.5zM233.5 1069.6l5.2 9h-10.5zM234.8 1069.1l5.2 9h-10.5zM236.1 1068.6l5.2 9h-10.5zM237.5 1068l5.2 9h-10.5zM238.8 1067.5l5.2 9h-10.5zM240.1 1067l5.2 9h-10.5zM241.5 1066.6l5.2 9h-10.5zM242.8 1066.1l5.2 9h-10.5zM244.1 1065.6l5.2 9h-10.5zM245.5 1065.1l5.2 9h-10.5zM246.8 1064.6l5.2 9h-10.5zM248.1 1064.1l5.2 9h-10.5zM249.5 1063.7l5.2 9h-10.5zM250.8 1063.2l5.2 9h-10.5zM252.1 1062.7l5.2 9h-10.5zM253.5 1062.2l5.2 9h-10.5zM254.8 1061.8l5.2 9h-10.5zM256.1 1061.3l5.2 9h-10.5zM257.5 1060.9l5.2 9h-10.5zM258.8 1060.4l5.2 9h-10.5zM260.1 1059.9l5.2 9h-10.5zM261.5 1059.5l5.2 9h-10.5zM262.8 1059l5.2 9h-10.5zM264.1 1058.6l5.2 9h-10.5zM265.5 1058.1l5.2 9h-10.5zM266.8 1057.7l5.2 9h-10.5zM268.1 1057.3l5.2 9h-10.5zM269.5 1056.8l5.2 9h-10.5zM270.8 1056.4l5.2 9h-10.5zM272.1 1056l5.2 9h-10.5zM273.4 1055.6l5.2 9h-10.5zM274.8 1055.1l5.2 9h-10.5zM276.1 1054.7l5.2 9h-10.5zM277.4 1054.3l5.2 9h-10.5zM278.8 1053.9l5.2 9h-10.5zM280.1 1053.5l5.2 9h-10.5zM281.4 1053.1l5.2 9h-10.5zM282.8 1052.7l5.2 9h-10.5zM284.1 1052.3l5.2 9h-10.5zM285.4 1051.9l5.2 9h-10.5zM286.8 1051.5l5.2 9h-10.5zM288.1 1051.1l5.2 9h-10.5zM289.4 1050.7l5.2 9h-10.5zM290.8 1050.3l5.2 9h-10.5zM292.1 1049.9l5.2 9h-10.5zM293.4 1049.5l5.2 9h-10.5zM294.8 1049l5.2 9h-10.5zM296.1 1048.6l5.2 9h-10.5zM297.4 1048.2l5.2 9h-10.5zM298.8 1047.8l5.2 9h-10.5zM300.1 1047.4l5.2 9h-10.5zM301.4 1047l5.2 9h-10.5zM302.8 1046.6l5.2 9h-10.5zM304.1 1046.2l5.2 9h-10.5zM305.4 1045.7l5.2 9h-10.5zM306.8 1045.3l5.2 9h-10.5zM308.1 1044.9l5.2 9h-10.5zM309.4 1044.5l5.2 9h-10.5zM310.8 1044l5.2 9h-10.5zM312.1 1043.6l5.2 9h-10.5zM313.4 1043.1l5.2 9h-10.5zM314.7 1042.7l5.2 9h-10.5zM316.1 1042.2l5.2 9h-10.5zM317.4 1041.8l5.2 9h-10.5zM318.7 1041.3l5.2 9h-10.5zM320.1 1040.9l5.2 9h-10.5zM321.4 1040.4l5.2 9h-10.5zM322.7 1040l5.2 9h-10.5zM324.1 1039.5l5.2 9h-10.5zM325.4 1039.1l5.2 9h-10.5zM326.7 1038.6l5.2 9h-10.5zM328.1 1038.1l5.2 9h-10.5zM329.4 1037.7l5.2 9h-10.5zM330.7 1037.2l5.2 9h-10.5zM332.1 1036.7l5.2 9h-10.5zM333.4 1036.3l5.2 9h-10.5zM334.7 1035.8l5.2 9h-10.5zM336.1 1035.3l5.2 9h-10.5zM337.4 1034.9l5.2 9h-10.5zM338.7 1034.4l5.2 9h-10.5zM340.1 1033.9l5.2 9h-10.5zM341.4 1033.5l5.2 9h-10.5zM342.7 1033l5.2 9h-10.5zM344.1 1032.6l5.2 9h-10.5zM345.4 1032.1l5.2 9h-10.5zM346.7 1031.6l5.2 9h-10.5zM348.1 1031.2l5.2 9h-10.5zM349.4 1030.7l5.2 9h-10.5zM350.7 1030.2l5.2 9h-10.5zM352.1 1029.8l5.2 9h-10.5zM353.4 1029.3l5.2 9h-10.5zM354.7 1028.9l5.2 9h-10.5zM356.1 1028.4l5.2 9h-10.5zM357.4 1028l5.2 9h-10.5zM358.7 1027.5l5.2 9h-10.5zM360 1027.1l5.2 9h-10.5zM361.4 1026.6l5.2 9h-10.5zM362.7 1026.1l5.2 9h-10.5zM364 1025.7l5.2 9h-10.5zM365.4 1025.2l5.2 9h-10.5zM366.7 1024.8l5.2 9h-10.5zM368 1024.3l5.2 9h-10.5zM369.4 1023.9l5.2 9h-10.5zM370.7 1023.4l5.2 9h-10.5zM372 1023l5.2 9h-10.5zM373.4 1022.5l5.2 9h-10.5zM374.7 1022.1l5.2 9h-10.5zM376 1021.6l5.2 9h-10.5zM377.4 1021.2l5.2 9h-10.5zM378.7 1020.7l5.2 9h-10.5zM380 1020.3l5.2 9h-10.5zM381.4 1019.8l5.2 9h-10.5zM382.7 1019.4l5.2 9h-10.5zM384 1018.9l5.2 9h-10.5zM385.4 1018.5l5.2 9h-10.5zM386.7 1018l5.2 9h-10.5zM388 1017.6l5.2 9h-10.5zM389.4 1017.2l5.2 9h-10.5zM390.7 1016.7l5.2 9h-10.5zM392 1016.3l5.2 9h-10.5zM393.4 1015.9l5.2 9h-10.5zM394.7 1015.4l5.2 9h-10.5zM396 1015l5.2 9h-10.5zM397.4 1014.6l5.2 9h-10.5zM398.7 1014.2l5.2 9h-10.5zM400 1013.8l5.2 9h-10.5zM401.3 1013.4l5.2 9h-10.5zM402.7 1013l5.2 9h-10.5zM404 1012.6l5.2 9h-10.5zM405.3 1012.2l5.2 9h-10.5zM406.7 1011.8l5.2 9h-10.5zM408 1011.4l5.2 9h-10.5zM409.3 1011l5.2 9h-10.5zM410.7 1010.6l5.2 9h-10.5zM412 1010.2l5.2 9h-10.5zM413.3 1009.8l5.2 9h-10.5zM414.7 1009.4l5.2 9h-10.5zM416 1009l5.2 9h-10.5zM417.3 1008.6l5.2 9h-10.5zM418.7 1008.2l5.2 9h-10.5zM420 1007.8l5.2 9h-10.5zM421.3 1007.4l5.2 9h-10.5zM422.7 1007.1l5.2 9h-10.5zM424 1006.7l5.2 9h-10.5zM425.3 1006.3l5.2 9h-10.5zM426.7 1005.9l5.2 9h-10.5zM428 1005.5l5.2 9h-10.5zM429.3 1005.1l5.2 9h-10.5zM430.7 1004.8l5.2 9h-10.5zM432 1004.4l5.2 9h-10.5zM433.3 1004l5.2 9h-10.5zM434.7 1003.6l5.2 9h-10.5zM436 1003.2l5.2 9h-10.5zM437.3 1002.8l5.2 9h-10.5zM438.7 1002.4l5.2 9h-10.5zM440 1002.1l5.2 9h-10.5zM441.3 1001.7l5.2 9h-10.5zM442.7 1001.3l5.2 9h-10.5zM444 1000.9l5.2 9h-10.5zM445.3 1000.5l5.2 9h-10.5zM446.6 1000.1l5.2 9h-10.5zM448 999.8l5.2 9h-10.5zM449.3 999.4l5.2 9h-10.5zM450.6 999l5.2 9h-10.5zM452 998.6l5.2 9h-10.5zM453.3 998.2l5.2 9h-10.5zM454.6 997.8l5.2 9h-10.5zM456 997.5l5.2 9h-10.5zM457.3 997.1l5.2 9h-10.5zM458.6 996.7l5.2 9h-10.5zM460 996.3l5.2 9h-10.5zM461.3 995.9l5.2 9h-10.5zM462.6 995.6l5.2 9h-10.5zM464 995.2l5.2 9h-10.5zM465.3 994.8l5.2 9h-10.5zM466.6 994.4l5.2 9h-10.5zM468 994.1l5.2 9h-10.5zM469.3 993.7l5.2 9h-10.5zM470.6 993.3l5.2 9h-10.5zM472 992.9l5.2 9h-10.5zM473.3 992.6l5.2 9h-10.5zM474.6 992.2l5.2 9h-10.5zM476 991.8l5.2 9h-10.5zM477.3 991.4l5.2 9h-10.5z" fill="#0000b4"/></g><text x="83.1" y="856.9" class="pl">c)</text><rect x="296.8" y="1108.8" width="177.7" height="93.70000000000005" fill="#fff" stroke="#000" stroke-width="1.6"/><text x="301.3" y="1124.6" class="lg">LNMO/Graphite</text><path d="M302.4 1138.3H338.8" stroke="#5aaaf0" stroke-width="1.2"/><circle cx="320.6" cy="1138.3" r="4" fill="#0a86f0"/><text x="344.2" y="1143.6" class="lg">+ 5 wt% Li<tspan dy="5" class="sb">2</tspan><tspan dy="-5">C</tspan><tspan dy="5" class="sb">2</tspan><tspan dy="-5">O</tspan><tspan dy="5" class="sb">4</tspan></text><path d="M302.4 1163.5H338.8" stroke="#5050c0" stroke-width="1.2"/><path d="M320.6 1159.2l4.6 7.6h-9.2z" fill="#0000b4"/><text x="344.2" y="1168.8" class="lg">+ 2.5 wt% Li<tspan dy="5" class="sb">2</tspan><tspan dy="-5">C</tspan><tspan dy="5" class="sb">2</tspan><tspan dy="-5">O</tspan><tspan dy="5" class="sb">4</tspan></text><path d="M302.4 1188.6H338.8" stroke="#606060" stroke-width="1.2"/><rect x="317.1" y="1185.1" width="7" height="7" fill="#000"/><text x="344.2" y="1193.9" class="lg">+ 0 wt% Li<tspan dy="5" class="sb">2</tspan><tspan dy="-5">C</tspan><tspan dy="5" class="sb">2</tspan><tspan dy="-5">O</tspan><tspan dy="5" class="sb">4</tspan></text><text x="77.6" y="1247" text-anchor="middle" class="xl">0</text><text x="144.2" y="1247" text-anchor="middle" class="xl">50</text><text x="210.8" y="1247" text-anchor="middle" class="xl">100</text><text x="277.4" y="1247" text-anchor="middle" class="xl">150</text><text x="344.1" y="1247" text-anchor="middle" class="xl">200</text><text x="410.7" y="1247" text-anchor="middle" class="xl">250</text><text x="477.3" y="1247" text-anchor="middle" class="xl">300</text><text x="277.4" y="1273.5" text-anchor="middle" class="xt">Cycle [#]</text><text transform="translate(15.6 206.2) rotate(-90)" text-anchor="middle" class="yt">Spec. capacity [mAh/g<tspan dy="6" class="ys">LNMO</tspan><tspan dy="-6">]</tspan></text><text transform="translate(15.8 612.2) rotate(-90)" text-anchor="middle" class="yt yb">Coulombic efficiency [%]</text><text transform="translate(15.6 1038.2) rotate(-90)" text-anchor="middle" class="yt">Charge endpoint slippage [mAh/g<tspan dy="6" class="ys">LNMO</tspan><tspan dy="-6">]</tspan></text></svg></body></html>
